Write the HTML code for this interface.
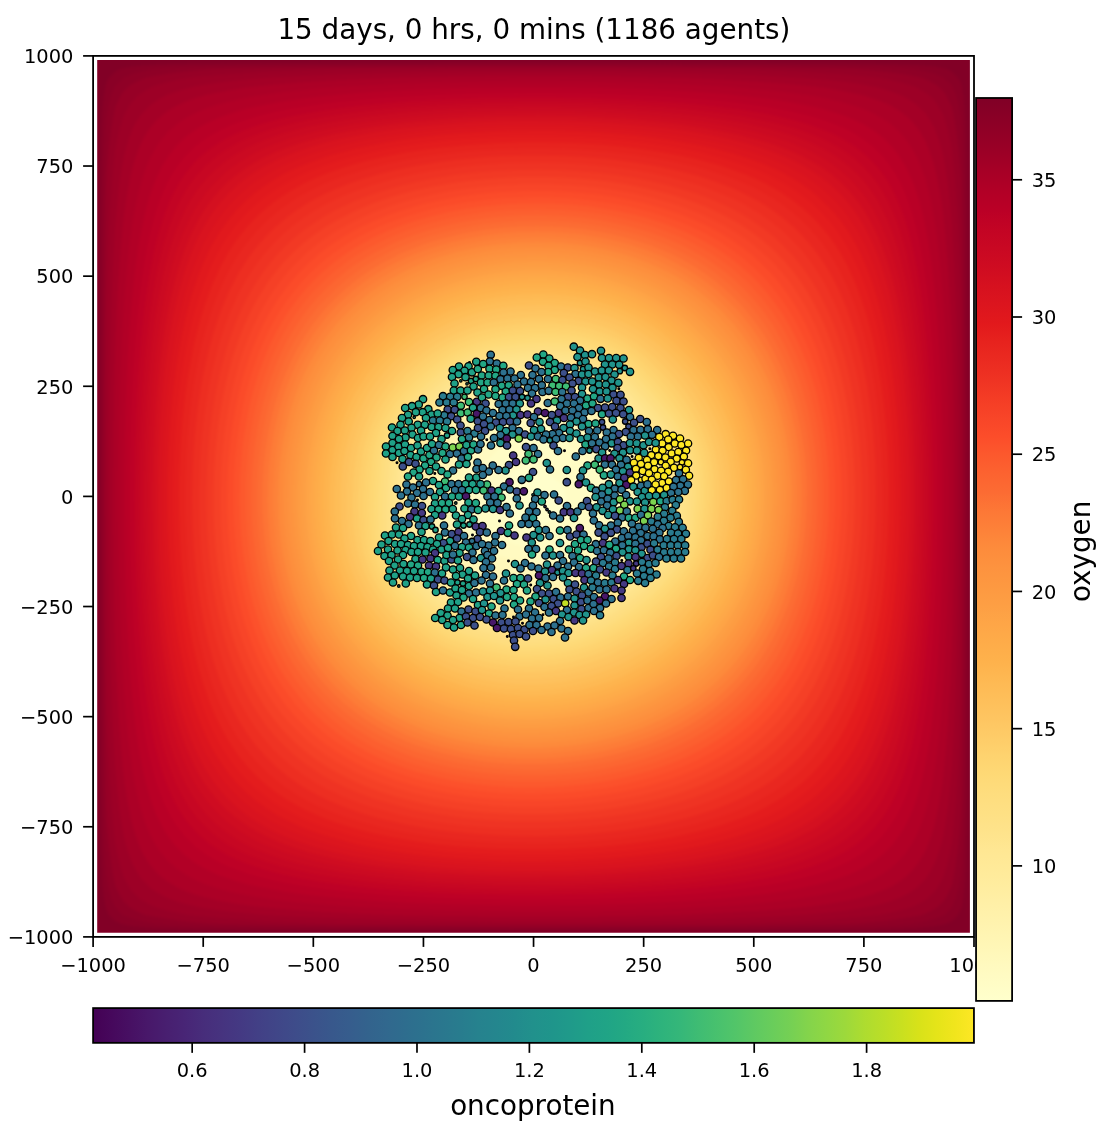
<!DOCTYPE html>
<html lang="en"><head><meta charset="utf-8"><title>15 days, 0 hrs, 0 mins (1186 agents)</title>
<style>html,body{margin:0;padding:0;background:#fff}svg{display:block}</style></head>
<body>
<svg width="1112" height="1130" viewBox="0 0 1112 1130" style="display:block">
<rect width="1112" height="1130" fill="#fff"/>
<defs><linearGradient id="go" x1="0" y1="1" x2="0" y2="0"><stop offset="0.0000" stop-color="#ffffcc"/><stop offset="0.0208" stop-color="#fffcc5"/><stop offset="0.0417" stop-color="#fff9be"/><stop offset="0.0625" stop-color="#fff6b6"/><stop offset="0.0833" stop-color="#fff3af"/><stop offset="0.1042" stop-color="#fff0a8"/><stop offset="0.1250" stop-color="#ffeda0"/><stop offset="0.1458" stop-color="#ffea99"/><stop offset="0.1667" stop-color="#ffe793"/><stop offset="0.1875" stop-color="#fee38b"/><stop offset="0.2083" stop-color="#fee084"/><stop offset="0.2292" stop-color="#fedd7e"/><stop offset="0.2500" stop-color="#fed976"/><stop offset="0.2708" stop-color="#fed36f"/><stop offset="0.2917" stop-color="#fecc68"/><stop offset="0.3125" stop-color="#fec561"/><stop offset="0.3333" stop-color="#febf5a"/><stop offset="0.3542" stop-color="#feb953"/><stop offset="0.3750" stop-color="#feb24c"/><stop offset="0.3958" stop-color="#feac49"/><stop offset="0.4167" stop-color="#fea647"/><stop offset="0.4375" stop-color="#fd9f44"/><stop offset="0.4583" stop-color="#fd9941"/><stop offset="0.4792" stop-color="#fd933f"/><stop offset="0.5000" stop-color="#fd8c3c"/><stop offset="0.5208" stop-color="#fd8239"/><stop offset="0.5417" stop-color="#fd7836"/><stop offset="0.5625" stop-color="#fc6c33"/><stop offset="0.5833" stop-color="#fc6330"/><stop offset="0.6042" stop-color="#fc592d"/><stop offset="0.6250" stop-color="#fc4d2a"/><stop offset="0.6458" stop-color="#f84528"/><stop offset="0.6667" stop-color="#f43d25"/><stop offset="0.6875" stop-color="#ef3323"/><stop offset="0.7083" stop-color="#eb2b21"/><stop offset="0.7292" stop-color="#e7231e"/><stop offset="0.7500" stop-color="#e2191c"/><stop offset="0.7708" stop-color="#dc151e"/><stop offset="0.7917" stop-color="#d6111f"/><stop offset="0.8125" stop-color="#cf0c21"/><stop offset="0.8333" stop-color="#c90823"/><stop offset="0.8542" stop-color="#c30424"/><stop offset="0.8750" stop-color="#bb0026"/><stop offset="0.8958" stop-color="#b20026"/><stop offset="0.9167" stop-color="#a80026"/><stop offset="0.9375" stop-color="#9d0026"/><stop offset="0.9583" stop-color="#930026"/><stop offset="0.9792" stop-color="#8a0026"/><stop offset="1.0000" stop-color="#800026"/></linearGradient><linearGradient id="gv" x1="0" y1="0" x2="1" y2="0"><stop offset="0.0000" stop-color="#440154"/><stop offset="0.0208" stop-color="#46085c"/><stop offset="0.0417" stop-color="#471063"/><stop offset="0.0625" stop-color="#48186a"/><stop offset="0.0833" stop-color="#481f70"/><stop offset="0.1042" stop-color="#482576"/><stop offset="0.1250" stop-color="#472d7b"/><stop offset="0.1458" stop-color="#46337f"/><stop offset="0.1667" stop-color="#443983"/><stop offset="0.1875" stop-color="#424086"/><stop offset="0.2083" stop-color="#404688"/><stop offset="0.2292" stop-color="#3e4c8a"/><stop offset="0.2500" stop-color="#3b528b"/><stop offset="0.2708" stop-color="#38588c"/><stop offset="0.2917" stop-color="#365d8d"/><stop offset="0.3125" stop-color="#33638d"/><stop offset="0.3333" stop-color="#31688e"/><stop offset="0.3542" stop-color="#2e6d8e"/><stop offset="0.3750" stop-color="#2c728e"/><stop offset="0.3958" stop-color="#2a778e"/><stop offset="0.4167" stop-color="#287c8e"/><stop offset="0.4375" stop-color="#26828e"/><stop offset="0.4583" stop-color="#24868e"/><stop offset="0.4792" stop-color="#228b8d"/><stop offset="0.5000" stop-color="#21918c"/><stop offset="0.5208" stop-color="#1f958b"/><stop offset="0.5417" stop-color="#1f9a8a"/><stop offset="0.5625" stop-color="#1fa088"/><stop offset="0.5833" stop-color="#20a486"/><stop offset="0.6042" stop-color="#23a983"/><stop offset="0.6250" stop-color="#28ae80"/><stop offset="0.6458" stop-color="#2eb37c"/><stop offset="0.6667" stop-color="#35b779"/><stop offset="0.6875" stop-color="#3fbc73"/><stop offset="0.7083" stop-color="#48c16e"/><stop offset="0.7292" stop-color="#52c569"/><stop offset="0.7500" stop-color="#5ec962"/><stop offset="0.7708" stop-color="#69cd5b"/><stop offset="0.7917" stop-color="#75d054"/><stop offset="0.8125" stop-color="#84d44b"/><stop offset="0.8333" stop-color="#90d743"/><stop offset="0.8542" stop-color="#9dd93b"/><stop offset="0.8750" stop-color="#addc30"/><stop offset="0.8958" stop-color="#bade28"/><stop offset="0.9167" stop-color="#c8e020"/><stop offset="0.9375" stop-color="#d8e219"/><stop offset="0.9583" stop-color="#e5e419"/><stop offset="0.9792" stop-color="#f1e51d"/><stop offset="1.0000" stop-color="#fde725"/></linearGradient></defs>
<clipPath id="fc"><rect x="97.20" y="60.00" width="872.69" height="872.79"/></clipPath>
<filter id="bl" x="-5%" y="-5%" width="110%" height="110%" color-interpolation-filters="sRGB"><feGaussianBlur stdDeviation="1.6"/></filter>
<g id="field" clip-path="url(#fc)"><g filter="url(#bl)"><rect x="85.50" y="48.30" width="896.09" height="896.19" fill="#820026"/>
<path fill="#8a0026" d="M120.7,923.7 123.9,924.6 132.7,926.2 141.5,927.1 159.2,928.2 194.4,929.2 238.4,929.7 361.8,930.3 555.6,930.5 731.8,930.2 846.3,929.6 872.7,929.2 899.1,928.6 916.7,927.8 925.6,927.1 934.4,926.2 943.2,924.6 946.4,923.7 952.0,921.0 958.1,914.9 960.8,909.3 961.7,906.1 963.3,897.3 964.2,888.4 964.9,879.6 965.7,862.0 966.6,818.0 967.3,712.2 967.6,536.0 967.4,342.2 966.9,210.1 966.5,166.0 966.0,139.6 965.3,122.0 964.2,104.4 963.3,95.5 961.7,86.7 960.8,83.4 958.2,77.9 952.0,71.7 946.5,69.1 943.2,68.2 934.4,66.6 925.6,65.7 916.7,65.0 899.1,64.2 855.1,63.3 749.4,62.6 582.0,62.3 388.2,62.5 247.3,63.0 203.2,63.4 176.8,64.0 159.2,64.6 141.5,65.7 132.7,66.6 123.9,68.2 120.7,69.1 115.1,71.7 108.9,77.9 106.3,83.5 105.4,86.7 103.8,95.5 102.9,104.4 102.2,113.2 101.4,130.8 100.5,174.8 100.1,227.7 99.8,298.2 99.5,509.6 99.8,712.2 100.2,782.7 100.6,826.8 101.2,853.2 102.2,879.6 102.9,888.4 103.8,897.3 105.4,906.1 106.3,909.3 108.9,914.9 115.1,921.1 120.7,923.7Z"/>
<path fill="#8f0026" d="M154.5,923.7 168.0,924.8 185.6,925.7 220.8,926.8 282.5,927.6 370.6,928.2 511.5,928.5 652.5,928.3 767.0,927.8 846.3,926.8 872.7,926.1 890.3,925.3 907.9,924.1 912.4,923.7 916.7,923.0 925.6,921.3 934.4,919.0 943.2,915.4 944.0,914.9 952.0,906.9 952.5,906.1 956.1,897.3 958.4,888.4 960.8,875.3 961.9,862.0 962.8,844.4 963.9,809.2 964.5,765.1 965.0,712.2 965.6,553.7 965.5,386.3 964.7,245.3 964.1,192.5 963.2,157.2 961.9,130.8 960.8,117.0 958.4,104.4 956.2,95.5 952.6,86.7 952.0,85.7 944.2,77.9 943.2,77.3 934.4,73.7 925.6,71.5 912.9,69.1 899.1,68.0 881.5,67.0 846.3,66.0 802.2,65.4 749.4,64.9 599.6,64.3 423.4,64.4 282.5,65.2 238.4,65.7 203.2,66.4 176.8,67.5 168.0,68.0 154.6,69.1 141.5,71.5 132.7,73.8 123.9,77.4 123.1,77.9 115.1,85.9 114.6,86.7 111.0,95.5 108.7,104.4 106.3,117.4 105.2,130.8 104.3,148.4 103.4,174.8 102.8,210.1 102.1,280.6 101.6,386.3 101.5,500.8 101.6,615.3 102.0,703.4 102.7,773.9 103.4,818.0 103.9,835.6 104.7,853.2 105.2,862.0 106.3,875.5 108.7,888.4 111.0,897.3 114.6,906.1 115.1,907.0 123.0,914.9 123.9,915.4 132.7,919.0 141.5,921.3 154.5,923.7Z"/>
<path fill="#970026" d="M212.2,923.7 264.9,924.9 326.5,925.7 414.6,926.3 520.3,926.6 626.0,926.4 722.9,925.9 793.4,925.1 846.3,923.9 854.3,923.7 863.9,922.9 890.3,920.1 907.9,917.6 916.7,916.0 921.8,914.9 925.6,913.4 934.4,909.0 938.7,906.1 943.2,901.6 946.1,897.3 950.5,888.4 952.0,884.7 953.1,879.6 954.7,870.8 957.3,853.2 959.2,835.6 960.8,817.5 961.7,782.7 962.3,747.5 963.3,641.8 963.7,500.8 963.4,359.8 962.9,289.4 962.1,227.7 961.1,183.6 960.8,174.1 960.1,166.0 958.4,148.4 956.2,130.8 954.8,122.0 953.2,113.2 952.0,107.7 950.7,104.4 946.2,95.5 943.2,91.0 938.9,86.7 934.4,83.7 925.6,79.2 922.2,77.9 916.7,76.7 907.9,75.1 890.3,72.6 872.7,70.6 855.7,69.1 819.8,68.2 784.6,67.5 678.9,66.6 538.0,66.2 397.0,66.5 326.5,67.1 264.9,67.8 212.3,69.1 203.2,69.8 185.6,71.6 168.0,73.8 159.2,75.2 150.4,76.8 145.2,77.9 141.5,79.3 132.7,83.8 128.3,86.7 123.9,91.1 121.0,95.5 116.5,104.4 115.1,108.0 114.0,113.2 112.4,122.0 111.0,130.8 108.8,148.4 106.3,174.8 105.4,210.1 104.2,289.4 103.6,395.1 103.4,518.4 103.7,633.0 104.4,721.1 105.6,791.5 106.3,818.0 108.8,844.4 111.0,862.0 112.4,870.8 114.0,879.6 115.1,884.9 116.5,888.4 121.0,897.3 123.9,901.7 128.3,906.1 132.7,909.0 141.5,913.5 145.1,914.9 150.4,916.0 159.2,917.6 176.8,920.2 194.4,922.2 212.2,923.7Z"/>
<path fill="#9d0026" d="M340.7,923.7 423.4,924.3 511.5,924.6 599.6,924.5 687.7,924.0 724.5,923.7 749.4,923.0 784.6,921.6 819.8,919.8 855.1,917.3 879.4,914.9 890.3,912.7 899.1,910.7 907.9,908.2 914.3,906.1 916.7,904.9 925.6,899.8 928.9,897.3 934.4,891.8 936.9,888.4 942.0,879.6 943.2,877.2 945.3,870.8 947.8,862.0 949.9,853.2 952.0,842.4 953.6,826.8 955.8,800.3 957.5,773.9 959.2,738.7 960.8,691.6 961.7,571.3 961.8,500.8 961.7,430.3 961.4,359.8 960.8,298.4 959.3,254.1 957.0,210.1 954.5,174.8 952.0,149.5 950.0,139.6 947.9,130.8 945.5,122.0 943.2,115.1 942.3,113.2 937.1,104.4 934.4,100.6 929.3,95.5 925.6,92.8 916.7,87.6 914.8,86.7 907.9,84.4 899.1,82.0 890.3,79.9 880.4,77.9 863.9,76.2 837.5,74.0 811.0,72.4 775.8,70.7 729.6,69.1 608.4,68.3 467.5,68.2 397.0,68.6 339.9,69.1 291.3,70.7 256.1,72.4 220.8,74.8 203.2,76.3 187.4,77.9 176.8,80.0 168.0,82.1 159.2,84.5 152.6,86.7 150.4,87.8 141.5,92.9 138.1,95.5 132.7,100.9 130.1,104.4 125.0,113.2 123.9,115.4 121.7,122.0 119.3,130.8 117.2,139.6 115.1,150.2 113.5,166.0 112.0,183.6 109.6,218.9 107.9,254.1 106.3,301.8 105.6,395.1 105.3,500.8 105.6,597.7 106.3,691.9 107.5,729.9 108.7,756.3 110.1,782.7 111.9,809.2 113.4,826.8 115.1,842.8 117.2,853.2 119.3,862.0 121.7,870.8 123.9,877.4 125.0,879.6 130.1,888.4 132.7,892.0 138.0,897.3 141.5,899.9 150.4,905.0 152.6,906.1 159.2,908.3 168.0,910.7 176.8,912.8 187.3,914.9 203.2,916.5 220.8,918.0 247.3,919.8 273.7,921.3 308.9,922.7 340.7,923.7Z"/>
<path fill="#a40026" d="M262.9,914.9 291.3,916.5 317.7,917.6 344.2,918.6 379.4,919.6 449.9,920.8 520.3,921.3 599.6,921.0 670.1,919.9 731.8,918.2 758.2,917.2 784.6,916.0 803.2,914.9 811.0,914.2 828.7,912.5 846.3,910.5 863.9,907.8 873.1,906.1 881.5,903.9 890.3,901.3 899.1,898.1 901.1,897.3 907.9,893.7 916.7,887.7 925.6,878.7 930.8,870.8 934.4,864.1 935.2,862.0 938.5,853.2 941.1,844.4 943.2,836.2 944.9,826.8 947.6,809.2 949.7,791.5 952.0,767.2 954.0,729.9 955.5,694.6 956.8,650.6 957.7,606.5 958.3,562.5 958.6,509.6 958.5,456.8 958.1,412.7 957.5,368.7 956.7,333.4 955.6,298.2 954.1,262.9 952.0,223.7 949.9,201.3 947.8,183.6 945.1,166.0 943.2,155.6 941.3,148.4 938.7,139.6 935.5,130.8 934.4,128.1 931.1,122.0 925.6,113.6 916.3,104.4 907.9,98.8 901.8,95.5 899.1,94.4 890.3,91.2 881.5,88.6 874.2,86.7 863.9,84.8 846.3,82.1 828.7,80.1 805.7,77.9 775.8,76.2 740.6,74.7 696.5,73.3 652.5,72.4 608.4,71.8 555.6,71.4 502.7,71.5 449.9,71.9 405.8,72.6 370.6,73.4 335.3,74.5 300.1,75.9 262.9,77.9 238.4,80.2 220.8,82.3 203.2,84.9 193.6,86.7 185.6,88.8 176.8,91.4 168.0,94.6 165.8,95.5 159.2,99.0 151.1,104.4 141.5,113.9 136.2,122.0 132.7,128.6 128.6,139.6 126.0,148.4 123.9,156.4 122.1,166.0 120.7,174.8 119.4,183.6 117.4,201.3 115.1,225.4 112.7,271.7 111.1,315.8 110.1,351.0 109.4,386.3 108.6,465.6 108.7,544.9 109.2,588.9 109.7,624.1 110.5,659.4 111.6,694.6 113.0,729.9 114.4,756.3 115.1,767.7 117.4,791.5 119.4,809.2 120.7,818.0 122.1,826.8 123.9,836.5 125.9,844.4 128.5,853.2 131.8,862.0 132.7,864.3 136.2,870.8 141.5,878.9 151.1,888.4 159.2,893.8 165.7,897.3 168.0,898.2 176.8,901.4 185.6,904.0 193.6,906.1 203.2,907.9 220.8,910.5 238.4,912.6 262.9,914.9Z"/>
<path fill="#ac0026" d="M389.9,914.9 449.9,916.1 511.5,916.6 573.2,916.5 634.9,915.7 674.5,914.9 722.9,912.8 767.0,910.2 802.2,907.2 813.3,906.1 828.7,903.8 846.3,900.8 855.1,898.9 863.9,896.8 872.7,894.0 881.5,890.8 887.2,888.4 890.3,886.9 899.1,881.7 902.1,879.6 907.9,874.7 911.8,870.8 916.7,865.0 918.8,862.0 924.0,853.2 925.6,850.2 928.0,844.4 931.2,835.6 934.4,825.4 937.9,809.2 941.0,791.5 943.2,777.1 946.0,747.5 948.1,721.1 950.2,685.8 952.0,645.7 952.9,606.5 953.7,562.5 954.1,509.6 953.9,456.8 953.3,403.9 952.4,359.8 951.6,333.4 949.9,298.2 948.2,271.7 946.2,245.3 944.6,227.7 942.6,210.1 939.8,192.5 936.4,174.8 934.4,166.2 931.6,157.2 928.3,148.4 925.6,141.8 924.4,139.6 919.2,130.8 916.7,127.2 912.4,122.0 907.9,117.5 902.7,113.2 899.1,110.7 890.3,105.5 888.1,104.4 881.5,101.6 872.7,98.4 863.6,95.5 846.3,91.7 828.7,88.6 815.6,86.7 811.0,86.2 784.6,83.7 749.4,81.2 714.1,79.3 682.2,77.9 634.9,76.9 590.8,76.3 538.0,76.0 485.1,76.2 432.2,76.9 388.2,77.9 353.0,79.4 326.5,80.8 300.1,82.5 273.7,84.7 256.1,86.4 247.3,87.5 229.6,90.3 212.0,93.8 204.3,95.5 194.4,98.6 185.6,101.8 179.6,104.4 176.8,105.8 168.0,111.0 164.9,113.2 159.2,117.9 155.1,122.0 150.4,127.7 148.2,130.8 143.0,139.6 141.5,142.4 139.0,148.4 135.8,157.2 133.0,166.0 130.9,174.8 127.5,192.5 123.9,215.5 121.1,245.3 119.7,262.9 117.9,289.4 116.5,315.8 115.4,342.2 114.4,377.5 113.4,447.9 113.2,483.2 113.2,527.2 114.0,597.7 115.0,641.8 115.7,659.4 117.4,694.6 119.0,721.1 121.0,747.5 123.5,773.9 124.6,782.7 127.4,800.3 130.9,818.0 133.0,826.8 135.8,835.6 139.0,844.4 141.5,850.5 142.9,853.2 148.1,862.0 150.4,865.2 155.1,870.8 159.2,874.9 164.8,879.6 168.0,881.8 176.8,887.0 179.6,888.4 185.6,891.0 194.4,894.2 204.3,897.3 220.8,900.9 238.4,904.0 256.1,906.4 282.5,908.9 317.7,911.5 353.0,913.4 389.9,914.9Z"/>
<path fill="#b20026" d="M343.3,906.1 370.6,907.6 397.0,908.7 449.9,910.3 502.7,911.1 529.1,911.2 564.4,911.1 599.6,910.6 626.0,910.0 678.9,908.2 722.9,906.0 749.4,904.0 767.0,902.3 784.6,900.3 802.2,898.0 819.8,895.0 837.5,891.2 846.3,889.0 855.1,886.2 863.9,883.0 872.7,879.2 881.5,874.4 887.0,870.8 890.3,868.4 897.7,862.0 899.1,860.6 905.5,853.2 907.9,849.9 911.5,844.4 916.3,835.6 920.2,826.8 923.4,818.0 925.6,811.3 928.4,800.3 932.3,782.7 933.9,773.9 935.3,765.1 938.7,738.7 941.3,712.2 943.2,689.1 945.3,650.6 946.8,615.3 948.0,571.3 948.7,527.2 948.8,483.2 948.4,439.1 947.7,403.9 946.6,368.7 945.5,342.2 943.6,307.0 942.3,289.4 939.9,262.9 936.8,236.5 934.2,218.9 930.8,201.3 928.8,192.5 925.6,180.1 923.8,174.8 920.6,166.0 916.7,157.0 912.1,148.4 907.9,142.0 906.1,139.6 898.4,130.8 890.3,123.8 887.9,122.0 881.5,117.9 872.9,113.2 863.9,109.3 855.1,106.1 849.6,104.4 837.5,101.1 819.8,97.3 809.9,95.5 802.2,94.4 775.8,91.1 749.4,88.5 722.9,86.5 678.9,84.2 643.7,82.9 599.6,81.9 555.6,81.4 511.5,81.4 467.5,81.9 432.2,82.8 397.0,84.0 370.6,85.2 342.5,86.7 317.7,88.6 291.3,91.3 273.7,93.4 256.1,96.0 238.4,99.4 229.6,101.4 218.5,104.4 212.0,106.4 203.2,109.7 194.4,113.4 185.6,118.3 179.8,122.0 176.8,124.2 168.0,132.0 161.4,139.6 159.2,142.6 155.4,148.4 150.6,157.2 146.8,166.0 143.6,174.8 141.5,181.2 138.6,192.5 134.8,210.1 132.7,221.3 130.6,236.5 128.4,254.1 126.6,271.7 124.4,298.2 123.2,315.8 121.9,342.2 120.1,386.3 119.4,412.7 118.8,447.9 118.4,483.2 118.5,518.4 118.9,553.7 119.4,580.1 120.4,615.3 121.4,641.8 123.9,689.4 125.7,712.2 127.4,729.9 129.4,747.5 132.7,771.9 134.7,782.7 138.5,800.3 141.5,811.8 143.5,818.0 146.8,826.8 150.6,835.6 155.4,844.4 159.2,850.3 161.3,853.2 168.0,860.9 176.8,868.6 179.8,870.8 185.6,874.6 194.4,879.4 203.2,883.2 212.0,886.4 218.4,888.4 229.6,891.4 238.4,893.4 256.1,896.8 273.7,899.4 300.1,902.4 317.7,904.1 343.3,906.1Z"/>
<path fill="#b90026" d="M330.2,897.3 353.0,899.3 370.6,900.6 397.0,902.2 423.4,903.5 449.9,904.3 485.1,905.1 511.5,905.4 546.8,905.4 582.0,905.0 608.4,904.5 634.9,903.7 661.3,902.5 687.7,901.1 705.3,899.8 722.9,898.4 749.4,895.8 767.0,893.7 784.6,891.1 802.2,887.9 811.0,886.1 819.8,884.0 828.7,881.5 837.5,878.8 846.3,875.7 855.1,871.9 863.9,867.5 872.8,862.0 881.5,855.5 884.1,853.2 890.3,847.0 892.6,844.4 899.1,835.8 904.7,826.8 909.1,818.0 912.9,809.2 916.7,798.2 918.8,791.5 921.2,782.7 923.4,773.9 925.2,765.1 928.4,747.5 929.8,738.7 932.2,721.1 935.1,694.6 937.4,668.2 939.7,633.0 941.3,597.7 942.4,562.5 943.0,518.4 943.0,474.4 942.4,430.3 941.5,395.1 939.9,359.8 938.3,333.4 936.1,307.0 933.6,280.6 931.4,262.9 928.8,245.3 925.6,227.7 923.8,218.9 921.7,210.1 919.3,201.3 916.7,193.1 913.4,183.6 909.7,174.8 905.3,166.0 899.1,155.9 893.4,148.4 890.3,144.9 885.0,139.6 881.5,136.5 873.9,130.8 863.9,124.6 855.1,120.2 846.3,116.5 836.7,113.2 828.7,110.7 819.8,108.3 811.0,106.2 802.2,104.4 793.4,102.7 775.8,99.8 758.2,97.5 731.8,94.8 705.3,92.5 670.1,90.3 634.9,88.7 599.6,87.8 555.6,87.2 511.5,87.2 467.5,87.8 432.2,88.9 397.0,90.4 370.6,92.1 344.2,94.2 317.7,96.7 300.1,98.9 282.5,101.5 264.9,104.7 256.1,106.5 247.3,108.6 238.4,111.0 231.6,113.2 220.8,116.9 212.0,120.7 203.2,125.1 193.9,130.8 185.6,137.1 182.7,139.6 176.8,145.6 174.3,148.4 168.0,156.7 162.2,166.0 159.2,172.0 154.1,183.6 150.9,192.5 148.2,201.3 145.8,210.1 143.7,218.9 140.2,236.5 137.2,254.1 134.9,271.7 131.3,307.0 128.6,342.2 127.5,359.8 126.3,386.3 125.4,412.7 124.7,439.1 124.4,465.6 124.2,500.8 124.4,536.0 124.9,562.5 125.6,588.9 126.6,615.3 127.9,641.8 129.7,668.2 131.2,685.8 133.8,712.2 135.9,729.9 138.5,747.5 140.1,756.3 143.6,773.9 145.7,782.7 148.1,791.5 150.9,800.3 154.0,809.2 157.8,818.0 162.2,826.8 168.0,836.2 174.2,844.4 176.8,847.3 182.7,853.2 185.6,855.8 194.4,862.4 203.2,867.8 212.0,872.2 220.8,875.9 231.5,879.6 238.4,881.8 247.3,884.2 256.1,886.3 264.9,888.1 282.5,891.3 291.3,892.7 308.9,895.0 330.2,897.3Z"/>
<path fill="#be0126" d="M421.9,897.3 441.1,898.2 467.5,899.1 511.5,899.9 538.0,900.0 564.4,899.8 608.4,898.7 634.9,897.6 661.3,896.3 696.5,893.9 714.1,892.3 731.8,890.4 749.4,888.1 767.0,885.5 784.6,882.3 802.2,878.3 811.0,876.0 819.8,873.4 828.7,870.3 837.5,866.9 847.9,862.0 855.1,858.1 862.8,853.2 874.0,844.4 882.7,835.6 889.6,826.8 895.4,818.0 900.1,809.2 904.2,800.3 907.6,791.5 910.7,782.7 913.4,773.9 917.8,756.3 921.4,738.7 924.3,721.1 928.0,694.6 930.7,668.2 932.9,641.8 935.5,597.7 936.9,562.5 937.7,527.2 937.9,483.2 937.4,447.9 936.4,412.7 934.7,377.5 933.1,351.0 931.0,324.6 928.3,298.2 926.0,280.6 923.4,262.9 920.2,245.3 916.2,227.7 913.9,218.9 911.3,210.1 908.2,201.3 904.8,192.5 900.8,183.6 896.1,174.8 890.3,165.8 883.6,157.2 881.5,154.8 875.1,148.4 872.7,146.3 864.1,139.6 855.1,133.8 846.3,129.1 837.5,125.2 828.7,121.8 819.8,118.7 811.0,116.1 793.4,111.8 784.6,109.9 767.0,106.7 740.6,102.9 722.9,100.8 696.5,98.4 661.3,96.0 617.2,93.9 582.0,92.9 546.8,92.5 502.7,92.7 467.5,93.4 432.2,94.8 397.0,96.7 370.6,98.6 353.0,100.2 335.3,102.1 308.9,105.7 291.3,108.5 273.7,112.1 256.1,116.5 247.3,119.2 238.4,122.2 229.6,125.6 220.8,129.7 212.0,134.4 203.2,140.1 194.4,147.0 185.6,155.6 177.3,166.0 171.6,174.8 166.8,183.6 162.8,192.5 159.4,201.3 156.3,210.1 153.7,218.9 149.3,236.5 147.3,245.3 144.1,262.9 139.2,298.2 137.3,315.8 135.7,333.4 133.8,359.8 132.3,386.3 131.1,412.7 130.2,439.1 129.7,465.6 129.5,492.0 129.6,518.4 130.0,544.9 130.7,571.3 131.8,597.7 133.7,633.0 134.9,650.6 137.2,677.0 139.1,694.6 140.2,703.4 144.0,729.9 147.2,747.5 149.2,756.3 153.6,773.9 156.2,782.7 159.3,791.5 162.7,800.3 168.0,811.6 171.5,818.0 176.8,826.2 184.1,835.6 185.6,837.3 194.4,845.9 203.8,853.2 212.0,858.5 220.8,863.2 229.6,867.2 238.4,870.6 247.3,873.7 256.1,876.3 273.7,880.7 282.5,882.6 300.1,885.7 326.5,889.5 353.0,892.5 370.6,894.1 388.2,895.4 421.9,897.3Z"/>
<path fill="#c30424" d="M375.8,888.4 397.0,890.3 423.4,892.0 441.1,892.9 467.5,893.9 511.5,894.8 538.0,894.9 564.4,894.6 590.8,894.1 617.2,893.1 643.7,891.8 661.3,890.7 678.9,889.3 705.3,886.9 722.9,884.9 740.6,882.5 749.4,881.1 767.0,878.0 784.6,874.2 793.4,872.0 802.2,869.5 811.0,866.7 819.8,863.6 828.7,860.0 837.5,855.8 846.3,851.0 855.1,845.2 863.9,838.3 866.9,835.6 872.7,829.8 875.5,826.8 882.4,818.0 888.2,809.2 893.1,800.3 897.3,791.5 900.9,782.7 904.1,773.9 906.9,765.1 909.4,756.3 911.7,747.5 915.5,729.9 918.7,712.2 920.1,703.4 923.6,677.0 926.3,650.6 928.6,624.1 930.7,588.9 932.0,553.7 932.8,518.4 932.9,483.2 932.4,447.9 931.2,412.7 929.4,377.5 927.4,351.0 925.8,333.4 922.9,307.0 920.5,289.4 917.6,271.7 914.2,254.1 910.0,236.5 907.5,227.7 904.7,218.9 901.6,210.1 899.1,203.9 893.9,192.5 889.1,183.6 883.4,174.8 881.5,172.3 876.5,166.0 872.7,161.8 868.1,157.2 863.9,153.4 855.1,146.6 846.3,140.9 837.5,136.1 828.7,132.0 819.8,128.4 811.0,125.3 802.2,122.6 793.4,120.1 784.6,117.9 767.0,114.1 749.4,111.0 740.6,109.6 714.1,106.2 687.7,103.6 661.3,101.5 626.0,99.5 590.8,98.2 555.6,97.6 520.3,97.5 485.1,98.1 449.9,99.2 414.6,101.1 388.2,103.1 361.8,105.6 344.2,107.6 326.5,110.0 308.9,112.9 291.3,116.3 273.7,120.5 264.9,123.0 256.1,125.8 242.6,130.8 238.4,132.5 229.6,136.7 220.8,141.5 210.5,148.4 203.2,154.2 199.8,157.2 194.4,162.6 191.3,166.0 185.6,173.2 178.7,183.6 173.8,192.5 169.7,201.3 166.1,210.1 162.9,218.9 159.2,231.1 155.4,245.3 153.4,254.1 150.0,271.7 147.1,289.4 144.6,307.0 142.6,324.6 140.9,342.2 139.4,359.8 138.1,377.5 137.1,395.1 135.9,421.5 134.8,465.6 134.5,492.0 134.6,518.4 135.1,544.9 135.8,571.3 137.0,597.7 138.0,615.3 139.3,633.0 140.8,650.6 143.5,677.0 145.7,694.6 148.3,712.2 151.5,729.9 155.3,747.5 157.5,756.3 160.0,765.1 162.8,773.9 166.0,782.7 169.6,791.5 173.7,800.3 176.8,806.0 178.6,809.2 184.3,818.0 191.2,826.8 194.4,830.3 199.7,835.6 203.2,838.7 210.3,844.4 220.8,851.3 229.6,856.2 238.4,860.3 247.3,863.9 256.1,867.0 264.9,869.8 273.7,872.3 282.5,874.5 300.1,878.2 317.7,881.4 326.5,882.7 353.0,886.2 375.8,888.4Z"/>
<path fill="#c70723" d="M455.2,888.4 476.3,889.2 502.7,889.9 520.3,890.1 546.8,890.0 573.2,889.6 590.8,889.1 617.2,888.1 634.9,887.1 670.1,884.6 687.7,882.9 705.3,881.0 722.9,878.6 740.6,875.9 758.2,872.6 767.0,870.7 784.6,866.4 793.4,863.8 802.2,860.9 811.0,857.7 819.8,854.0 828.7,849.8 837.5,845.0 846.3,839.3 855.1,832.5 861.4,826.8 863.9,824.3 869.7,818.0 876.5,809.2 882.2,800.3 887.1,791.5 891.4,782.7 895.1,773.9 899.1,762.9 903.9,747.5 906.2,738.7 910.2,721.1 913.6,703.4 917.6,677.0 920.8,650.6 923.3,624.1 925.1,597.7 926.9,562.5 928.0,527.2 928.3,492.0 927.9,456.8 926.7,421.5 924.8,386.3 922.8,359.8 920.2,333.4 918.0,315.8 914.1,289.4 910.8,271.7 906.8,254.1 904.5,245.3 901.9,236.5 899.1,227.7 895.9,218.9 892.2,210.1 888.0,201.3 883.2,192.5 877.5,183.6 870.8,174.8 863.9,167.2 855.1,159.1 846.3,152.4 837.5,146.8 828.7,142.0 819.8,137.8 811.0,134.2 802.2,131.0 793.4,128.1 784.6,125.6 775.8,123.3 758.2,119.4 740.6,116.1 714.1,112.2 687.7,109.1 661.3,106.8 626.0,104.5 590.8,103.1 555.6,102.3 520.3,102.3 485.1,102.9 449.9,104.3 414.6,106.4 388.2,108.6 361.8,111.4 344.2,113.8 326.5,116.5 308.9,119.8 291.3,123.8 282.5,126.1 273.7,128.7 264.9,131.5 256.1,134.8 247.3,138.4 238.4,142.6 229.6,147.5 220.8,153.2 212.0,159.9 205.3,166.0 197.1,174.8 190.3,183.6 184.6,192.5 179.8,201.3 175.6,210.1 171.9,218.9 168.0,229.7 163.2,245.3 160.9,254.1 156.9,271.7 153.6,289.4 150.8,307.0 148.5,324.6 146.5,342.2 144.8,359.8 142.8,386.3 141.3,412.7 140.5,430.3 139.9,447.9 139.4,474.4 139.2,500.8 139.5,527.2 140.1,553.7 140.8,571.3 142.1,597.7 143.3,615.3 145.5,641.8 147.3,659.4 149.4,677.0 152.0,694.6 155.0,712.2 156.7,721.1 160.7,738.7 163.0,747.5 165.6,756.3 168.0,763.5 171.7,773.9 175.4,782.7 179.6,791.5 185.6,802.1 190.2,809.2 194.4,814.8 197.0,818.0 203.2,824.8 212.0,832.9 215.3,835.6 220.8,839.7 228.0,844.4 238.4,850.2 247.3,854.4 256.1,858.1 264.9,861.3 273.7,864.1 282.5,866.7 291.3,869.0 308.9,872.9 317.7,874.7 335.3,877.6 361.8,881.2 388.2,884.0 405.8,885.5 423.4,886.8 455.2,888.4Z"/>
<path fill="#cb0a22" d="M398.5,879.6 423.4,881.7 441.1,882.9 458.7,883.8 485.1,884.8 502.7,885.2 529.1,885.4 555.6,885.3 573.2,884.9 599.6,884.0 617.2,883.2 643.7,881.5 661.3,880.1 678.9,878.3 696.5,876.3 714.1,873.9 733.1,870.8 749.4,867.7 758.2,865.7 773.0,862.0 784.6,858.6 793.4,855.7 800.3,853.2 811.0,848.7 819.8,844.6 828.7,839.7 837.5,834.1 846.3,827.5 856.8,818.0 864.8,809.2 871.4,800.3 877.1,791.5 881.9,782.7 886.2,773.9 890.3,764.1 893.2,756.3 896.2,747.5 898.8,738.7 901.2,729.9 905.4,712.2 907.9,699.6 910.4,685.8 914.2,659.4 916.7,637.9 919.6,606.5 921.4,580.1 922.6,553.7 923.5,518.4 923.6,483.2 923.0,447.9 921.5,412.7 919.9,386.3 917.6,359.8 915.7,342.2 912.2,315.8 909.4,298.2 906.0,280.6 901.9,262.9 899.5,254.1 896.9,245.3 894.0,236.5 890.7,227.7 887.1,218.9 882.9,210.1 878.1,201.3 872.5,192.5 866.0,183.6 858.2,174.8 855.1,171.7 848.8,166.0 846.3,164.0 837.5,157.5 828.7,151.9 819.8,147.2 811.0,143.0 802.2,139.3 793.4,136.1 784.6,133.2 775.8,130.6 767.0,128.3 749.4,124.2 737.9,122.0 722.9,119.4 705.3,116.8 678.9,113.7 652.5,111.2 634.9,109.9 617.2,108.9 590.8,107.8 555.6,107.0 520.3,106.9 485.1,107.6 449.9,109.1 423.4,110.8 397.0,113.1 370.6,116.0 353.0,118.4 331.5,122.0 317.7,124.7 308.9,126.6 292.6,130.8 282.5,133.8 273.7,136.7 265.8,139.6 256.1,143.7 247.3,147.8 238.4,152.7 229.6,158.3 220.8,164.9 212.0,172.7 203.2,182.2 195.4,192.5 189.8,201.3 185.0,210.1 180.8,218.9 177.1,227.7 173.8,236.5 170.8,245.3 168.2,254.1 165.8,262.9 163.7,271.7 160.0,289.4 156.8,307.0 154.2,324.6 152.0,342.2 150.1,359.8 148.5,377.5 147.1,395.1 146.1,412.7 144.9,439.1 144.3,456.8 143.9,483.2 143.9,509.6 144.1,527.2 144.8,553.7 145.5,571.3 147.0,597.7 148.3,615.3 149.9,633.0 151.8,650.6 154.0,668.2 156.7,685.8 159.8,703.4 163.5,721.1 168.0,738.4 170.7,747.5 173.6,756.3 176.8,764.8 180.6,773.9 185.6,784.2 189.7,791.5 195.3,800.3 203.2,810.8 209.7,818.0 212.0,820.2 220.8,828.0 229.6,834.6 238.4,840.2 247.3,845.0 256.1,849.2 265.8,853.2 273.7,856.1 282.5,859.0 291.3,861.6 300.1,864.0 317.7,868.0 332.1,870.8 344.2,872.9 370.6,876.6 398.5,879.6Z"/>
<path fill="#cf0c21" d="M473.0,879.6 493.9,880.3 511.5,880.7 529.1,880.8 555.6,880.6 582.0,880.0 599.6,879.2 626.0,877.7 643.7,876.4 661.3,874.8 678.9,872.9 696.5,870.7 714.1,868.0 731.8,864.8 740.6,863.0 758.2,858.9 767.0,856.5 775.8,853.8 784.6,850.9 793.4,847.6 802.2,843.9 811.0,839.7 819.8,835.0 828.7,829.5 837.5,823.1 846.3,815.6 852.8,809.2 860.4,800.3 863.9,795.7 866.8,791.5 872.7,782.2 877.2,773.9 881.4,765.1 885.1,756.3 888.5,747.5 891.5,738.7 894.2,729.9 898.8,712.2 902.7,694.6 904.4,685.8 907.4,668.2 911.0,641.8 913.9,615.3 916.0,588.9 917.6,562.5 918.8,527.2 919.2,500.8 918.9,465.6 917.8,430.3 916.3,403.9 914.9,386.3 913.3,368.7 910.3,342.2 907.9,325.0 906.5,315.8 903.3,298.2 899.5,280.6 894.9,262.9 890.3,248.2 886.0,236.5 881.5,225.8 878.2,218.9 873.5,210.1 868.0,201.3 861.7,192.5 854.2,183.6 845.3,174.8 837.5,168.3 828.7,162.0 819.8,156.6 811.0,151.9 803.8,148.4 793.4,144.1 784.6,140.8 775.8,137.9 758.2,132.9 749.4,130.7 731.8,127.0 722.9,125.3 705.3,122.5 678.9,119.0 652.5,116.3 626.0,114.2 599.6,112.8 564.4,111.7 538.0,111.4 502.7,111.8 467.5,113.0 441.1,114.5 423.4,115.8 405.8,117.4 379.4,120.4 367.8,122.0 353.0,124.3 335.3,127.5 317.7,131.3 300.1,135.9 287.9,139.6 273.7,144.7 264.9,148.4 256.1,152.6 247.5,157.2 238.4,162.9 229.6,169.2 220.8,176.7 212.0,185.7 206.4,192.5 200.0,201.3 194.4,210.2 189.7,218.9 185.6,227.5 181.8,236.5 176.8,250.4 172.9,262.9 170.5,271.7 168.0,281.9 164.5,298.2 161.3,315.8 158.6,333.4 156.3,351.0 154.4,368.7 152.8,386.3 150.9,412.7 149.9,430.3 148.9,456.8 148.5,474.4 148.4,500.8 148.7,527.2 149.1,544.9 149.8,562.5 150.7,580.1 152.6,606.5 154.2,624.1 156.1,641.8 158.4,659.4 161.1,677.0 164.3,694.6 168.0,711.6 170.3,721.1 172.7,729.9 176.8,742.9 181.7,756.3 185.4,765.1 189.6,773.9 194.3,782.7 199.8,791.5 206.2,800.3 212.0,807.3 220.8,816.2 229.6,823.7 233.8,826.8 238.4,830.0 247.3,835.5 256.1,840.2 264.9,844.4 273.7,848.1 282.5,851.3 291.3,854.3 308.9,859.3 326.5,863.4 335.3,865.2 353.0,868.4 379.4,872.2 405.8,875.1 423.4,876.7 441.1,878.0 473.0,879.6Z"/>
<path fill="#d41020" d="M414.5,870.8 432.2,872.4 449.9,873.6 467.5,874.6 493.9,875.6 511.5,876.0 538.0,876.1 564.4,875.7 582.0,875.2 608.4,873.9 626.0,872.8 643.7,871.4 661.3,869.6 678.9,867.5 696.5,865.0 714.1,862.1 731.8,858.5 749.4,854.3 758.2,851.9 767.0,849.2 781.1,844.4 793.4,839.3 801.5,835.6 811.0,830.5 817.4,826.8 830.1,818.0 837.5,811.8 846.3,803.3 849.0,800.3 856.3,791.5 862.6,782.7 868.0,773.9 872.8,765.1 876.9,756.3 881.5,745.4 887.0,729.9 889.7,721.1 892.2,712.2 894.4,703.4 898.4,685.8 901.6,668.2 904.4,650.6 907.9,623.7 910.5,597.7 912.4,571.3 913.7,544.9 914.3,527.2 914.6,509.6 914.5,474.4 913.8,447.9 913.1,430.3 912.0,412.7 910.0,386.3 907.9,365.8 904.9,342.2 900.6,315.8 897.1,298.2 892.9,280.6 890.5,271.7 887.8,262.9 884.8,254.1 881.6,245.3 877.9,236.5 872.7,225.5 869.1,218.9 863.9,210.1 857.7,201.3 850.5,192.5 846.3,187.8 842.1,183.6 837.5,179.4 831.9,174.8 828.7,172.3 819.8,166.2 811.0,160.9 802.2,156.3 793.4,152.2 784.2,148.4 775.8,145.3 767.0,142.4 758.2,139.7 749.4,137.4 740.6,135.2 722.9,131.4 705.3,128.2 678.9,124.3 652.5,121.3 626.0,119.1 599.6,117.5 573.2,116.5 538.0,116.0 502.7,116.4 476.3,117.3 458.7,118.2 441.1,119.4 414.6,121.7 388.2,124.7 370.6,127.2 353.0,130.2 335.3,133.7 317.7,137.9 308.9,140.4 300.1,143.0 284.7,148.4 273.7,153.0 264.6,157.2 256.1,161.8 248.9,166.0 238.4,173.3 229.6,180.5 226.2,183.6 220.8,189.0 217.7,192.5 212.0,199.2 204.2,210.1 198.9,218.9 194.4,227.2 190.0,236.5 185.6,247.2 180.1,262.9 177.4,271.7 175.0,280.6 170.7,298.2 168.0,311.4 165.6,324.6 162.9,342.2 160.6,359.8 158.6,377.5 157.0,395.1 155.7,412.7 154.7,430.3 153.9,447.9 153.0,483.2 153.0,509.6 153.3,527.2 154.1,553.7 155.0,571.3 156.2,588.9 157.6,606.5 159.3,624.1 161.5,641.8 164.0,659.4 167.0,677.0 168.7,685.8 172.6,703.4 176.8,719.7 179.9,729.9 182.9,738.7 186.1,747.5 189.9,756.3 194.0,765.1 198.7,773.9 203.2,781.4 210.3,791.5 217.5,800.3 220.8,804.0 226.0,809.2 229.6,812.4 236.3,818.0 248.8,826.8 256.1,831.1 264.5,835.6 273.7,839.8 282.5,843.5 291.3,846.8 300.1,849.7 308.9,852.4 317.7,854.8 335.3,858.9 350.5,862.0 361.8,864.0 388.2,867.8 414.5,870.8Z"/>
<path fill="#d9131f" d="M492.2,870.8 511.5,871.3 529.1,871.4 555.6,871.2 573.2,870.8 599.6,869.5 617.2,868.4 634.9,867.0 652.5,865.2 678.9,862.0 696.5,859.2 714.1,855.9 727.0,853.2 740.6,849.8 758.2,844.8 767.0,841.8 775.8,838.5 784.6,834.9 793.4,830.8 802.2,826.2 811.0,821.0 819.8,815.0 828.7,808.1 837.2,800.3 846.3,790.5 852.4,782.7 858.4,773.9 863.9,764.9 868.4,756.3 872.7,747.2 876.2,738.7 881.5,724.4 885.3,712.2 887.8,703.4 890.3,693.7 892.1,685.8 894.0,677.0 897.4,659.4 900.2,641.8 903.6,615.3 906.2,588.9 908.2,562.5 909.4,536.0 909.8,518.4 910.1,500.8 910.0,483.2 909.7,465.6 908.8,439.1 907.2,412.7 904.9,386.3 901.9,359.8 899.4,342.2 897.9,333.4 894.6,315.8 890.3,296.1 886.1,280.6 883.5,271.7 880.5,262.9 877.2,254.1 873.6,245.3 869.5,236.5 863.9,225.8 859.7,218.9 855.1,211.8 847.0,201.3 838.9,192.5 829.4,183.6 819.8,176.2 811.0,170.3 802.2,165.1 793.4,160.6 786.2,157.2 775.8,153.0 767.0,149.7 758.2,146.8 740.6,141.7 732.1,139.6 722.9,137.5 714.1,135.7 696.5,132.5 686.0,130.8 670.1,128.6 643.7,125.7 617.2,123.4 592.9,122.0 564.4,121.0 538.0,120.7 520.3,120.7 502.7,121.1 476.3,122.1 449.9,123.7 423.4,126.0 397.0,129.0 384.1,130.8 370.6,133.0 353.0,136.3 335.3,140.1 317.7,144.8 308.9,147.5 300.1,150.4 291.3,153.7 282.7,157.2 273.7,161.5 264.8,166.0 256.1,171.3 250.7,174.8 247.3,177.3 239.0,183.6 229.6,192.2 221.3,201.3 214.4,210.1 208.4,218.9 203.1,227.7 198.5,236.5 194.4,245.3 190.8,254.1 187.5,262.9 184.5,271.7 179.4,289.4 176.8,299.4 173.2,315.8 169.9,333.4 168.0,345.2 165.9,359.8 163.8,377.5 162.1,395.1 160.6,412.7 159.2,434.9 158.2,456.8 157.8,474.4 157.6,500.8 157.7,518.4 158.2,536.0 158.8,553.7 159.8,571.3 161.1,588.9 162.7,606.5 164.7,624.1 166.9,641.8 169.7,659.4 173.0,677.0 174.9,685.8 176.9,694.6 181.6,712.2 185.6,725.1 190.6,738.7 194.4,748.0 198.3,756.3 203.2,765.7 208.2,773.9 214.2,782.7 221.1,791.5 229.2,800.3 238.4,808.8 247.3,815.6 250.5,818.0 256.1,821.6 264.8,826.8 273.7,831.4 282.5,835.5 291.3,839.1 300.1,842.3 308.9,845.3 317.7,847.9 335.3,852.6 353.0,856.4 379.4,861.0 388.2,862.3 405.8,864.6 432.2,867.2 458.7,869.2 476.3,870.2 492.2,870.8Z"/>
<path fill="#dc151e" d="M431.9,862.0 449.9,863.5 467.5,864.7 485.1,865.5 511.5,866.3 529.1,866.5 555.6,866.2 573.2,865.7 590.8,864.9 608.4,863.9 631.7,862.0 652.5,859.7 670.1,857.4 696.5,853.2 714.1,849.5 731.8,845.3 740.6,842.9 758.2,837.3 767.0,834.0 775.8,830.4 783.8,826.8 793.4,821.8 802.2,816.8 813.5,809.2 819.8,804.3 828.7,796.6 833.7,791.5 837.5,787.5 841.6,782.7 848.4,773.9 854.3,765.1 859.4,756.3 863.9,747.9 868.1,738.7 871.9,729.9 875.1,721.1 878.1,712.2 881.5,701.5 883.4,694.6 887.7,677.0 891.5,659.4 895.9,633.0 899.1,608.7 901.1,588.9 903.1,562.5 904.5,536.0 905.2,509.6 905.3,492.0 905.1,474.4 904.3,447.9 902.8,421.5 900.6,395.1 899.1,380.6 897.6,368.7 893.6,342.2 890.4,324.6 886.4,307.0 881.8,289.4 876.1,271.7 872.7,262.4 869.2,254.1 865.2,245.3 860.7,236.5 855.1,226.7 849.8,218.9 846.3,214.0 843.2,210.1 837.5,203.3 828.7,194.4 819.8,186.8 811.0,180.2 802.2,174.4 793.4,169.4 786.9,166.0 775.8,161.0 767.0,157.3 749.4,151.3 740.1,148.4 731.8,146.2 714.1,142.0 696.5,138.4 670.1,134.2 643.7,130.9 626.0,129.2 599.6,127.4 573.2,126.2 546.8,125.6 529.1,125.6 511.5,125.8 485.1,126.7 458.7,128.2 441.1,129.5 427.9,130.8 405.8,133.4 388.2,136.0 367.0,139.6 344.2,144.6 329.4,148.4 317.7,152.0 308.9,154.9 300.1,158.2 291.3,161.8 282.5,165.8 273.7,170.4 264.9,175.4 252.8,183.6 247.3,188.0 242.0,192.5 238.4,195.7 232.9,201.3 225.1,210.1 218.4,218.9 212.0,228.5 207.5,236.5 203.2,244.6 198.9,254.1 194.4,264.9 189.0,280.6 186.2,289.4 181.6,307.0 177.6,324.6 175.9,333.4 171.6,359.8 169.2,377.5 167.2,395.1 165.7,412.7 164.5,430.3 163.5,447.9 162.7,474.4 162.5,492.0 162.5,509.6 162.8,527.2 163.4,544.9 164.3,562.5 165.5,580.1 167.1,597.7 169.0,615.3 171.3,633.0 174.1,650.6 176.8,665.5 179.3,677.0 181.3,685.8 185.6,702.2 188.7,712.2 194.4,728.5 198.6,738.7 202.6,747.5 207.2,756.3 212.0,764.7 218.2,773.9 224.9,782.7 232.7,791.5 238.4,797.3 247.3,805.0 256.1,811.6 264.9,817.4 273.7,822.5 282.5,827.0 291.3,831.0 302.6,835.6 317.7,840.7 326.5,843.4 335.3,845.8 344.2,848.0 361.8,851.9 379.4,855.1 405.8,859.0 431.9,862.0Z"/>
<path fill="#e1191d" d="M405.5,853.2 423.4,855.4 441.1,857.2 458.7,858.7 485.1,860.3 502.7,860.9 520.3,861.3 538.0,861.3 564.4,860.8 582.0,860.1 608.4,858.4 626.0,856.9 643.7,855.0 658.5,853.2 670.1,851.4 687.7,848.4 707.6,844.4 722.9,840.5 740.4,835.6 758.2,829.3 767.0,825.7 783.3,818.0 793.4,812.2 798.4,809.2 811.0,800.2 821.1,791.5 829.9,782.7 837.5,774.0 844.1,765.1 849.8,756.3 855.0,747.5 859.4,738.7 863.9,729.2 870.5,712.2 872.7,706.1 876.2,694.6 881.1,677.0 885.1,659.4 890.1,633.0 892.6,615.3 894.7,597.7 897.3,571.3 899.1,544.9 900.0,518.4 900.3,492.0 899.9,465.6 898.8,439.1 896.8,412.7 894.1,386.3 891.9,368.7 889.1,351.0 883.9,324.6 881.5,314.1 879.6,307.0 877.1,298.2 872.7,283.8 868.2,271.7 863.9,261.0 856.3,245.3 851.2,236.5 845.7,227.7 837.5,216.7 828.7,206.7 819.8,198.2 811.0,190.8 801.1,183.6 793.4,178.9 786.4,174.8 775.8,169.5 768.2,166.0 758.2,162.0 749.4,158.8 740.6,155.9 731.8,153.3 714.1,148.5 696.5,144.8 670.1,140.0 652.5,137.6 634.9,135.6 608.4,133.3 590.8,132.1 573.2,131.3 546.8,130.6 520.3,130.7 493.9,131.4 467.5,132.9 441.1,135.1 414.6,138.0 397.0,140.6 370.6,145.4 356.3,148.4 335.3,154.0 324.6,157.2 308.9,162.9 300.1,166.4 291.3,170.5 282.5,174.8 273.7,180.0 264.9,185.6 255.5,192.5 245.3,201.3 236.7,210.1 229.1,218.9 220.8,230.4 217.0,236.5 212.0,245.1 207.5,254.1 203.2,263.4 199.9,271.7 194.4,286.7 190.9,298.2 186.1,315.8 182.3,333.4 178.9,351.0 176.8,363.7 173.8,386.3 171.9,403.9 170.4,421.5 169.1,439.1 168.2,456.8 167.7,474.4 167.4,492.0 167.5,509.6 167.8,527.2 168.5,544.9 169.6,562.5 171.0,580.1 172.7,597.7 174.7,615.3 176.8,630.7 180.3,650.6 185.6,676.0 188.2,685.8 193.3,703.4 196.3,712.2 199.6,721.1 203.2,730.1 207.3,738.7 212.0,748.2 216.8,756.3 222.5,765.1 229.6,774.8 238.4,784.9 247.3,793.5 255.4,800.3 264.9,807.3 273.7,812.9 282.5,818.0 291.3,822.3 301.0,826.8 308.9,829.9 324.9,835.6 344.2,841.1 357.2,844.4 379.4,848.9 405.5,853.2Z"/>
<path fill="#e41c1d" d="M462.1,853.2 485.1,854.6 502.7,855.2 520.3,855.6 538.0,855.6 555.6,855.4 573.2,854.8 590.8,853.9 608.4,852.6 626.0,850.9 643.7,848.8 661.3,846.3 673.4,844.4 687.7,841.6 705.3,837.6 714.1,835.5 731.8,830.3 742.3,826.8 758.2,820.5 767.0,816.6 775.8,812.1 784.6,807.2 793.4,801.7 802.2,795.3 807.0,791.5 811.0,788.1 819.8,779.9 825.4,773.9 832.8,765.1 837.5,758.8 844.9,747.5 849.9,738.7 855.1,728.7 858.5,721.1 863.9,707.9 868.5,694.6 872.7,681.2 878.2,659.4 882.0,641.8 886.4,615.3 889.9,588.9 891.6,571.3 893.4,544.9 894.5,518.4 894.8,492.0 894.3,465.6 893.1,439.1 891.1,412.7 889.3,395.1 885.6,368.7 881.5,345.0 879.0,333.4 872.7,308.5 869.5,298.2 863.9,281.9 859.7,271.7 855.1,261.4 851.3,254.1 846.3,245.0 837.5,231.6 828.7,220.3 819.8,210.8 811.0,202.6 802.2,195.5 793.4,189.3 784.5,183.6 775.8,178.9 767.0,174.5 758.2,170.6 746.8,166.0 731.8,161.0 719.4,157.2 696.5,151.6 678.9,148.0 652.5,143.8 626.0,140.6 608.4,139.0 582.0,137.3 555.6,136.4 529.1,136.3 502.7,136.8 476.3,138.0 449.9,140.1 423.4,143.1 397.0,147.0 389.0,148.4 379.4,150.4 361.8,154.4 350.4,157.2 335.3,161.8 322.7,166.0 308.9,171.6 301.4,174.8 291.3,180.0 282.5,184.9 270.8,192.5 264.9,196.8 259.3,201.3 249.5,210.1 241.1,218.9 233.9,227.7 227.6,236.5 220.8,247.1 217.0,254.1 212.0,263.8 208.5,271.7 203.2,284.9 198.7,298.2 194.4,312.1 191.2,324.6 187.2,342.2 185.6,350.0 183.9,359.8 181.1,377.5 178.8,395.1 176.8,412.7 176.1,421.5 174.8,439.1 173.9,456.8 173.3,474.4 173.1,492.0 173.1,509.6 173.5,527.2 174.2,544.9 175.3,562.5 176.6,580.1 177.5,588.9 179.7,606.5 182.2,624.1 185.2,641.8 186.9,650.6 191.0,668.2 194.4,681.7 198.4,694.6 201.3,703.4 204.6,712.2 208.3,721.1 212.2,729.9 216.7,738.7 221.6,747.5 229.6,759.7 233.7,765.1 240.9,773.9 249.3,782.7 256.1,789.0 264.9,796.1 273.7,802.4 282.5,808.0 291.3,812.8 301.5,818.0 308.9,821.2 322.9,826.8 344.2,833.6 351.1,835.6 361.8,838.2 379.4,842.1 388.2,843.9 405.8,846.8 432.2,850.3 449.9,852.2 462.1,853.2Z"/>
<path fill="#e7231e" d="M437.3,844.4 458.7,846.5 476.3,847.8 493.9,848.8 511.5,849.3 529.1,849.6 546.8,849.4 564.4,849.0 582.0,848.1 599.6,846.9 617.2,845.3 634.9,843.3 652.5,840.8 670.1,837.8 681.4,835.6 696.5,832.1 714.1,827.4 722.9,824.7 740.6,818.5 749.4,814.9 758.2,810.9 767.0,806.5 778.0,800.3 784.6,796.1 793.4,789.9 802.5,782.7 811.0,774.9 820.3,765.1 827.5,756.3 833.8,747.5 839.4,738.7 846.3,726.4 848.9,721.1 855.1,707.5 860.0,694.6 863.9,683.4 868.4,668.2 870.7,659.4 872.7,651.5 874.8,641.8 879.8,615.3 882.4,597.7 884.5,580.1 886.1,562.5 887.9,536.0 888.8,509.6 888.9,483.2 888.1,456.8 886.4,430.3 883.9,403.9 881.5,385.0 877.2,359.8 873.7,342.2 869.3,324.6 864.1,307.0 857.8,289.4 854.3,280.6 850.3,271.7 846.3,263.6 841.0,254.1 835.5,245.3 828.7,235.6 819.8,224.9 811.0,215.7 802.2,207.7 793.4,200.7 781.2,192.5 775.8,189.2 765.6,183.6 758.2,180.1 746.4,174.8 731.8,169.4 721.9,166.0 714.1,163.8 696.5,159.1 688.8,157.2 678.9,155.2 661.3,151.9 638.0,148.4 617.2,146.1 599.6,144.6 573.2,143.0 546.8,142.3 520.3,142.3 493.9,143.2 467.5,144.9 441.1,147.4 423.4,149.7 405.8,152.5 381.5,157.2 361.8,162.1 348.0,166.0 335.3,170.3 326.5,173.5 317.7,177.1 303.6,183.6 291.3,190.4 282.5,195.9 274.8,201.3 264.9,209.2 256.1,217.2 247.3,226.6 239.2,236.5 233.0,245.3 227.4,254.1 220.8,266.1 218.1,271.7 212.0,285.3 207.2,298.2 204.1,307.0 201.4,315.8 196.6,333.4 194.4,342.6 192.6,351.0 187.8,377.5 185.6,392.4 184.2,403.9 182.4,421.5 181.0,439.1 180.0,456.8 179.3,474.4 179.0,492.0 179.1,509.6 179.8,536.0 180.8,553.7 182.2,571.3 184.0,588.9 185.6,602.2 189.0,624.1 192.3,641.8 194.4,651.5 198.6,668.2 203.2,684.1 206.8,694.6 210.1,703.4 213.7,712.2 217.7,721.1 222.2,729.9 229.6,742.8 232.7,747.5 238.9,756.3 247.3,766.5 256.1,775.8 263.6,782.7 274.6,791.5 282.5,797.0 287.8,800.3 303.7,809.2 317.7,815.6 326.5,819.2 335.3,822.4 348.6,826.8 361.8,830.5 370.6,832.7 388.2,836.6 414.6,841.3 437.3,844.4Z"/>
<path fill="#e92720" d="M424.4,835.6 441.1,837.8 458.7,839.7 476.3,841.1 493.9,842.2 511.5,842.8 529.1,843.1 546.8,843.0 564.4,842.4 582.0,841.5 599.6,840.1 617.2,838.4 634.9,836.2 652.5,833.4 670.1,830.1 685.3,826.8 696.5,823.9 716.4,818.0 731.8,812.4 740.6,808.9 749.4,804.9 758.2,800.5 767.0,795.6 775.8,790.2 784.6,784.1 793.4,777.2 802.2,769.3 806.5,765.1 814.6,756.3 821.7,747.5 828.0,738.7 833.5,729.9 838.6,721.1 846.3,705.5 850.8,694.6 854.2,685.8 860.1,668.2 863.9,655.0 869.1,633.0 872.7,614.9 876.6,588.9 878.7,571.3 881.0,544.9 882.0,527.2 882.6,500.8 882.4,474.4 881.5,452.3 879.9,430.3 877.1,403.9 874.6,386.3 871.6,368.7 867.9,351.0 863.6,333.4 858.3,315.8 855.1,306.1 852.1,298.2 846.3,284.3 840.1,271.7 835.2,262.9 828.7,252.4 823.6,245.3 819.8,240.3 811.0,230.0 802.2,221.1 793.4,213.3 784.6,206.5 775.8,200.4 767.0,195.1 758.2,190.2 744.5,183.6 731.8,178.4 722.9,175.2 705.3,169.6 692.5,166.0 670.1,161.0 652.5,157.7 634.9,155.0 608.4,152.0 590.8,150.5 564.4,149.1 538.0,148.6 511.5,148.9 485.1,150.2 467.5,151.6 441.1,154.4 423.4,156.8 405.8,159.9 388.2,163.6 379.4,165.6 370.6,167.9 353.0,173.2 344.2,176.1 335.3,179.5 325.1,183.6 317.7,187.0 308.9,191.4 300.1,196.3 291.3,201.7 279.6,210.1 269.0,218.9 259.9,227.7 252.0,236.5 245.0,245.3 238.4,254.6 233.3,262.9 228.4,271.7 224.0,280.6 219.9,289.4 216.3,298.2 212.0,309.7 207.3,324.6 204.7,333.4 202.4,342.2 200.3,351.0 198.4,359.8 195.0,377.5 193.6,386.3 191.1,403.9 188.3,430.3 186.9,447.9 186.0,465.6 185.3,492.0 185.4,509.6 185.9,527.2 186.8,544.9 188.1,562.5 190.9,588.9 193.3,606.5 194.7,615.3 198.1,633.0 200.0,641.8 204.4,659.4 206.9,668.2 212.0,684.2 216.0,694.6 219.6,703.4 223.6,712.2 229.6,724.1 233.0,729.9 238.4,738.7 247.3,750.9 251.7,756.3 259.6,765.1 268.8,773.9 273.7,778.1 282.5,785.0 291.9,791.5 300.1,796.5 308.9,801.4 317.7,805.7 325.3,809.2 335.3,813.2 344.2,816.5 353.0,819.4 361.8,822.1 379.4,826.9 388.2,828.9 405.8,832.4 424.4,835.6Z"/>
<path fill="#ed2e21" d="M501.0,835.6 520.3,836.1 538.0,836.2 555.6,835.8 573.2,835.0 590.8,833.8 608.4,832.1 626.0,829.9 643.7,827.2 661.3,823.9 678.9,819.9 687.7,817.7 705.3,812.4 715.0,809.2 731.8,802.5 740.6,798.6 749.4,794.2 758.2,789.3 768.9,782.7 775.8,777.9 784.6,771.1 793.4,763.4 800.7,756.3 808.6,747.5 815.6,738.7 821.8,729.9 827.4,721.1 832.4,712.2 837.5,702.4 841.0,694.6 846.3,682.0 851.2,668.2 855.1,656.0 859.0,641.8 863.9,620.7 868.1,597.7 870.6,580.1 872.7,562.3 874.7,536.0 875.5,518.4 875.9,492.0 875.4,465.6 874.4,447.9 872.7,427.0 869.9,403.9 867.2,386.3 865.6,377.5 862.0,359.8 857.6,342.2 855.1,333.3 852.3,324.6 846.3,307.5 842.4,298.2 837.5,287.3 834.0,280.6 828.7,270.8 823.7,262.9 819.8,257.1 811.0,245.5 803.2,236.5 794.4,227.7 784.2,218.9 772.3,210.1 767.0,206.5 758.4,201.3 749.4,196.4 740.6,192.0 731.8,188.1 722.9,184.5 714.1,181.3 696.5,175.6 678.9,171.0 670.1,168.9 656.2,166.0 634.9,162.4 617.2,160.1 608.4,159.1 590.8,157.5 573.2,156.3 555.6,155.7 529.1,155.4 502.7,156.1 485.1,157.1 458.7,159.5 441.1,161.7 423.4,164.4 414.6,166.0 397.0,169.7 379.4,174.1 361.8,179.3 349.3,183.6 335.3,189.3 326.5,193.2 317.7,197.6 308.9,202.5 296.9,210.1 291.3,214.0 284.9,218.9 274.6,227.7 265.7,236.5 256.1,247.6 251.1,254.1 247.3,259.5 239.4,271.7 234.6,280.6 229.6,290.3 226.1,298.2 222.4,307.0 219.1,315.8 213.3,333.4 208.5,351.0 204.5,368.7 202.7,377.5 201.1,386.3 198.4,403.9 197.2,412.7 195.3,430.3 194.4,439.8 193.3,456.8 192.3,483.2 192.1,500.8 192.4,518.4 193.6,544.9 194.4,555.3 195.9,571.3 198.1,588.9 199.4,597.7 203.2,619.8 206.0,633.0 208.1,641.8 212.9,659.4 215.7,668.2 220.8,682.7 225.7,694.6 229.6,703.3 234.2,712.2 238.4,720.0 247.3,733.9 250.7,738.7 256.1,745.7 264.9,755.8 274.3,765.1 284.7,773.9 291.3,778.9 300.1,784.9 311.0,791.5 317.7,795.1 328.3,800.3 344.2,807.0 353.0,810.3 361.8,813.2 379.4,818.4 388.2,820.6 405.8,824.6 423.4,827.8 432.2,829.2 449.9,831.5 476.3,834.1 501.0,835.6Z"/>
<path fill="#ef3323" d="M476.7,826.8 493.9,828.0 511.5,828.7 529.1,829.0 546.8,828.8 564.4,828.2 582.0,827.1 590.8,826.4 608.4,824.5 626.0,822.1 643.7,819.2 652.5,817.5 670.1,813.5 686.2,809.2 696.5,806.0 712.5,800.3 722.9,796.1 731.8,792.1 740.6,787.8 749.8,782.7 758.2,777.6 763.7,773.9 775.8,764.9 785.8,756.3 794.7,747.5 802.2,739.0 809.4,729.9 815.6,721.1 821.1,712.2 826.1,703.4 830.7,694.6 837.5,679.6 841.9,668.2 845.0,659.4 847.9,650.6 852.8,633.0 857.0,615.3 860.4,597.7 861.9,588.9 863.9,575.0 866.3,553.7 867.7,536.0 868.2,527.2 868.8,509.6 869.0,500.8 868.9,483.2 868.4,465.6 867.3,447.9 866.6,439.1 864.8,421.5 862.4,403.9 859.5,386.3 855.8,368.7 851.4,351.0 846.2,333.4 843.1,324.6 839.8,315.8 836.2,307.0 832.2,298.2 828.7,290.9 823.0,280.6 819.8,275.3 811.6,262.9 804.8,254.1 797.3,245.3 788.6,236.5 778.8,227.7 767.3,218.9 758.2,212.7 749.4,207.4 740.6,202.6 731.8,198.3 718.3,192.5 705.3,187.6 696.5,184.6 687.7,181.9 670.1,177.2 652.5,173.3 634.9,170.1 626.0,168.8 608.4,166.5 590.8,164.8 573.2,163.5 546.8,162.6 520.3,162.7 502.7,163.3 476.3,165.1 458.7,167.0 441.1,169.4 432.2,170.8 414.6,174.1 397.0,178.1 379.4,182.9 370.6,185.6 361.8,188.7 351.7,192.5 344.2,195.6 335.3,199.6 326.5,204.0 315.6,210.1 308.9,214.2 302.0,218.9 291.3,227.0 282.5,234.6 273.7,243.2 264.9,253.1 257.2,262.9 251.2,271.7 245.7,280.6 240.8,289.4 236.4,298.2 229.6,313.5 225.4,324.6 222.4,333.4 219.6,342.2 217.1,351.0 212.6,368.7 209.0,386.3 207.4,395.1 204.7,412.7 203.2,424.7 201.7,439.1 201.0,447.9 199.9,465.6 199.2,492.0 199.5,518.4 200.3,536.0 200.8,544.9 202.3,562.5 203.3,571.3 205.7,588.9 207.1,597.7 208.6,606.5 212.0,623.2 216.7,641.8 221.9,659.4 225.0,668.2 229.6,680.4 231.9,685.8 238.4,699.7 240.4,703.4 247.3,715.5 250.8,721.1 256.1,728.8 264.9,740.1 273.7,749.9 282.5,758.5 290.2,765.1 300.1,772.7 308.9,778.6 315.6,782.7 326.5,788.8 335.3,793.1 344.2,797.1 353.0,800.7 361.8,803.9 370.6,806.9 379.4,809.6 397.0,814.3 414.6,818.2 432.2,821.3 449.9,823.9 467.5,825.9 476.7,826.8Z"/>
<path fill="#f23924" d="M464.4,818.0 476.3,819.2 493.9,820.5 511.5,821.3 529.1,821.6 546.8,821.5 564.4,820.8 582.0,819.6 599.6,817.9 617.2,815.6 634.9,812.7 652.2,809.2 661.3,807.0 678.9,802.3 687.7,799.6 696.5,796.6 709.7,791.5 722.9,785.7 731.8,781.4 740.6,776.6 749.4,771.3 758.2,765.4 767.0,758.8 775.8,751.4 784.6,743.0 788.7,738.7 796.5,729.9 803.3,721.1 811.0,709.8 815.0,703.4 819.8,694.9 824.5,685.8 828.6,677.0 832.3,668.2 835.7,659.4 838.8,650.6 844.3,633.0 848.8,615.3 852.6,597.7 855.6,580.1 858.0,562.5 859.8,544.9 860.5,536.0 861.5,518.4 861.9,500.8 861.8,483.2 861.6,474.4 860.7,456.8 859.3,439.1 857.3,421.5 856.1,412.7 853.2,395.1 849.6,377.5 845.3,359.8 840.0,342.2 837.0,333.4 833.7,324.6 828.7,312.6 826.1,307.0 821.7,298.2 816.9,289.4 811.0,279.8 805.6,271.7 802.2,267.2 793.4,256.3 784.6,246.9 775.8,238.6 767.0,231.2 758.2,224.7 749.4,218.8 740.6,213.6 734.1,210.1 722.9,204.5 714.1,200.6 705.3,197.1 696.5,193.8 687.7,190.9 670.1,185.8 652.5,181.5 634.9,178.0 617.2,175.2 599.6,173.1 582.0,171.4 573.2,170.8 555.6,170.0 538.0,169.7 520.3,169.9 511.5,170.2 493.9,171.1 476.3,172.6 458.7,174.6 449.9,175.8 432.2,178.8 414.6,182.3 397.0,186.7 379.4,192.0 370.6,195.0 361.8,198.3 354.4,201.3 344.2,205.9 335.3,210.2 326.5,215.1 317.7,220.4 307.1,227.7 300.1,233.0 295.9,236.5 286.1,245.3 277.6,254.1 270.1,262.9 263.3,271.7 256.1,282.6 251.9,289.4 247.3,297.8 242.6,307.0 238.6,315.8 235.0,324.6 231.7,333.4 228.6,342.2 225.9,351.0 221.0,368.7 217.0,386.3 215.3,395.1 212.4,412.7 210.1,430.3 209.2,439.1 207.7,456.8 207.2,465.6 206.5,483.2 206.3,500.8 206.4,509.6 207.0,527.2 207.5,536.0 208.9,553.7 209.8,562.5 212.0,579.8 213.4,588.9 216.6,606.5 220.6,624.1 222.9,633.0 228.1,650.6 231.2,659.4 234.5,668.2 238.1,677.0 242.1,685.8 247.3,695.9 251.5,703.4 256.9,712.2 264.9,723.8 269.6,729.9 273.7,734.7 277.2,738.7 285.8,747.5 295.6,756.3 300.1,760.0 306.9,765.1 320.1,773.9 326.5,777.7 335.3,782.5 344.2,786.8 353.0,790.7 361.8,794.3 370.6,797.5 379.4,800.5 397.0,805.6 411.4,809.2 423.4,811.7 441.1,814.8 449.9,816.1 464.4,818.0Z"/>
<path fill="#f54026" d="M455.5,809.2 467.5,810.7 485.1,812.5 502.7,813.6 520.3,814.2 538.0,814.3 555.6,813.8 573.2,812.8 582.0,812.1 599.6,810.2 617.2,807.7 634.9,804.6 643.7,802.8 661.3,798.5 670.1,796.0 684.2,791.5 696.5,787.1 705.3,783.5 714.1,779.6 722.9,775.3 731.8,770.6 740.6,765.3 749.4,759.5 758.2,753.0 767.0,745.8 775.8,737.6 783.2,729.9 790.8,721.1 797.6,712.2 803.7,703.4 809.1,694.6 814.1,685.8 819.8,674.3 822.7,668.2 826.4,659.4 829.8,650.6 832.9,641.8 835.7,633.0 840.6,615.3 844.7,597.7 848.0,580.1 850.6,562.5 852.6,544.9 853.3,536.0 854.4,518.4 854.8,500.8 854.7,483.2 854.5,474.4 853.6,456.8 852.1,439.1 849.9,421.5 847.1,403.9 843.6,386.3 839.3,368.7 834.1,351.0 831.1,342.2 827.8,333.4 824.2,324.6 820.2,315.8 815.9,307.0 811.1,298.2 805.8,289.4 799.9,280.6 793.4,271.7 784.6,261.3 775.8,252.1 767.0,244.0 757.7,236.5 749.4,230.4 745.3,227.7 740.6,224.6 731.8,219.5 722.9,214.7 714.1,210.5 705.3,206.6 691.5,201.3 678.9,197.0 670.1,194.3 661.3,191.9 643.7,187.7 626.0,184.3 608.4,181.6 590.8,179.6 582.0,178.8 564.4,177.6 546.8,177.0 538.0,176.9 520.3,177.1 502.7,177.9 485.1,179.2 467.5,181.1 449.9,183.6 432.2,186.7 414.6,190.6 397.0,195.3 388.2,198.1 379.4,201.1 370.6,204.3 361.8,207.9 353.0,211.9 339.2,218.9 326.5,226.3 317.7,232.2 308.9,238.7 300.1,246.0 291.3,254.3 282.5,263.6 273.7,274.3 269.1,280.6 264.9,286.7 257.8,298.2 253.0,307.0 248.6,315.8 244.6,324.6 241.0,333.4 237.7,342.2 234.7,351.0 231.9,359.8 227.2,377.5 225.1,386.3 221.6,403.9 218.7,421.5 217.6,430.3 215.7,447.9 215.0,456.8 214.0,474.4 213.7,483.2 213.5,500.8 213.8,518.4 214.2,527.2 215.4,544.9 217.2,562.5 218.4,571.3 221.2,588.9 224.6,606.5 226.7,615.3 231.4,633.0 234.1,641.8 237.2,650.6 240.4,659.4 244.1,668.2 248.1,677.0 252.4,685.8 257.3,694.6 264.9,706.9 268.6,712.2 275.2,721.1 282.6,729.9 291.3,738.9 300.6,747.5 308.9,754.3 317.7,760.8 326.5,766.6 335.3,771.8 344.2,776.5 353.0,780.8 361.8,784.7 370.6,788.2 379.4,791.4 388.2,794.3 397.0,797.0 414.6,801.6 432.2,805.4 441.1,806.9 455.5,809.2Z"/>
<path fill="#f84528" d="M447.6,800.3 458.7,802.1 476.3,804.3 493.9,805.9 511.5,806.8 529.1,807.2 546.8,806.9 564.4,806.2 573.2,805.5 590.8,803.8 599.6,802.7 617.2,800.0 634.9,796.7 643.7,794.7 661.3,790.1 670.1,787.4 678.9,784.5 687.7,781.3 696.5,777.8 705.3,773.9 714.1,769.7 722.9,765.0 731.8,759.9 740.6,754.2 749.8,747.5 758.2,740.8 767.0,732.8 770.0,729.9 778.4,721.1 785.8,712.2 793.4,702.0 798.4,694.6 803.8,685.8 808.7,677.0 811.0,672.5 817.2,659.4 820.9,650.6 824.3,641.8 827.3,633.0 832.7,615.3 834.9,606.5 837.0,597.7 840.6,580.1 843.4,562.5 845.5,544.9 846.9,527.2 847.8,509.6 848.0,492.0 847.6,474.4 847.1,465.6 845.8,447.9 843.9,430.3 841.2,412.7 837.8,395.1 833.6,377.5 831.2,368.7 825.6,351.0 819.8,336.1 814.9,324.6 810.6,315.8 805.9,307.0 800.6,298.2 793.4,287.3 788.5,280.6 784.6,275.7 775.8,265.6 767.0,256.7 758.2,248.9 749.4,241.8 740.6,235.6 731.8,229.9 722.9,224.8 711.4,218.9 705.3,216.0 696.5,212.2 687.7,208.7 678.9,205.5 670.1,202.7 652.5,197.7 634.9,193.6 617.2,190.4 599.6,187.8 582.0,186.0 564.4,184.7 546.8,184.1 529.1,184.1 520.3,184.2 502.7,185.0 485.1,186.4 467.5,188.4 449.9,191.1 432.2,194.5 414.6,198.7 397.0,203.8 388.2,206.8 379.4,210.0 370.6,213.5 361.8,217.4 353.0,221.7 341.9,227.7 335.3,231.6 327.8,236.5 317.7,243.8 308.9,250.9 300.1,258.9 291.3,268.0 282.5,278.3 274.3,289.4 268.4,298.2 263.2,307.0 258.4,315.8 256.1,320.5 250.1,333.4 246.6,342.2 243.3,351.0 240.3,359.8 237.7,368.7 235.2,377.5 233.0,386.3 231.0,395.1 227.6,412.7 224.8,430.3 223.8,439.1 222.1,456.8 221.5,465.6 220.7,483.2 220.5,500.8 220.6,509.6 221.3,527.2 222.6,544.9 224.5,562.5 225.7,571.3 228.7,588.9 232.5,606.5 234.7,615.3 237.1,624.1 239.8,633.0 242.7,641.8 246.0,650.6 249.6,659.4 253.5,668.2 257.8,677.0 264.9,689.7 267.8,694.6 273.7,703.4 282.5,715.1 291.3,725.3 300.1,734.3 304.9,738.7 308.9,742.2 315.5,747.5 326.5,755.5 335.3,761.2 344.2,766.3 353.0,771.0 361.8,775.2 370.6,779.0 379.4,782.5 388.2,785.6 397.0,788.5 414.6,793.5 432.2,797.5 447.6,800.3Z"/>
<path fill="#fb4b29" d="M439.8,791.5 449.9,793.5 467.5,796.2 485.1,798.2 502.7,799.5 520.3,800.1 538.0,800.2 555.6,799.7 564.4,799.2 582.0,797.7 599.6,795.6 608.4,794.2 626.0,791.0 643.7,787.0 652.5,784.6 670.1,779.2 678.9,776.0 687.7,772.6 696.5,768.8 704.4,765.1 714.1,760.1 722.9,755.1 731.8,749.5 740.6,743.4 749.4,736.5 757.0,729.9 766.2,721.1 774.3,712.2 781.5,703.4 784.6,699.3 788.0,694.6 793.4,686.5 799.2,677.0 804.0,668.2 808.3,659.4 812.3,650.6 815.9,641.8 819.2,633.0 822.2,624.1 825.0,615.3 829.6,597.7 833.5,580.1 836.4,562.5 838.7,544.9 840.3,527.2 841.2,509.6 841.4,492.0 841.0,474.4 839.9,456.8 838.1,439.1 835.7,421.5 832.5,403.9 828.3,386.3 826.0,377.5 823.4,368.7 817.4,351.0 813.9,342.2 810.0,333.4 805.8,324.6 801.2,315.8 796.1,307.0 790.5,298.2 784.2,289.4 777.3,280.6 769.5,271.7 760.7,262.9 750.8,254.1 740.6,246.2 731.8,240.0 722.9,234.5 710.6,227.7 705.3,225.0 696.5,220.9 687.7,217.2 678.9,213.8 670.1,210.7 661.3,207.9 652.5,205.4 643.7,203.1 634.9,201.1 617.2,197.5 599.6,194.8 582.0,192.9 564.4,191.6 546.8,190.9 529.1,190.8 511.5,191.4 493.9,192.6 476.3,194.3 458.7,196.8 441.1,200.1 423.4,204.1 414.6,206.5 397.0,212.0 388.2,215.1 370.6,222.4 361.8,226.6 353.0,231.2 344.2,236.3 335.3,241.9 330.4,245.3 326.5,248.1 318.9,254.1 308.9,262.9 300.1,271.6 292.1,280.6 285.0,289.4 278.7,298.2 273.1,307.0 267.9,315.8 263.2,324.6 259.0,333.4 255.2,342.2 251.6,351.0 248.5,359.8 245.6,368.7 242.9,377.5 240.5,386.3 236.5,403.9 233.2,421.5 230.7,439.1 228.9,456.8 228.2,465.6 227.4,483.2 227.2,500.8 227.3,509.6 228.0,527.2 228.7,536.0 230.4,553.7 232.8,571.3 236.0,588.9 240.0,606.5 242.3,615.3 244.9,624.1 251.0,641.8 254.5,650.6 258.3,659.4 262.6,668.2 267.2,677.0 272.4,685.8 278.1,694.6 284.4,703.4 291.3,712.0 299.4,721.1 308.9,730.4 318.5,738.7 326.5,744.9 330.2,747.5 335.3,751.0 344.2,756.5 353.0,761.5 361.8,766.0 370.6,770.2 388.2,777.3 397.0,780.4 405.8,783.1 414.6,785.7 423.4,788.0 439.8,791.5Z"/>
<path fill="#fc512b" d="M485.5,791.5 502.7,792.9 511.5,793.4 529.1,793.8 546.8,793.5 564.4,792.6 582.0,791.0 599.6,788.8 608.4,787.4 626.0,783.9 643.7,779.6 652.5,777.1 670.1,771.3 678.9,768.0 687.7,764.3 696.5,760.3 705.3,755.8 714.1,751.0 722.9,745.6 731.8,739.6 740.6,733.0 749.4,725.7 758.2,717.4 763.2,712.2 771.0,703.4 778.0,694.6 784.3,685.8 790.0,677.0 795.2,668.2 799.8,659.4 804.1,650.6 808.0,641.8 811.5,633.0 814.7,624.1 817.6,615.3 820.2,606.5 822.7,597.7 824.8,588.9 828.4,571.3 831.2,553.7 833.2,536.0 834.5,518.4 835.1,500.8 835.0,483.2 834.2,465.6 832.7,447.9 831.7,439.1 829.0,421.5 825.6,403.9 823.6,395.1 821.3,386.3 816.0,368.7 812.9,359.8 809.5,351.0 805.8,342.2 801.7,333.4 797.2,324.6 793.4,317.8 786.8,307.0 780.7,298.2 774.0,289.4 766.5,280.6 758.1,271.7 748.6,262.9 740.6,256.3 731.8,249.7 722.9,243.8 714.1,238.5 705.3,233.6 693.1,227.7 687.7,225.3 678.9,221.7 661.3,215.4 652.5,212.7 634.9,208.1 626.0,206.1 608.4,202.9 590.8,200.4 573.2,198.6 555.6,197.5 538.0,197.1 520.3,197.4 502.7,198.3 485.1,199.9 467.5,202.2 449.9,205.2 441.1,207.0 432.2,209.1 414.6,213.9 405.8,216.7 388.2,223.1 379.4,226.8 370.6,230.9 361.8,235.3 353.0,240.3 344.2,245.7 332.1,254.1 326.5,258.4 321.1,262.9 311.5,271.7 303.0,280.6 295.4,289.4 288.6,298.2 282.5,307.0 277.0,315.8 272.0,324.6 267.4,333.4 264.9,338.9 259.6,351.0 253.1,368.7 250.3,377.5 245.4,395.1 243.4,403.9 241.6,412.7 239.9,421.5 237.3,439.1 235.3,456.8 234.1,474.4 233.7,483.2 233.5,500.8 233.9,518.4 235.1,536.0 236.9,553.7 239.5,571.3 241.1,580.1 244.9,597.7 249.6,615.3 252.4,624.1 255.5,633.0 258.9,641.8 262.6,650.6 266.7,659.4 271.2,668.2 273.7,672.5 276.3,677.0 281.8,685.8 287.9,694.6 294.8,703.4 300.1,709.7 308.9,719.0 317.7,727.3 326.5,734.7 335.3,741.3 344.2,747.1 353.0,752.5 361.8,757.3 370.6,761.7 379.4,765.7 388.2,769.3 397.0,772.6 405.8,775.6 414.6,778.3 423.4,780.7 432.2,782.8 441.1,784.8 449.9,786.6 467.5,789.4 485.5,791.5Z"/>
<path fill="#fc592d" d="M466.2,782.7 476.3,784.2 493.9,786.0 511.5,787.2 529.1,787.6 546.8,787.3 564.4,786.3 582.0,784.6 590.8,783.5 608.4,780.7 617.2,779.0 626.0,777.1 643.7,772.5 652.5,769.9 661.3,767.0 670.1,763.8 678.9,760.2 687.7,756.3 696.5,752.1 705.3,747.3 714.1,742.1 722.9,736.4 732.0,729.9 740.6,723.0 749.4,715.1 758.2,706.2 767.0,696.2 775.0,685.8 781.2,677.0 786.7,668.2 791.7,659.4 796.2,650.6 802.2,637.3 807.5,624.1 810.6,615.3 813.4,606.5 815.9,597.7 818.2,588.9 822.0,571.3 825.0,553.7 827.1,536.0 828.5,518.4 829.1,500.8 829.0,483.2 828.2,465.6 826.6,447.9 824.2,430.3 822.7,421.5 819.1,403.9 816.9,395.1 814.5,386.3 808.9,368.7 805.6,359.8 802.0,351.0 798.0,342.2 793.7,333.4 788.9,324.6 783.6,315.8 775.8,304.2 771.3,298.2 767.0,292.8 758.2,282.8 749.4,274.0 740.6,266.1 731.8,259.1 722.9,252.8 711.1,245.3 705.3,241.9 696.5,237.3 687.7,233.0 675.1,227.7 661.3,222.6 643.7,217.1 634.9,214.8 617.2,210.9 599.6,207.9 590.8,206.6 573.2,204.8 555.6,203.7 538.0,203.3 520.3,203.5 502.7,204.5 485.1,206.2 467.5,208.6 449.9,211.8 432.2,215.9 414.6,221.0 405.8,223.9 397.0,227.2 388.2,230.8 379.4,234.7 370.6,239.0 361.8,243.8 353.0,249.0 344.2,254.9 333.2,262.9 322.8,271.7 313.6,280.6 305.5,289.4 298.2,298.2 291.3,307.5 285.7,315.8 282.5,321.1 275.6,333.4 271.2,342.2 267.2,351.0 263.6,359.8 260.3,368.7 257.4,377.5 254.7,386.3 252.2,395.1 250.0,403.9 246.4,421.5 243.6,439.1 241.5,456.8 240.2,474.4 239.9,483.2 239.6,500.8 240.1,518.4 241.2,536.0 242.1,544.9 244.4,562.5 247.6,580.1 249.5,588.9 251.6,597.7 254.0,606.5 256.7,615.3 259.6,624.1 262.9,633.0 266.5,641.8 270.4,650.6 273.7,657.2 279.6,668.2 285.0,677.0 290.9,685.8 297.5,694.6 304.8,703.4 313.0,712.2 322.3,721.1 326.5,724.7 332.9,729.9 345.0,738.7 353.0,743.8 359.2,747.5 370.6,753.6 379.4,757.8 388.2,761.7 397.0,765.1 405.8,768.3 414.6,771.2 432.2,776.0 449.9,779.9 466.2,782.7Z"/>
<path fill="#fc5f2f" d="M452.2,773.9 467.5,776.7 485.1,779.0 493.9,779.9 511.5,781.1 529.1,781.5 546.8,781.2 564.4,780.2 573.2,779.4 590.8,777.3 599.6,775.9 617.2,772.5 626.0,770.5 634.9,768.2 652.5,762.9 661.3,759.8 670.1,756.4 678.9,752.7 687.7,748.5 696.5,744.0 705.8,738.7 714.1,733.5 719.5,729.9 722.9,727.4 731.8,720.6 741.5,712.2 750.6,703.4 758.7,694.6 765.9,685.8 772.4,677.0 778.3,668.2 783.6,659.4 788.5,650.6 793.4,640.5 796.8,633.0 800.4,624.1 803.7,615.3 806.7,606.5 809.4,597.7 813.9,580.1 815.8,571.3 817.5,562.5 820.2,544.9 822.0,527.2 822.7,518.4 823.3,500.8 823.2,483.2 822.3,465.6 821.6,456.8 819.5,439.1 816.6,421.5 814.8,412.7 812.7,403.9 807.9,386.3 805.0,377.5 801.9,368.7 798.4,359.8 794.6,351.0 790.4,342.2 784.6,331.3 780.7,324.6 775.8,316.9 768.9,307.0 762.0,298.2 754.3,289.4 745.6,280.6 735.9,271.7 731.8,268.3 724.7,262.9 714.1,255.6 705.3,250.1 696.5,245.2 687.7,240.7 678.9,236.6 670.1,232.9 661.3,229.6 652.5,226.6 643.7,223.8 634.9,221.4 626.0,219.2 608.4,215.5 599.6,214.0 582.0,211.7 564.4,210.2 546.8,209.4 538.0,209.2 520.3,209.5 502.7,210.6 485.1,212.3 467.5,214.9 449.9,218.3 432.2,222.6 423.4,225.1 405.8,231.0 397.0,234.5 388.2,238.3 379.4,242.4 370.6,247.0 358.4,254.1 353.0,257.6 345.4,262.9 335.3,270.7 326.5,278.3 317.7,286.9 308.9,296.6 300.6,307.0 294.3,315.8 288.7,324.6 282.5,335.4 278.9,342.2 274.7,351.0 270.8,359.8 267.4,368.7 264.2,377.5 261.4,386.3 258.8,395.1 254.5,412.7 251.1,430.3 248.5,447.9 246.8,465.6 245.8,483.2 245.5,500.8 246.0,518.4 247.3,536.0 249.2,553.7 252.1,571.3 253.9,580.1 255.9,588.9 258.1,597.7 260.6,606.5 263.5,615.3 266.6,624.1 270.0,633.0 273.7,641.4 278.1,650.6 282.7,659.4 287.8,668.2 293.5,677.0 299.9,685.8 306.9,694.6 314.7,703.4 323.6,712.2 333.6,721.1 344.2,729.2 353.0,735.3 358.4,738.7 370.6,745.7 379.4,750.2 388.2,754.2 397.0,757.9 405.8,761.2 414.6,764.2 423.4,766.9 432.2,769.4 441.1,771.6 452.2,773.9Z"/>
<path fill="#fc6631" d="M494.2,773.9 511.5,775.1 529.1,775.6 546.8,775.3 555.6,774.8 573.2,773.4 582.0,772.4 599.6,769.7 608.4,768.0 626.0,764.0 634.9,761.6 643.7,758.9 652.5,756.0 661.3,752.8 673.9,747.5 678.9,745.2 687.7,740.9 696.5,736.1 705.3,730.8 714.1,725.0 722.9,718.5 731.8,711.4 740.6,703.4 749.1,694.6 756.9,685.8 763.8,677.0 770.1,668.2 775.7,659.4 780.9,650.6 785.5,641.8 789.7,633.0 793.5,624.1 797.0,615.3 800.1,606.5 802.9,597.7 805.5,588.9 807.8,580.1 809.8,571.3 813.1,553.7 814.4,544.9 816.3,527.2 817.4,509.6 817.7,492.0 817.2,474.4 815.8,456.8 814.9,447.9 813.6,439.1 810.5,421.5 808.7,412.7 806.5,403.9 804.1,395.1 801.4,386.3 798.4,377.5 795.1,368.7 791.4,359.8 787.4,351.0 783.0,342.2 775.8,329.6 772.7,324.6 767.0,316.2 760.1,307.0 752.8,298.2 744.6,289.4 735.3,280.6 724.8,271.7 714.1,263.9 705.3,258.1 696.5,252.9 687.7,248.1 682.0,245.3 670.1,239.9 661.3,236.4 652.5,233.2 643.7,230.4 626.0,225.5 617.2,223.4 599.6,220.1 582.0,217.6 573.2,216.7 555.6,215.5 538.0,215.0 520.3,215.3 502.7,216.4 493.9,217.3 476.3,219.5 458.7,222.6 449.9,224.5 432.2,229.1 423.4,231.7 414.6,234.7 405.8,238.0 397.0,241.6 388.2,245.6 379.4,250.0 370.6,254.8 361.8,260.2 357.6,262.9 353.0,266.1 345.3,271.7 335.3,280.0 326.5,288.1 317.7,297.3 309.5,307.0 302.8,315.8 296.8,324.6 291.3,333.5 286.4,342.2 282.0,351.0 277.9,359.8 274.3,368.7 270.9,377.5 268.0,386.3 262.8,403.9 260.7,412.7 258.8,421.5 257.1,430.3 254.4,447.9 252.6,465.6 251.5,483.2 251.3,500.8 251.8,518.4 253.1,536.0 255.2,553.7 258.2,571.3 260.0,580.1 262.1,588.9 267.2,606.5 270.1,615.3 273.4,624.1 277.1,633.0 281.1,641.8 285.5,650.6 290.5,659.4 295.9,668.2 302.0,677.0 308.7,685.8 316.2,694.6 324.6,703.4 334.1,712.2 344.2,720.5 353.0,726.9 361.8,732.7 370.6,737.9 379.4,742.7 388.2,746.9 397.0,750.8 405.8,754.3 414.6,757.5 423.4,760.3 432.2,762.9 449.9,767.2 458.7,769.0 476.3,771.9 494.2,773.9Z"/>
<path fill="#fc6c33" d="M471.1,765.1 485.1,767.1 502.7,768.8 511.5,769.4 529.1,769.9 546.8,769.5 555.6,769.1 573.2,767.5 582.0,766.4 599.6,763.6 608.4,761.9 617.2,759.9 626.0,757.6 634.9,755.1 643.7,752.4 652.5,749.3 661.3,745.9 670.1,742.1 678.9,737.9 687.7,733.4 696.5,728.3 705.3,722.8 714.1,716.6 722.9,709.8 731.8,702.2 740.6,693.7 749.4,684.1 758.2,673.3 761.9,668.2 767.0,660.8 773.4,650.6 778.3,641.8 782.7,633.0 786.8,624.1 790.4,615.3 793.7,606.5 796.7,597.7 799.4,588.9 803.9,571.3 805.7,562.5 807.3,553.7 808.7,544.9 810.7,527.2 811.9,509.6 812.1,500.8 812.0,483.2 811.0,465.6 809.2,447.9 806.4,430.3 804.7,421.5 800.4,403.9 797.9,395.1 793.4,381.7 788.4,368.7 784.6,359.8 780.3,351.0 775.8,342.5 770.5,333.4 764.8,324.6 758.2,315.4 749.4,304.5 740.6,295.0 731.8,286.5 722.9,278.9 713.7,271.7 705.3,265.9 700.6,262.9 696.5,260.4 687.7,255.4 678.9,250.9 666.6,245.3 652.5,239.8 643.7,236.8 634.9,234.0 626.0,231.6 617.2,229.5 599.6,226.0 582.0,223.4 573.2,222.4 555.6,221.2 538.0,220.7 520.3,221.0 502.7,222.2 485.1,224.1 476.3,225.4 458.7,228.7 449.9,230.7 441.1,232.9 432.2,235.4 423.4,238.2 414.6,241.3 405.8,244.8 397.0,248.6 388.2,252.8 379.4,257.4 370.6,262.5 361.8,268.2 353.0,274.4 344.2,281.4 335.1,289.4 326.2,298.2 317.7,307.6 308.9,318.8 304.8,324.6 300.1,331.8 293.9,342.2 289.1,351.0 284.9,359.8 281.0,368.7 277.5,377.5 274.4,386.3 271.6,395.1 269.0,403.9 266.8,412.7 263.0,430.3 260.2,447.9 258.3,465.6 257.2,483.2 256.9,500.8 257.4,518.4 258.7,536.0 261.0,553.7 262.4,562.5 264.1,571.3 266.1,580.1 268.2,588.9 270.7,597.7 273.6,606.5 276.6,615.3 280.1,624.1 282.5,629.6 288.2,641.8 292.9,650.6 298.1,659.4 303.9,668.2 310.3,677.0 317.7,686.2 326.5,695.8 335.3,704.3 344.6,712.2 353.0,718.7 361.8,724.8 370.6,730.3 379.4,735.3 388.2,739.8 397.0,743.9 405.8,747.5 414.6,750.9 423.4,753.8 441.1,758.9 449.9,761.1 458.7,762.9 471.1,765.1Z"/>
<path fill="#fd7435" d="M455.6,756.3 467.5,758.7 485.1,761.4 493.9,762.4 511.5,763.7 520.3,764.1 538.0,764.1 555.6,763.4 564.4,762.7 582.0,760.6 590.8,759.3 599.6,757.7 617.2,753.8 626.0,751.5 634.9,748.8 643.7,745.9 652.5,742.7 661.3,739.1 670.1,735.2 678.9,730.8 687.7,726.0 696.5,720.7 705.3,714.8 714.1,708.4 722.9,701.2 731.8,693.1 739.0,685.8 746.8,677.0 753.9,668.2 760.2,659.4 766.0,650.6 771.2,641.8 775.8,633.0 780.1,624.1 783.9,615.3 787.4,606.5 790.6,597.7 793.3,588.9 795.9,580.1 798.1,571.3 800.0,562.5 803.1,544.9 804.3,536.0 805.3,527.2 806.5,509.6 806.8,492.0 806.2,474.4 804.8,456.8 803.7,447.9 800.8,430.3 798.9,421.5 796.9,412.7 794.5,403.9 791.8,395.1 788.8,386.3 785.5,377.5 781.9,368.7 777.8,359.8 773.4,351.0 767.0,339.8 763.0,333.4 758.2,326.3 750.3,315.8 742.9,307.0 734.6,298.2 725.2,289.4 714.6,280.6 705.3,273.7 696.5,267.9 687.7,262.6 678.9,257.8 670.1,253.6 661.3,249.7 650.1,245.3 643.7,243.0 634.9,240.2 626.0,237.7 617.2,235.4 608.4,233.4 599.6,231.7 582.0,229.1 564.4,227.3 546.8,226.4 538.0,226.2 520.3,226.6 502.7,227.8 485.1,229.8 467.5,232.7 458.7,234.6 449.9,236.7 441.1,239.0 432.2,241.6 423.4,244.6 414.6,247.9 405.8,251.5 399.9,254.1 388.2,259.9 379.4,264.7 368.1,271.7 361.8,276.0 355.7,280.6 344.9,289.4 335.4,298.2 327.0,307.0 319.5,315.8 312.7,324.6 306.6,333.4 301.2,342.2 296.2,351.0 291.7,359.8 287.7,368.7 284.0,377.5 280.7,386.3 277.7,395.1 275.1,403.9 272.7,412.7 270.6,421.5 268.8,430.3 267.2,439.1 265.8,447.9 263.8,465.6 262.7,483.2 262.4,500.8 262.9,518.4 264.3,536.0 266.6,553.7 268.1,562.5 269.9,571.3 271.9,580.1 274.3,588.9 276.8,597.7 279.8,606.5 283.1,615.3 286.7,624.1 290.7,633.0 295.2,641.8 300.2,650.6 305.6,659.4 308.9,664.2 311.7,668.2 317.7,676.0 326.1,685.8 334.6,694.6 344.2,703.4 353.0,710.6 361.8,717.0 370.6,722.8 382.8,729.9 388.2,732.8 397.0,737.0 405.8,740.9 414.6,744.4 423.4,747.5 432.2,750.3 441.1,752.8 455.6,756.3Z"/>
<path fill="#fd7c37" d="M489.8,756.3 502.7,757.6 520.3,758.6 529.1,758.7 546.8,758.3 555.6,757.8 573.2,756.1 590.8,753.5 599.6,751.9 608.4,750.0 626.0,745.4 634.9,742.6 643.7,739.6 652.5,736.2 661.3,732.4 666.8,729.9 678.9,723.8 687.7,718.7 696.5,713.2 705.3,707.0 714.1,700.2 722.9,692.6 731.8,684.1 738.4,677.0 745.9,668.2 752.6,659.4 758.7,650.6 764.1,641.8 767.0,636.7 773.6,624.1 777.6,615.3 781.3,606.5 784.5,597.7 787.5,588.9 790.1,580.1 792.4,571.3 794.4,562.5 796.2,553.7 797.7,544.9 799.0,536.0 800.0,527.2 800.7,518.4 801.2,509.6 801.5,492.0 800.9,474.4 800.3,465.6 799.4,456.8 798.3,447.9 796.9,439.1 795.2,430.3 791.1,412.7 788.7,403.9 785.8,395.1 782.7,386.3 779.3,377.5 775.4,368.7 771.2,359.8 766.5,351.0 761.3,342.2 758.2,337.3 755.6,333.4 749.4,324.8 742.2,315.8 734.3,307.0 725.5,298.2 715.6,289.4 705.3,281.4 696.5,275.2 687.7,269.7 675.5,262.9 670.1,260.2 661.3,256.1 652.5,252.4 643.7,249.1 634.9,246.2 626.0,243.6 617.2,241.2 608.4,239.2 599.6,237.4 590.8,235.9 582.0,234.6 573.2,233.5 555.6,232.2 538.0,231.7 520.3,232.0 502.7,233.3 493.9,234.2 485.1,235.4 467.5,238.5 458.7,240.4 449.9,242.5 441.1,245.0 432.2,247.8 423.4,250.8 414.6,254.3 405.8,258.0 397.0,262.2 388.2,266.8 379.4,271.9 370.6,277.6 361.8,283.8 353.0,290.8 344.2,298.6 335.3,307.3 326.5,317.1 317.7,328.4 314.1,333.4 308.9,341.3 303.1,351.0 298.4,359.8 294.2,368.7 290.4,377.5 286.9,386.3 283.8,395.1 281.0,403.9 278.5,412.7 276.3,421.5 274.4,430.3 271.4,447.9 269.2,465.6 268.1,483.2 267.7,500.8 268.3,518.4 269.7,536.0 270.8,544.9 272.2,553.7 275.6,571.3 277.7,580.1 280.1,588.9 282.8,597.7 285.9,606.5 289.3,615.3 293.1,624.1 297.4,633.0 300.1,638.2 307.3,650.6 313.1,659.4 319.5,668.2 326.7,677.0 335.3,686.4 344.2,694.9 354.1,703.4 361.8,709.3 365.9,712.2 370.6,715.4 379.4,720.9 388.2,725.9 397.0,730.3 405.8,734.4 414.6,738.0 423.4,741.3 432.2,744.2 441.1,746.8 449.9,749.1 458.7,751.2 467.5,753.0 476.3,754.5 489.8,756.3Z"/>
<path fill="#fd8239" d="M468.4,747.5 476.3,748.9 485.1,750.3 493.9,751.3 502.7,752.2 520.3,753.2 529.1,753.3 546.8,752.9 564.4,751.6 573.2,750.6 582.0,749.4 599.6,746.2 608.4,744.2 617.2,741.9 626.0,739.4 634.9,736.5 643.7,733.3 652.3,729.9 661.3,725.9 670.1,721.6 678.9,716.8 687.7,711.5 696.5,705.7 705.3,699.3 714.1,692.1 722.9,684.1 730.0,677.0 738.0,668.2 745.1,659.4 751.4,650.6 757.2,641.8 762.4,633.0 767.1,624.1 771.4,615.3 775.8,604.9 778.6,597.7 781.7,588.9 784.4,580.1 786.9,571.3 789.0,562.5 790.8,553.7 792.4,544.9 793.7,536.0 794.7,527.2 795.5,518.4 796.1,509.6 796.4,500.8 796.4,492.0 796.2,483.2 795.8,474.4 795.1,465.6 794.1,456.8 791.5,439.1 789.8,430.3 787.8,421.5 785.5,412.7 782.9,403.9 780.0,395.1 776.7,386.3 773.1,377.5 767.0,364.4 764.6,359.8 759.7,351.0 754.3,342.2 748.3,333.4 741.6,324.6 734.2,315.8 725.8,307.0 716.5,298.2 705.9,289.4 696.5,282.5 687.7,276.7 678.9,271.4 670.1,266.7 661.3,262.5 652.5,258.6 643.7,255.2 634.9,252.1 626.0,249.3 617.2,246.9 608.4,244.8 599.6,242.9 590.8,241.3 582.0,240.0 573.2,238.9 555.6,237.5 538.0,237.0 520.3,237.4 502.7,238.7 493.9,239.6 485.1,240.9 476.3,242.3 467.5,244.1 458.7,246.1 449.9,248.3 441.1,250.9 432.2,253.8 423.4,257.0 414.6,260.5 405.8,264.5 397.0,268.8 391.7,271.7 379.4,279.0 370.6,285.0 361.8,291.5 353.0,298.9 344.2,307.1 335.8,315.8 328.3,324.6 321.5,333.4 315.5,342.2 310.0,351.0 305.0,359.8 300.1,369.7 296.6,377.5 293.0,386.3 289.7,395.1 286.8,403.9 284.2,412.7 282.0,421.5 280.0,430.3 278.2,439.1 276.8,447.9 275.6,456.8 273.9,474.4 273.1,492.0 273.2,509.6 273.6,518.4 275.1,536.0 276.2,544.9 277.6,553.7 279.2,562.5 281.1,571.3 283.3,580.1 285.8,588.9 288.7,597.7 291.9,606.5 295.5,615.3 299.5,624.1 303.9,633.0 308.9,641.9 314.3,650.6 317.7,655.6 320.4,659.4 326.5,667.3 334.8,677.0 344.2,686.6 353.0,694.6 361.8,701.7 370.6,708.1 379.4,713.9 391.9,721.1 397.0,723.7 405.8,728.0 414.6,731.8 423.4,735.2 432.2,738.2 441.1,741.0 449.9,743.4 458.7,745.5 468.4,747.5Z"/>
<path fill="#fd8a3b" d="M512.6,747.5 529.1,748.0 538.0,747.9 555.6,747.0 564.4,746.2 573.2,745.2 582.0,743.9 590.8,742.4 599.6,740.6 608.4,738.5 617.2,736.2 626.0,733.5 634.9,730.5 643.7,727.2 652.5,723.5 661.3,719.5 670.1,715.0 678.9,710.0 689.3,703.4 696.5,698.4 701.5,694.6 712.2,685.8 721.7,677.0 730.0,668.2 737.5,659.4 744.3,650.6 750.3,641.8 755.8,633.0 760.7,624.1 765.2,615.3 769.2,606.5 772.8,597.7 776.0,588.9 778.9,580.1 781.4,571.3 783.6,562.5 785.5,553.7 787.2,544.9 788.5,536.0 789.6,527.2 790.4,518.4 791.0,509.6 791.3,500.8 791.4,492.0 791.2,483.2 790.7,474.4 790.0,465.6 789.0,456.8 787.8,447.9 786.3,439.1 784.5,430.3 782.4,421.5 780.0,412.7 777.3,403.9 774.2,395.1 770.8,386.3 767.0,377.5 762.8,368.7 758.2,359.9 753.0,351.0 747.3,342.2 741.0,333.4 734.0,324.6 726.1,315.8 717.4,307.0 707.4,298.2 696.5,289.7 687.7,283.6 678.9,278.1 670.1,273.1 661.3,268.7 648.2,262.9 634.9,257.9 626.0,255.0 617.2,252.5 608.4,250.2 599.6,248.3 590.8,246.7 582.0,245.3 573.2,244.2 564.4,243.3 555.6,242.7 538.0,242.2 520.3,242.6 502.7,243.9 493.9,245.0 485.1,246.3 476.3,247.8 467.5,249.6 458.7,251.6 449.9,254.0 441.1,256.7 432.2,259.6 423.4,263.0 414.6,266.7 405.8,270.8 397.0,275.4 388.1,280.6 379.4,286.1 374.6,289.4 370.6,292.3 363.0,298.2 353.0,306.9 344.2,315.6 336.0,324.6 328.9,333.4 322.5,342.2 316.8,351.0 311.6,359.8 306.9,368.7 302.7,377.5 298.9,386.3 295.5,395.1 292.5,403.9 289.8,412.7 287.5,421.5 285.4,430.3 283.6,439.1 280.8,456.8 279.8,465.6 279.0,474.4 278.5,483.2 278.2,500.8 278.7,518.4 279.4,527.2 280.3,536.0 281.5,544.9 282.9,553.7 284.6,562.5 286.6,571.3 288.9,580.1 291.5,588.9 294.5,597.7 297.8,606.5 301.5,615.3 305.7,624.1 308.9,630.3 315.5,641.8 321.3,650.6 327.7,659.4 335.3,668.7 344.2,678.3 353.0,686.7 361.8,694.2 370.6,700.9 379.4,707.0 388.2,712.4 397.0,717.3 405.8,721.6 414.6,725.6 423.4,729.2 432.2,732.4 441.1,735.2 449.9,737.7 458.7,739.9 467.5,741.8 476.3,743.5 485.1,744.8 493.9,746.0 502.7,746.8 512.6,747.5Z"/>
<path fill="#fd8f3d" d="M479.9,738.7 493.9,740.7 502.7,741.6 511.5,742.3 520.3,742.7 529.1,742.9 538.0,742.8 546.8,742.4 555.6,741.8 564.4,741.0 573.2,739.9 582.0,738.5 590.8,737.0 599.6,735.2 608.4,733.0 626.0,727.8 634.9,724.7 643.7,721.2 652.5,717.4 661.3,713.1 670.1,708.5 678.9,703.2 687.7,697.5 696.5,691.2 705.3,684.1 714.1,676.2 722.1,668.2 730.1,659.4 737.2,650.6 743.5,641.8 749.2,633.0 754.5,624.1 759.1,615.3 763.3,606.5 767.0,597.7 770.5,588.9 773.5,580.1 776.0,571.3 778.4,562.5 780.4,553.7 782.1,544.9 783.5,536.0 785.4,518.4 786.0,509.6 786.4,500.8 786.4,492.0 786.2,483.2 785.7,474.4 785.0,465.6 784.0,456.8 782.7,447.9 781.2,439.1 779.3,430.3 774.6,412.7 771.8,403.9 768.6,395.1 765.1,386.3 761.1,377.5 756.7,368.7 751.8,359.8 746.4,351.0 740.4,342.2 731.8,330.9 722.9,320.8 714.1,311.8 705.3,303.9 698.3,298.2 687.7,290.4 678.9,284.6 670.1,279.5 661.3,274.8 652.5,270.7 643.7,266.9 634.9,263.6 626.0,260.6 617.2,257.9 608.4,255.6 590.8,251.9 582.0,250.5 573.2,249.3 564.4,248.4 555.6,247.8 546.8,247.4 538.0,247.3 520.3,247.7 511.5,248.2 502.7,249.1 493.9,250.1 485.1,251.5 467.5,255.0 458.7,257.1 449.9,259.5 432.2,265.4 423.4,268.9 414.6,272.8 405.8,277.1 397.0,281.8 388.2,287.1 379.4,293.0 370.6,299.5 361.5,307.0 352.1,315.8 343.7,324.6 336.2,333.4 329.4,342.2 323.4,351.0 318.0,359.8 313.1,368.7 308.8,377.5 304.8,386.3 301.3,395.1 298.1,403.9 295.3,412.7 292.8,421.5 288.9,439.1 287.3,447.9 285.9,456.8 284.9,465.6 284.1,474.4 283.3,492.0 283.4,509.6 283.8,518.4 284.5,527.2 285.4,536.0 286.6,544.9 288.1,553.7 289.9,562.5 291.9,571.3 294.2,580.1 297.0,588.9 300.1,597.7 303.5,606.5 307.5,615.3 311.8,624.1 316.7,633.0 322.1,641.8 328.2,650.6 335.3,659.8 344.2,670.0 353.0,678.9 361.8,686.8 370.6,693.8 379.4,700.2 388.2,705.8 397.0,710.9 405.8,715.5 414.6,719.6 423.4,723.3 432.2,726.6 441.1,729.5 449.9,732.2 458.7,734.5 467.5,736.5 479.9,738.7Z"/>
<path fill="#fd933f" d="M461.7,729.9 467.5,731.3 476.3,733.1 485.1,734.5 493.9,735.7 502.7,736.6 511.5,737.3 520.3,737.7 529.1,737.8 538.0,737.7 546.8,737.4 555.6,736.8 564.4,736.0 573.2,734.9 582.0,733.5 590.8,731.8 608.4,727.6 617.2,725.1 626.0,722.2 634.9,719.0 643.7,715.4 652.5,711.4 661.3,707.1 670.1,702.1 678.9,696.8 687.7,690.8 696.5,684.1 705.3,676.7 714.1,668.4 722.7,659.4 730.2,650.6 737.0,641.8 743.0,633.0 748.4,624.1 753.3,615.3 757.6,606.5 761.6,597.7 765.1,588.9 768.2,580.1 771.0,571.3 773.4,562.5 777.2,544.9 778.7,536.0 779.9,527.2 780.8,518.4 781.4,509.6 781.7,500.8 781.7,492.0 781.5,483.2 781.0,474.4 780.3,465.6 779.2,456.8 777.9,447.9 774.3,430.3 772.0,421.5 769.4,412.7 763.2,395.1 759.4,386.3 755.3,377.5 750.7,368.7 745.7,359.8 740.6,351.9 733.8,342.2 726.8,333.4 719.1,324.6 714.1,319.5 705.3,311.1 696.5,303.6 687.7,297.0 678.9,291.0 670.1,285.5 661.3,280.8 652.5,276.3 643.7,272.5 634.9,269.0 626.0,265.9 608.4,260.8 599.6,258.7 590.8,256.9 582.0,255.5 564.4,253.4 555.6,252.7 546.8,252.3 538.0,252.2 529.1,252.3 520.3,252.6 511.5,253.2 493.9,255.2 485.1,256.5 476.3,258.1 467.5,260.1 458.7,262.4 449.9,264.9 441.1,267.7 432.2,271.0 423.4,274.6 414.6,278.6 405.8,283.1 397.0,288.1 388.2,293.5 379.4,299.7 370.6,306.5 361.8,314.1 353.0,322.7 343.2,333.4 336.2,342.2 329.9,351.0 326.5,356.2 324.2,359.8 319.1,368.7 314.5,377.5 310.5,386.3 306.8,395.1 303.5,403.9 298.0,421.5 295.8,430.3 293.9,439.1 292.3,447.9 289.8,465.6 289.0,474.4 288.4,483.2 288.1,492.0 288.0,500.8 288.2,509.6 288.6,518.4 289.3,527.2 290.3,536.0 293.1,553.7 294.8,562.5 297.0,571.3 302.3,588.9 305.5,597.7 309.2,606.5 313.2,615.3 317.8,624.1 322.8,633.0 328.5,641.8 335.3,651.2 344.2,661.9 353.0,671.3 361.8,679.6 370.6,686.9 379.4,693.5 388.2,699.5 397.0,704.8 405.8,709.5 414.6,713.8 423.4,717.7 441.1,724.2 449.9,726.9 461.7,729.9Z"/>
<path fill="#fd9740" d="M486.8,729.9 493.9,730.9 502.7,731.9 511.5,732.6 520.3,733.0 529.1,733.2 538.0,733.1 546.8,732.7 555.6,732.1 564.4,731.2 582.0,728.6 590.8,726.9 599.6,724.9 608.4,722.5 617.2,719.9 626.0,717.0 634.9,713.6 643.7,709.9 652.5,705.8 661.3,701.2 670.1,696.1 678.9,690.6 687.7,684.3 696.5,677.4 705.3,669.7 715.7,659.4 723.6,650.6 731.8,640.2 736.9,633.0 742.6,624.1 747.7,615.3 752.3,606.5 756.3,597.7 760.0,588.9 763.2,580.1 766.1,571.3 768.6,562.5 770.8,553.7 772.6,544.9 774.1,536.0 775.3,527.2 776.2,518.4 776.8,509.6 777.2,500.8 777.2,492.0 777.0,483.2 776.5,474.4 774.6,456.8 773.2,447.9 771.6,439.1 769.5,430.3 764.5,412.7 761.4,403.9 757.9,395.1 754.1,386.3 749.8,377.5 745.1,368.7 739.7,359.8 733.9,351.0 727.4,342.2 720.1,333.4 712.0,324.6 705.3,318.1 696.5,310.2 687.7,303.2 678.9,297.0 670.1,291.4 661.3,286.3 652.5,281.8 643.7,277.8 634.9,274.2 626.0,271.0 617.2,268.1 608.4,265.7 599.6,263.6 590.8,261.7 582.0,260.2 573.2,259.0 564.4,258.0 555.6,257.4 546.8,257.0 538.0,256.8 529.1,256.9 520.3,257.3 511.5,257.9 502.7,258.8 493.9,259.9 485.1,261.3 467.5,265.0 458.7,267.3 449.9,270.0 441.1,273.0 432.2,276.3 423.4,280.1 414.6,284.2 405.8,288.9 397.0,294.0 388.2,299.7 378.3,307.0 370.6,313.2 361.8,321.2 353.0,330.1 344.2,340.3 336.1,351.0 330.1,359.8 324.8,368.7 320.1,377.5 315.8,386.3 312.0,395.1 308.7,403.9 305.6,412.7 303.0,421.5 298.7,439.1 297.0,447.9 295.6,456.8 294.5,465.6 293.6,474.4 293.1,483.2 292.7,492.0 292.7,500.8 292.8,509.6 293.3,518.4 294.0,527.2 294.9,536.0 296.2,544.9 297.8,553.7 299.7,562.5 301.9,571.3 304.4,580.1 307.3,588.9 310.7,597.7 314.4,606.5 318.7,615.3 323.4,624.1 328.7,633.0 335.3,642.7 341.3,650.6 344.2,654.1 353.0,664.0 361.8,672.7 370.6,680.4 379.4,687.2 388.2,693.4 397.0,698.9 405.8,703.8 414.6,708.3 423.4,712.2 432.2,715.8 441.1,719.0 449.9,721.7 458.7,724.2 467.5,726.4 476.3,728.1 486.8,729.9Z"/>
<path fill="#fd9c42" d="M465.4,721.1 476.3,723.5 485.1,725.1 493.9,726.3 502.7,727.3 511.5,728.0 520.3,728.4 529.1,728.6 538.0,728.5 546.8,728.1 555.6,727.5 564.4,726.6 573.2,725.4 582.0,723.9 590.8,722.1 599.6,720.0 608.4,717.6 617.2,714.9 626.0,711.8 634.9,708.4 646.0,703.4 652.5,700.3 661.3,695.6 670.1,690.3 678.9,684.5 687.7,678.1 696.5,670.9 705.3,662.9 714.1,653.9 722.9,643.6 731.0,633.0 736.9,624.1 740.6,618.2 747.0,606.5 751.3,597.7 755.1,588.9 758.4,580.1 761.4,571.3 764.0,562.5 766.2,553.7 768.1,544.9 769.7,536.0 770.9,527.2 771.9,518.4 772.5,509.6 772.9,500.8 772.9,492.0 772.7,483.2 772.2,474.4 771.4,465.6 770.2,456.8 768.8,447.9 767.0,439.1 764.9,430.3 762.5,421.5 759.7,412.7 756.5,403.9 753.0,395.1 749.0,386.3 744.5,377.5 739.5,368.7 731.8,356.4 727.9,351.0 721.1,342.2 713.6,333.4 705.1,324.6 696.5,316.7 687.7,309.4 678.9,302.9 670.1,297.0 661.3,291.8 652.5,287.1 643.7,282.9 634.9,279.2 626.0,275.8 617.2,273.0 608.4,270.4 599.6,268.2 590.8,266.3 582.0,264.8 573.2,263.5 564.4,262.6 555.6,261.9 546.8,261.4 538.0,261.3 529.1,261.4 520.3,261.8 511.5,262.4 502.7,263.4 493.9,264.5 485.1,266.0 476.3,267.7 467.5,269.8 458.7,272.2 449.9,274.9 441.1,277.9 432.2,281.4 423.4,285.3 414.6,289.6 405.8,294.4 397.0,299.7 388.2,305.7 379.4,312.3 370.6,319.7 361.8,328.1 356.6,333.4 348.9,342.2 342.0,351.0 335.3,360.7 330.4,368.7 325.4,377.5 321.0,386.3 317.1,395.1 313.5,403.9 310.5,412.7 307.7,421.5 305.3,430.3 303.3,439.1 301.6,447.9 300.2,456.8 299.0,465.6 298.1,474.4 297.5,483.2 297.1,492.0 297.1,500.8 297.2,509.6 297.7,518.4 298.4,527.2 299.5,536.0 300.8,544.9 302.3,553.7 304.3,562.5 306.5,571.3 309.2,580.1 312.2,588.9 315.6,597.7 319.5,606.5 323.9,615.3 328.9,624.1 335.3,634.4 340.6,641.8 344.2,646.4 347.5,650.6 353.0,656.8 361.8,665.9 370.6,674.0 379.4,681.2 388.2,687.5 399.3,694.6 405.8,698.4 414.6,703.0 423.4,707.1 432.2,710.7 441.1,714.0 449.9,716.9 458.7,719.4 465.4,721.1Z"/>
<path fill="#fd9f44" d="M488.9,721.1 502.7,722.8 511.5,723.6 520.3,724.0 529.1,724.2 538.0,724.1 546.8,723.7 555.6,723.0 564.4,722.0 573.2,720.8 582.0,719.3 590.8,717.4 599.6,715.3 608.4,712.8 617.2,710.0 626.0,706.9 634.9,703.3 643.7,699.4 652.5,694.9 661.3,690.1 670.1,684.6 678.9,678.6 687.7,671.9 696.5,664.5 705.3,656.1 710.6,650.6 718.3,641.8 722.9,636.0 731.4,624.1 736.9,615.3 741.9,606.5 746.3,597.7 750.2,588.9 753.7,580.1 756.8,571.3 759.5,562.5 761.8,553.7 763.7,544.9 765.3,536.0 766.6,527.2 767.6,518.4 768.3,509.6 768.6,500.8 768.7,492.0 768.5,483.2 767.9,474.4 767.1,465.6 765.9,456.8 764.4,447.9 762.6,439.1 760.5,430.3 757.9,421.5 755.0,412.7 751.8,403.9 748.1,395.1 743.9,386.3 740.6,379.8 734.1,368.7 728.4,359.8 722.1,351.0 715.0,342.2 705.3,331.6 696.5,323.0 687.7,315.4 678.9,308.6 670.1,302.6 661.3,297.1 652.5,292.3 643.7,287.9 634.9,284.1 626.0,280.7 617.2,277.6 608.4,275.0 599.6,272.8 590.8,270.8 582.0,269.2 573.2,267.9 564.4,266.9 555.6,266.2 546.8,265.8 538.0,265.7 529.1,265.8 520.3,266.2 511.5,266.8 502.7,267.8 493.9,269.0 485.1,270.5 476.3,272.3 467.5,274.4 458.7,276.9 447.4,280.6 441.1,282.8 432.2,286.4 423.4,290.4 414.6,294.9 405.8,299.8 397.0,305.4 388.2,311.6 379.4,318.5 370.6,326.2 363.2,333.4 355.1,342.2 347.9,351.0 341.5,359.8 335.8,368.7 330.7,377.5 326.1,386.3 322.0,395.1 317.7,405.7 315.2,412.7 312.4,421.5 309.9,430.3 307.8,439.1 306.0,447.9 304.5,456.8 303.4,465.6 302.5,474.4 301.9,483.2 301.5,492.0 301.4,500.8 301.6,509.6 302.1,518.4 302.8,527.2 303.8,536.0 305.1,544.9 306.8,553.7 308.8,562.5 311.1,571.3 313.8,580.1 316.9,588.9 320.5,597.7 324.5,606.5 329.1,615.3 334.2,624.1 340.0,633.0 346.4,641.8 353.7,650.6 361.8,659.3 370.6,667.7 379.4,675.1 388.2,681.8 397.0,687.7 405.8,693.0 414.6,697.8 426.7,703.4 432.2,705.8 441.1,709.2 449.9,712.1 458.7,714.7 467.5,717.0 476.3,718.9 488.9,721.1Z"/>
<path fill="#fea446" d="M466.9,712.2 476.3,714.4 485.1,716.0 493.9,717.4 502.7,718.4 511.5,719.1 520.3,719.6 529.1,719.8 538.0,719.6 546.8,719.2 555.6,718.5 564.4,717.6 573.2,716.3 582.0,714.7 590.8,712.8 599.6,710.6 608.4,708.1 622.0,703.4 634.9,698.2 642.7,694.6 652.5,689.6 661.3,684.6 670.1,679.0 678.9,672.7 687.7,665.8 695.1,659.4 705.3,649.4 712.2,641.8 719.4,633.0 725.8,624.1 731.6,615.3 736.7,606.5 741.4,597.7 745.4,588.9 749.4,579.3 752.2,571.3 755.0,562.5 757.4,553.7 759.4,544.9 761.1,536.0 762.4,527.2 763.4,518.4 764.1,509.6 764.5,500.8 764.5,492.0 764.3,483.2 763.7,474.4 762.9,465.6 761.7,456.8 760.1,447.9 758.2,438.8 756.0,430.3 753.4,421.5 750.4,412.7 747.0,403.9 743.2,395.1 740.6,389.6 734.1,377.5 728.7,368.7 722.9,360.0 716.2,351.0 708.8,342.2 700.6,333.4 696.5,329.4 687.7,321.5 678.9,314.4 670.1,308.1 661.3,302.5 652.5,297.4 643.7,292.9 634.9,288.9 626.0,285.4 617.2,282.3 608.4,279.6 599.6,277.2 590.8,275.3 582.0,273.6 568.3,271.7 555.6,270.6 546.8,270.1 538.0,270.0 529.1,270.1 520.3,270.5 506.6,271.7 493.9,273.4 485.1,275.0 476.3,276.8 467.5,279.0 458.7,281.5 449.9,284.4 437.0,289.4 423.4,295.5 414.6,300.1 405.8,305.3 397.0,311.0 388.2,317.4 379.4,324.6 370.6,332.6 361.8,341.7 353.9,351.0 347.2,359.8 341.2,368.7 335.9,377.5 331.2,386.3 326.9,395.1 323.2,403.9 319.9,412.7 317.0,421.5 314.4,430.3 312.3,439.1 310.5,447.9 308.9,456.8 307.7,465.6 306.8,474.4 306.2,483.2 305.8,492.0 305.7,500.8 305.9,509.6 306.3,518.4 307.1,527.2 308.1,536.0 309.5,544.9 311.2,553.7 313.2,562.5 315.6,571.3 317.7,578.0 321.6,588.9 325.3,597.7 329.5,606.5 334.2,615.3 339.6,624.1 345.6,633.0 353.0,642.6 361.8,652.6 370.6,661.4 379.4,669.2 388.2,676.0 397.0,682.2 405.8,687.7 414.6,692.6 423.4,697.0 432.2,700.9 441.1,704.4 449.9,707.4 458.7,710.1 466.9,712.2Z"/>
<path fill="#fea848" d="M489.6,712.2 502.7,714.0 511.5,714.7 520.3,715.2 529.1,715.3 538.0,715.2 546.8,714.8 555.6,714.1 564.4,713.1 573.2,711.8 582.0,710.1 590.8,708.2 599.6,705.9 608.0,703.4 617.2,700.3 626.0,696.9 634.9,693.1 643.7,688.9 652.5,684.2 661.3,679.0 670.1,673.2 678.9,666.8 687.7,659.6 696.5,651.5 706.0,641.8 713.5,633.0 720.2,624.1 726.2,615.3 731.6,606.5 736.3,597.7 740.6,589.0 744.3,580.1 747.7,571.3 750.5,562.5 753.0,553.7 755.1,544.9 756.8,536.0 758.2,527.3 759.2,518.4 759.9,509.6 760.3,500.8 760.4,492.0 760.1,483.2 759.5,474.4 758.6,465.6 757.4,456.8 755.8,447.9 753.9,439.1 751.6,430.3 748.9,421.5 745.7,412.7 742.2,403.9 738.2,395.1 731.8,382.6 728.8,377.5 723.3,368.7 717.1,359.8 710.2,351.0 705.3,345.3 696.5,336.0 687.7,327.7 678.9,320.3 673.0,315.8 661.3,307.8 652.5,302.6 643.7,297.9 634.9,293.8 626.0,290.1 617.2,286.9 608.4,284.2 599.6,281.8 590.8,279.7 582.0,278.1 573.2,276.7 564.4,275.7 555.6,275.0 546.8,274.5 538.0,274.4 529.1,274.5 520.3,274.9 511.5,275.6 502.7,276.6 493.9,277.9 480.0,280.6 467.5,283.6 458.7,286.2 449.4,289.4 441.1,292.6 432.2,296.4 423.4,300.7 414.6,305.4 405.8,310.8 397.0,316.7 388.2,323.3 379.4,330.8 370.6,339.2 367.7,342.2 359.9,351.0 352.9,359.8 346.7,368.7 341.2,377.5 336.2,386.3 331.9,395.1 328.0,403.9 324.6,412.7 321.6,421.5 317.7,435.2 314.9,447.9 313.3,456.8 312.1,465.6 311.2,474.4 310.5,483.2 310.1,492.0 310.0,500.8 310.2,509.6 310.7,518.4 311.4,527.2 312.5,536.0 313.9,544.9 315.6,553.7 317.7,562.5 320.2,571.3 323.0,580.1 326.5,589.4 330.2,597.7 334.5,606.5 339.4,615.3 345.0,624.1 351.2,633.0 358.3,641.8 366.2,650.6 370.6,655.0 379.4,663.1 388.2,670.2 397.5,677.0 405.8,682.3 414.6,687.4 423.4,691.9 429.3,694.6 441.1,699.5 452.3,703.4 458.7,705.4 467.5,707.8 476.3,709.8 489.6,712.2Z"/>
<path fill="#feac49" d="M468.8,703.4 476.3,705.2 485.1,706.9 493.9,708.3 502.7,709.4 511.5,710.2 520.3,710.7 529.1,710.8 538.0,710.7 546.8,710.3 555.6,709.5 564.4,708.5 573.2,707.1 582.0,705.5 590.8,703.5 599.6,701.1 608.4,698.4 619.1,694.6 626.0,691.8 639.2,685.8 652.5,678.7 661.3,673.3 670.1,667.3 678.9,660.6 690.5,650.6 696.5,644.8 705.3,635.3 714.4,624.1 720.6,615.3 726.2,606.5 731.3,597.7 735.6,588.9 739.6,580.1 743.0,571.3 745.9,562.5 749.4,550.4 750.7,544.9 752.4,536.0 753.8,527.2 754.9,518.4 755.6,509.6 756.0,500.8 756.1,492.0 755.8,483.2 755.2,474.4 754.3,465.6 753.0,456.8 751.4,447.9 749.4,439.1 747.0,430.3 744.2,421.5 741.0,412.7 737.3,403.9 733.2,395.1 728.5,386.3 722.9,376.7 714.1,363.8 704.1,351.0 696.1,342.2 687.7,334.0 678.9,326.3 670.1,319.5 661.3,313.4 652.5,307.9 643.7,303.1 634.9,298.8 626.0,295.0 617.2,291.7 608.4,288.8 599.6,286.4 590.8,284.3 582.0,282.6 573.2,281.2 564.4,280.1 555.6,279.4 546.8,278.9 538.0,278.8 529.1,278.9 520.3,279.4 507.1,280.6 493.9,282.4 485.1,284.1 476.3,286.1 464.0,289.4 449.9,294.1 441.1,297.5 432.2,301.5 423.4,305.9 414.6,310.9 405.8,316.3 397.0,322.6 388.2,329.5 379.4,337.3 374.3,342.2 366.1,351.0 358.8,359.8 352.3,368.7 346.6,377.5 341.5,386.3 336.9,395.1 332.9,403.9 329.4,412.7 326.3,421.5 323.6,430.3 321.4,439.1 319.4,447.9 317.8,456.8 316.5,465.6 315.6,474.4 314.9,483.2 314.5,492.0 314.4,500.8 314.6,509.6 315.1,518.4 315.8,527.2 316.9,536.0 318.3,544.9 320.1,553.7 322.3,562.5 324.8,571.3 326.5,576.7 331.2,588.9 335.1,597.7 339.7,606.5 344.7,615.3 350.5,624.1 357.1,633.0 364.5,641.8 370.6,648.4 379.4,656.8 388.2,664.3 397.0,670.9 405.8,676.8 414.6,682.0 423.4,686.8 432.2,690.9 441.1,694.6 449.9,697.8 458.7,700.6 468.8,703.4Z"/>
<path fill="#feb04b" d="M492.5,703.4 502.7,704.7 511.5,705.5 520.3,706.0 529.1,706.1 538.0,706.0 546.8,705.6 555.6,704.8 564.4,703.8 573.2,702.3 582.0,700.5 590.8,698.5 604.4,694.6 617.2,690.1 626.0,686.5 634.9,682.4 643.7,678.0 652.5,672.9 660.1,668.2 672.4,659.4 678.9,654.2 687.7,646.4 696.5,637.7 700.8,633.0 708.2,624.1 714.9,615.3 720.6,606.5 725.8,597.7 730.5,588.9 734.5,580.1 738.1,571.3 741.2,562.5 743.8,553.7 746.0,544.9 747.9,536.0 749.4,527.2 750.5,518.4 751.2,509.6 751.6,500.8 751.7,492.0 751.4,483.2 750.8,474.4 749.4,461.9 748.6,456.8 746.8,447.9 744.7,439.1 742.3,430.3 740.6,424.9 736.0,412.7 732.3,403.9 727.9,395.1 722.9,385.9 717.7,377.5 711.7,368.7 705.3,360.1 697.6,351.0 689.2,342.2 679.8,333.4 668.9,324.6 661.3,319.2 652.5,313.5 643.7,308.4 634.9,304.0 626.0,300.1 617.2,296.6 608.4,293.7 599.6,291.2 592.5,289.4 582.0,287.3 573.2,285.9 564.4,284.8 555.6,284.1 546.8,283.6 538.0,283.5 529.1,283.6 520.3,284.1 511.5,284.8 502.7,285.9 493.9,287.2 482.5,289.4 467.5,293.3 458.7,296.0 449.9,299.2 441.1,302.8 432.2,306.8 423.4,311.4 415.8,315.8 405.8,322.3 397.0,328.7 391.2,333.4 381.3,342.2 372.6,351.0 365.0,359.8 361.8,363.9 358.3,368.7 352.2,377.5 347.0,386.3 342.2,395.1 338.1,403.9 334.4,412.7 331.3,421.5 328.5,430.3 326.0,439.1 324.1,447.9 322.5,456.8 321.2,465.6 320.2,474.4 319.5,483.2 319.1,492.0 319.0,500.8 319.2,509.6 319.7,518.4 320.5,527.2 321.6,536.0 323.0,544.9 324.8,553.7 326.5,561.1 329.6,571.3 332.7,580.1 336.2,588.9 340.3,597.7 345.0,606.5 350.3,615.3 356.4,624.1 363.2,633.0 370.6,641.4 379.4,650.3 388.2,658.0 397.0,664.9 405.8,671.0 414.6,676.5 423.4,681.3 432.5,685.8 441.1,689.4 455.3,694.6 467.5,698.2 476.3,700.3 485.1,702.1 492.5,703.4Z"/>
<path fill="#feb44e" d="M473.6,694.6 485.1,697.0 493.9,698.5 502.7,699.7 511.5,700.5 520.3,701.0 529.1,701.2 538.0,701.0 546.8,700.5 555.6,699.7 564.4,698.6 573.2,697.2 582.0,695.4 590.8,693.3 599.6,690.7 614.1,685.8 626.0,680.8 634.9,676.7 643.7,671.9 652.5,666.8 661.3,661.0 670.1,654.5 678.9,647.2 685.0,641.8 687.7,639.2 696.5,630.0 705.3,619.5 708.5,615.3 714.1,607.4 720.1,597.7 724.9,588.9 729.2,580.1 732.9,571.3 736.1,562.5 738.9,553.7 741.2,544.9 743.0,536.0 744.5,527.2 745.7,518.4 746.5,509.6 746.9,500.8 747.0,492.0 746.7,483.2 746.0,474.4 745.0,465.6 743.7,456.8 742.0,447.9 740.6,441.8 737.2,430.3 734.2,421.5 730.8,412.7 726.7,403.9 722.3,395.1 717.2,386.3 711.6,377.5 705.4,368.7 696.5,357.7 690.5,351.0 681.7,342.2 678.9,339.6 671.8,333.4 661.3,325.3 652.5,319.4 646.6,315.8 634.9,309.5 629.5,307.0 617.2,302.0 608.4,298.8 599.6,296.3 590.8,294.1 582.0,292.3 573.2,290.8 564.4,289.6 555.6,288.9 546.8,288.4 538.0,288.3 529.1,288.5 520.3,288.9 511.5,289.7 502.7,290.8 493.9,292.2 485.1,294.0 476.3,296.1 467.5,298.4 458.7,301.4 449.9,304.6 441.1,308.3 426.0,315.8 411.6,324.6 405.8,328.6 397.0,335.3 388.2,342.8 379.4,351.3 370.6,361.1 364.6,368.7 358.4,377.5 353.0,385.8 347.9,395.1 344.2,402.4 339.8,412.7 336.4,421.5 333.6,430.3 331.2,439.1 329.1,447.9 327.4,456.8 326.1,465.6 325.1,474.4 324.4,483.2 324.0,492.0 323.9,500.8 324.1,509.6 324.5,518.4 325.3,527.2 326.3,536.0 327.8,544.9 329.7,553.7 332.0,562.5 335.3,573.5 337.8,580.1 341.6,588.9 344.2,594.5 350.7,606.5 356.3,615.3 362.6,624.1 369.8,633.0 379.4,643.1 388.2,651.3 397.0,658.5 405.8,664.9 414.6,670.5 423.4,675.6 432.2,680.0 441.1,684.0 449.9,687.4 458.7,690.3 467.5,693.0 473.6,694.6Z"/>
<path fill="#feb953" d="M504.8,694.6 511.5,695.2 520.3,695.7 529.1,695.9 538.0,695.7 546.8,695.3 555.6,694.4 564.4,693.2 573.2,691.7 582.0,689.8 590.8,687.6 599.6,685.0 608.4,682.0 621.0,677.0 626.0,674.7 638.9,668.2 643.7,665.5 653.6,659.4 661.3,654.0 670.1,647.3 678.9,639.8 686.1,633.0 696.5,621.6 701.6,615.3 708.1,606.5 714.0,597.7 719.0,588.9 723.5,580.1 727.3,571.3 730.8,562.5 733.6,553.7 736.0,544.9 737.9,536.0 739.5,527.2 740.7,518.4 741.5,509.6 741.9,500.8 742.0,492.0 741.7,483.2 741.1,474.4 740.1,465.6 738.6,456.8 736.8,447.9 734.5,439.1 731.9,430.3 728.6,421.5 725.0,412.7 720.8,403.9 716.1,395.1 710.8,386.3 705.0,377.5 698.4,368.7 691.0,359.8 682.8,351.0 678.9,347.2 670.1,339.2 661.3,332.1 652.5,325.8 643.7,320.4 635.6,315.8 626.0,311.3 617.2,307.5 608.4,304.4 599.6,301.7 590.8,299.4 582.0,297.5 573.2,296.1 564.4,295.0 555.6,294.2 546.8,293.8 538.0,293.6 529.1,293.8 520.3,294.3 511.5,295.1 502.7,296.2 493.9,297.6 485.1,299.4 476.3,301.6 467.5,304.1 458.6,307.0 449.9,310.4 437.9,315.8 432.2,318.7 421.8,324.6 414.6,329.2 405.8,335.4 397.0,342.4 388.2,350.4 379.0,359.8 371.5,368.7 364.9,377.5 359.1,386.3 353.9,395.1 349.4,403.9 345.4,412.7 342.0,421.5 339.1,430.3 336.5,439.1 334.5,447.9 332.8,456.8 331.4,465.6 330.4,474.4 329.7,483.2 329.2,492.0 329.1,500.8 329.3,509.6 329.7,518.4 330.5,527.2 331.7,536.0 333.1,544.9 335.3,555.3 337.3,562.5 340.1,571.3 343.4,580.1 347.3,588.9 351.7,597.7 356.9,606.5 361.8,614.0 369.5,624.1 377.1,633.0 388.2,644.0 397.0,651.6 405.8,658.3 414.6,664.1 423.4,669.4 432.2,674.0 441.1,678.1 449.9,681.6 462.0,685.8 467.5,687.4 476.3,689.7 485.1,691.6 493.9,693.2 504.8,694.6Z"/>
<path fill="#febd57" d="M484.6,685.8 493.9,687.5 502.7,688.7 511.5,689.6 520.3,690.1 529.1,690.2 538.0,690.1 546.8,689.5 555.6,688.7 564.4,687.5 573.2,686.0 582.0,684.0 590.8,681.6 599.6,678.9 608.4,675.8 617.2,672.2 626.0,668.2 634.9,663.7 643.7,658.6 652.5,653.0 661.3,646.6 667.5,641.8 678.9,631.7 687.7,622.8 694.2,615.3 701.1,606.5 705.3,600.6 714.1,586.3 717.3,580.1 721.5,571.3 725.0,562.5 728.0,553.7 730.5,544.9 732.5,536.0 734.1,527.2 735.3,518.4 736.1,509.6 736.6,500.8 736.7,492.0 736.4,483.2 735.7,474.4 734.7,465.6 733.2,456.8 731.3,447.9 728.9,439.1 726.1,430.3 722.8,421.5 718.9,412.7 714.6,403.9 709.5,395.1 704.0,386.3 697.8,377.5 690.9,368.7 683.2,359.8 678.9,355.3 670.1,346.9 664.8,342.2 652.5,332.7 643.7,326.9 634.9,321.8 626.0,317.3 617.2,313.5 608.4,310.2 599.6,307.4 590.8,305.1 582.0,303.2 573.2,301.7 564.4,300.5 555.6,299.7 546.8,299.3 538.0,299.1 529.1,299.3 520.3,299.8 511.5,300.7 502.7,301.8 493.9,303.3 485.1,305.2 476.3,307.3 467.5,310.0 458.7,313.1 449.9,316.6 441.1,320.6 432.2,325.2 423.4,330.4 414.6,336.2 406.5,342.2 396.0,351.0 388.2,358.5 379.4,368.1 370.6,379.3 365.8,386.3 360.3,395.1 355.6,403.9 351.5,412.7 347.9,421.5 344.8,430.3 342.3,439.1 340.2,447.9 338.4,456.8 337.0,465.6 335.9,474.4 335.2,483.2 334.7,492.0 334.6,500.8 334.7,509.6 335.2,518.4 336.0,527.2 337.1,536.0 338.7,544.9 340.6,553.7 342.9,562.5 345.8,571.3 349.3,580.1 353.3,588.9 358.0,597.7 363.5,606.5 370.6,616.5 376.9,624.1 385.0,633.0 388.2,636.1 397.0,644.1 405.8,651.2 414.6,657.3 423.4,662.8 432.2,667.7 441.1,671.8 449.9,675.6 458.7,678.8 467.5,681.5 476.3,683.9 484.6,685.8Z"/>
<path fill="#fec15d" d="M473.2,677.0 485.1,679.9 493.9,681.5 502.7,682.8 511.5,683.7 520.3,684.3 529.1,684.4 538.0,684.2 546.8,683.7 555.6,682.8 564.4,681.5 573.2,679.8 582.0,677.8 590.8,675.4 599.6,672.6 608.4,669.3 617.2,665.6 626.0,661.4 634.9,656.6 643.7,651.4 652.5,645.5 661.3,638.9 668.4,633.0 678.9,623.2 687.7,613.8 693.7,606.5 700.2,597.7 705.3,589.9 710.9,580.1 714.1,573.8 719.0,562.5 722.2,553.7 724.7,544.9 726.9,536.0 728.5,527.2 729.8,518.4 730.7,509.6 731.1,500.8 731.2,492.0 730.9,483.2 730.2,474.4 729.1,465.6 727.6,456.8 725.6,447.9 723.1,439.1 720.1,430.3 716.6,421.5 712.6,412.7 707.9,403.9 702.6,395.1 696.8,386.3 690.2,377.5 683.0,368.7 674.9,359.8 670.1,355.1 661.3,347.1 655.3,342.2 643.1,333.4 634.9,328.4 626.0,323.7 617.2,319.7 608.4,316.2 599.6,313.4 590.8,311.0 582.0,309.0 573.2,307.4 564.4,306.3 555.6,305.5 546.8,305.1 538.0,305.0 529.1,305.2 520.3,305.7 511.5,306.5 502.7,307.7 493.9,309.3 485.1,311.2 476.3,313.5 467.5,316.2 458.7,319.4 449.9,323.1 441.1,327.3 432.2,332.1 423.4,337.5 414.6,343.6 405.8,350.5 395.4,359.8 386.9,368.7 379.4,377.4 372.9,386.3 370.6,389.6 367.1,395.1 362.1,403.9 357.8,412.7 354.0,421.5 350.9,430.3 348.2,439.1 346.0,447.9 344.2,456.8 342.8,465.6 341.8,474.4 341.0,483.2 340.6,492.0 340.4,500.8 340.6,509.6 341.0,518.4 341.8,527.2 342.9,536.0 344.4,544.9 346.3,553.7 348.8,562.5 351.8,571.3 355.3,580.1 359.6,588.9 364.6,597.7 370.6,606.8 377.1,615.3 384.8,624.1 388.2,627.7 397.0,636.2 403.5,641.8 415.2,650.6 423.4,655.9 432.2,661.0 441.1,665.4 449.9,669.2 458.7,672.5 467.5,675.4 473.2,677.0Z"/>
<path fill="#fec561" d="M504.7,677.0 511.5,677.7 520.3,678.3 529.1,678.4 538.0,678.2 546.8,677.6 555.6,676.7 564.4,675.4 573.2,673.6 582.0,671.5 590.8,669.0 599.6,666.0 608.4,662.6 617.2,658.7 626.0,654.3 634.9,649.4 643.7,643.9 652.5,637.7 658.6,633.0 670.1,623.1 678.9,614.3 685.8,606.5 692.8,597.7 698.9,588.9 704.3,580.1 708.9,571.3 712.9,562.5 716.2,553.7 718.9,544.9 721.1,536.0 722.8,527.2 724.1,518.4 725.0,509.6 725.5,500.8 725.6,492.0 725.3,483.2 724.6,474.4 723.4,465.6 721.8,456.8 719.8,447.9 717.2,439.1 714.1,430.7 710.3,421.5 705.9,412.7 701.0,403.9 695.4,395.1 689.2,386.3 682.3,377.5 678.9,373.4 674.7,368.7 666.1,359.8 656.5,351.0 652.5,347.7 643.7,341.0 634.9,335.3 626.0,330.3 617.2,326.1 608.4,322.5 599.6,319.5 590.8,317.0 582.0,315.0 573.2,313.4 564.4,312.3 555.6,311.5 546.8,311.0 538.0,310.9 529.1,311.2 520.3,311.7 511.5,312.6 502.7,313.8 493.9,315.4 485.1,317.3 476.3,319.7 467.5,322.5 458.7,325.8 449.9,329.7 441.1,334.1 432.2,339.1 423.4,344.9 414.6,351.3 405.8,358.6 395.2,368.7 387.2,377.5 380.2,386.3 374.1,395.1 370.6,400.9 364.2,412.7 360.3,421.5 357.0,430.3 354.3,439.1 352.0,447.9 350.2,456.8 348.8,465.6 347.8,474.4 347.0,483.2 346.5,492.0 346.3,500.8 346.5,509.6 346.9,518.4 347.6,527.2 348.7,536.0 350.2,544.9 352.2,553.7 354.7,562.5 357.8,571.3 361.6,580.1 366.1,588.9 371.5,597.7 377.7,606.5 384.9,615.3 388.2,619.0 397.0,628.0 405.8,635.8 413.3,641.8 423.4,648.8 426.3,650.6 432.2,654.1 441.1,658.7 449.9,662.7 458.7,666.1 467.5,669.1 476.3,671.6 485.1,673.7 493.9,675.5 504.7,677.0Z"/>
<path fill="#feca66" d="M488.3,668.2 493.9,669.3 502.7,670.8 511.5,671.8 520.3,672.3 529.1,672.4 538.0,672.2 546.8,671.6 555.6,670.6 564.4,669.2 573.2,667.4 582.0,665.2 590.8,662.6 599.6,659.4 608.4,655.9 619.6,650.6 626.0,647.2 634.9,642.0 643.7,636.3 652.5,629.8 661.3,622.6 669.2,615.3 677.7,606.5 685.2,597.7 687.7,594.6 691.8,588.9 697.6,580.1 702.6,571.3 706.7,562.5 710.3,553.7 713.1,544.9 715.3,536.0 717.1,527.2 718.4,518.4 719.3,509.6 719.9,500.8 720.0,492.0 719.7,483.2 719.0,474.4 717.8,465.6 716.1,456.8 713.9,447.9 711.2,439.1 707.8,430.3 703.8,421.5 699.2,412.7 693.9,403.9 688.0,395.1 681.4,386.3 674.2,377.5 670.1,372.9 666.2,368.7 657.2,359.8 652.5,355.6 643.7,348.4 634.9,342.2 626.0,336.9 617.2,332.4 608.4,328.6 599.6,325.5 590.8,323.0 582.0,320.9 573.2,319.3 564.4,318.2 555.6,317.4 546.8,317.0 538.0,316.9 529.1,317.2 520.3,317.8 511.5,318.7 502.7,319.9 493.9,321.5 485.1,323.5 476.3,326.0 467.5,328.9 458.7,332.4 449.9,336.4 441.1,341.0 432.2,346.3 425.3,351.0 413.8,359.8 405.8,366.8 397.0,375.6 387.7,386.3 381.2,395.1 375.6,403.9 370.8,412.7 366.6,421.5 363.2,430.3 360.3,439.1 358.0,447.9 356.2,456.8 354.8,465.6 353.8,474.4 353.0,483.2 352.6,492.0 352.4,500.8 352.5,509.6 352.9,518.4 353.5,527.2 354.6,536.0 356.0,544.9 358.0,553.7 360.6,562.5 363.8,571.3 367.8,580.1 372.7,588.9 378.4,597.7 385.2,606.5 388.2,610.1 397.0,619.5 401.8,624.1 405.8,627.8 414.6,635.2 423.4,641.6 432.2,647.2 441.1,652.0 449.9,656.2 458.7,659.7 467.5,662.8 476.3,665.4 488.3,668.2Z"/>
<path fill="#fecf6b" d="M476.9,659.4 485.1,661.5 493.9,663.4 502.7,664.9 511.5,666.0 520.3,666.5 529.1,666.6 538.0,666.3 546.8,665.7 555.6,664.7 564.4,663.3 573.2,661.4 582.0,659.0 590.8,656.3 599.6,653.0 608.4,649.2 617.2,645.0 626.0,640.2 634.9,634.8 643.7,628.8 652.5,622.0 660.3,615.3 669.5,606.5 678.9,596.2 684.7,588.9 690.9,580.1 696.3,571.3 700.8,562.5 704.5,553.7 707.4,544.9 709.8,536.0 711.6,527.2 712.9,518.4 713.8,509.6 714.3,500.8 714.5,492.0 714.2,483.2 713.5,474.4 712.3,465.6 710.6,456.8 708.3,447.9 705.3,439.1 701.9,430.3 697.5,421.5 692.5,412.7 686.9,403.9 680.6,395.1 673.7,386.3 670.1,382.0 666.1,377.5 657.7,368.7 648.4,359.8 643.7,355.8 634.9,349.0 626.0,343.3 617.2,338.6 608.4,334.7 599.6,331.4 590.8,328.7 582.0,326.7 573.2,325.1 564.4,324.0 555.6,323.2 546.8,322.8 538.0,322.8 529.1,323.1 520.3,323.7 511.5,324.7 502.7,325.9 493.9,327.4 485.1,329.5 476.3,332.1 467.5,335.1 458.7,338.7 449.9,342.9 441.1,347.8 432.2,353.4 423.4,359.8 414.6,366.9 405.8,375.0 395.3,386.3 388.3,395.1 382.2,403.9 377.1,412.7 372.7,421.5 369.1,430.3 366.1,439.1 363.8,447.9 362.1,456.8 360.7,465.6 359.7,474.4 358.9,483.2 358.4,492.0 358.2,500.8 358.3,509.6 358.6,518.4 359.3,527.2 360.3,536.0 361.8,544.9 363.6,553.7 366.3,562.5 369.7,571.3 373.8,580.1 379.1,588.9 385.4,597.7 392.7,606.5 397.0,611.2 405.8,619.9 414.6,627.7 421.3,633.0 432.2,640.5 441.1,645.6 449.9,649.8 458.7,653.5 467.5,656.6 476.9,659.4Z"/>
<path fill="#fed36f" d="M503.6,659.4 511.5,660.5 520.3,661.0 529.1,661.0 538.0,660.7 546.8,660.0 555.6,659.0 564.4,657.6 573.2,655.7 582.0,653.2 590.8,650.2 599.6,646.9 608.4,642.9 617.2,638.5 626.0,633.4 634.9,627.8 643.7,621.6 652.5,614.5 661.3,606.6 670.1,597.7 678.9,587.5 684.5,580.1 690.3,571.3 695.1,562.5 699.1,553.7 702.2,544.9 704.5,536.0 706.2,527.2 707.6,518.4 708.6,509.6 709.2,500.8 709.4,492.0 709.1,483.2 708.4,474.4 707.1,465.6 705.2,456.8 703.0,447.9 700.0,439.1 696.0,430.3 691.4,421.5 686.0,412.7 680.0,403.9 673.4,395.1 670.1,391.0 666.1,386.3 658.3,377.5 649.6,368.7 640.1,359.8 634.9,355.6 628.4,351.0 626.0,349.4 617.2,344.4 608.4,340.3 599.6,336.9 590.8,334.3 582.0,332.2 573.2,330.5 564.4,329.4 555.6,328.7 546.8,328.3 538.0,328.3 529.1,328.6 520.3,329.3 511.5,330.2 502.7,331.5 493.9,333.2 485.1,335.2 476.3,337.8 467.5,341.0 458.7,344.7 449.9,349.1 441.1,354.2 432.2,360.2 423.4,366.9 414.6,374.4 405.8,382.8 402.6,386.3 395.0,395.1 388.6,403.9 383.1,412.7 378.6,421.5 374.6,430.3 371.7,439.1 369.4,447.9 367.6,456.8 366.2,465.6 365.2,474.4 364.5,483.2 364.0,492.0 363.8,500.8 363.8,509.6 364.1,518.4 364.7,527.2 365.6,536.0 366.9,544.9 368.9,553.7 371.7,562.5 375.1,571.3 379.7,580.1 385.3,588.9 388.2,592.8 392.2,597.7 400.2,606.5 405.8,612.2 414.6,620.4 423.4,627.7 432.2,634.0 441.1,639.5 449.9,643.9 458.7,647.6 476.3,653.5 485.1,655.8 493.9,657.8 503.6,659.4Z"/>
<path fill="#fed774" d="M486.1,650.6 493.9,652.5 502.7,654.2 511.5,655.6 520.3,656.0 529.1,656.0 538.0,655.6 546.8,654.9 555.6,653.8 564.4,652.3 573.2,650.2 582.0,647.7 590.8,644.7 599.6,641.0 608.4,637.0 617.2,632.3 626.0,627.1 634.9,621.3 643.7,614.7 652.5,607.5 661.3,599.4 670.1,590.1 678.9,579.3 684.6,571.3 687.7,566.1 689.9,562.5 694.1,553.7 697.1,544.9 699.7,536.0 701.5,527.2 702.8,518.4 703.7,509.6 704.3,500.8 704.5,492.0 704.3,483.2 703.6,474.4 702.4,465.6 700.5,456.8 698.0,447.9 694.9,439.1 690.7,430.3 687.7,425.1 685.6,421.5 678.9,411.4 673.4,403.9 666.5,395.1 658.9,386.3 652.5,379.2 642.1,368.7 632.4,359.8 626.0,355.0 617.2,349.9 608.4,345.5 599.6,342.2 590.8,339.2 582.0,337.1 573.2,335.6 564.4,334.6 555.6,333.9 546.8,333.6 538.0,333.6 529.1,334.0 520.3,334.6 511.5,335.5 502.7,336.7 493.9,338.3 485.1,340.5 476.3,343.2 467.5,346.4 458.7,350.4 449.9,354.9 441.1,360.4 429.7,368.7 423.4,373.7 414.6,381.5 405.8,390.2 401.5,395.1 394.6,403.9 388.9,412.7 383.8,421.5 379.9,430.3 376.7,439.1 374.3,447.9 372.7,456.8 371.5,465.6 369.9,483.2 369.4,492.0 369.1,500.8 369.1,509.6 369.4,518.4 369.9,527.2 370.7,536.0 371.8,544.9 373.6,553.7 376.5,562.5 380.3,571.3 384.8,580.1 388.2,585.0 397.0,595.7 405.8,604.9 414.6,613.4 423.4,621.1 432.2,628.0 441.1,633.7 449.9,638.5 467.5,645.3 476.3,648.1 486.1,650.6Z"/>
<path fill="#feda78" d="M509.8,650.6 511.5,650.9 520.3,651.1 529.1,651.1 538.0,650.7 546.8,649.9 555.6,648.9 564.4,647.6 573.2,645.4 582.0,642.6 590.8,639.4 599.6,635.8 608.4,631.5 617.2,626.7 626.0,621.2 634.9,615.1 643.7,608.4 652.5,601.0 656.0,597.7 661.3,592.6 670.1,582.9 678.9,571.6 684.9,562.5 689.6,553.7 692.8,544.9 695.2,536.0 696.8,527.2 698.2,518.4 699.2,509.6 699.9,500.8 700.2,492.0 700.0,483.2 699.2,474.4 697.9,465.6 695.9,456.8 693.6,447.9 690.3,439.1 687.7,434.1 685.6,430.3 678.9,419.8 673.9,412.7 667.2,403.9 659.9,395.1 652.1,386.3 643.9,377.5 635.1,368.7 626.0,360.4 617.2,354.8 608.4,350.5 599.6,346.6 590.8,343.9 582.0,341.8 573.2,340.3 564.4,339.2 555.6,338.5 546.8,338.2 538.0,338.3 529.1,338.7 520.3,339.5 511.5,340.4 502.7,341.7 493.9,343.1 485.1,345.3 476.3,348.0 467.5,351.5 458.7,355.4 449.9,360.3 441.1,366.1 432.2,372.8 423.4,380.1 414.6,388.1 405.8,397.0 400.1,403.9 394.1,412.7 388.9,421.5 384.5,430.3 381.3,439.1 379.1,447.9 377.3,456.8 376.3,465.6 374.7,483.2 374.2,492.0 373.9,509.6 374.5,527.2 375.1,536.0 376.1,544.9 377.9,553.7 381.1,562.5 384.9,571.3 388.2,577.3 389.9,580.1 397.0,588.8 405.8,598.2 414.6,606.7 424.0,615.3 434.6,624.1 441.1,628.7 449.9,633.3 458.7,637.1 467.5,640.2 476.3,643.0 485.1,645.5 493.9,647.6 509.8,650.6Z"/>
<path fill="#fedd7e" d="M489.4,641.8 502.7,644.8 511.5,646.5 520.3,646.8 529.1,646.8 538.0,646.3 546.8,645.5 555.6,644.5 564.4,643.2 573.2,640.7 582.0,637.9 590.8,634.6 599.6,630.7 608.4,626.3 617.2,621.3 626.0,615.6 634.9,609.4 638.6,606.5 643.7,602.5 652.5,594.9 661.3,586.2 666.8,580.1 673.9,571.3 678.9,564.6 680.3,562.5 685.1,553.7 688.6,544.9 691.2,536.0 692.8,527.2 694.0,518.4 695.6,500.8 696.0,492.0 695.8,483.2 695.1,474.4 693.9,465.6 691.9,456.8 689.4,447.9 685.9,439.1 680.7,430.3 674.7,421.5 670.1,415.2 661.3,404.1 653.7,395.1 645.8,386.3 629.1,368.7 626.0,365.9 617.2,359.6 608.4,354.9 599.6,351.1 590.8,348.1 582.0,345.8 573.2,344.6 555.6,343.1 546.8,342.7 538.0,342.9 520.3,344.1 511.5,345.0 493.9,347.4 485.1,349.8 476.3,352.6 467.5,356.1 458.7,360.4 449.9,365.2 444.9,368.7 432.2,378.7 423.4,386.2 413.7,395.1 405.3,403.9 397.0,416.0 393.6,421.5 389.0,430.3 385.4,439.1 383.1,447.9 381.6,456.8 380.1,474.4 378.9,492.0 378.6,500.8 378.7,518.4 379.5,536.0 380.3,544.9 382.1,553.7 385.3,562.5 389.4,571.3 394.9,580.1 397.0,582.7 405.8,592.1 414.6,600.5 430.6,615.3 441.7,624.1 449.9,629.0 458.7,632.4 467.5,635.6 476.3,638.4 489.4,641.8Z"/>
<path fill="#fede82" d="M509.3,641.8 511.5,642.2 520.3,642.6 529.1,642.5 538.0,642.0 546.8,641.1 555.6,640.2 564.4,638.9 573.2,636.3 582.0,633.3 590.8,630.0 599.6,626.0 608.4,621.4 617.2,616.2 626.0,610.3 634.9,603.9 643.7,596.8 652.5,589.1 661.3,580.1 670.1,569.7 675.7,562.5 680.7,553.7 684.5,544.9 687.2,536.0 688.8,527.2 690.0,518.4 691.0,509.6 691.7,500.8 692.2,492.0 692.1,483.2 691.3,474.4 690.1,465.6 687.9,456.8 685.2,447.9 681.6,439.1 675.9,430.3 670.1,422.3 661.3,411.1 655.3,403.9 647.7,395.1 639.7,386.3 626.0,371.8 622.8,368.7 617.2,364.4 608.4,359.3 599.6,355.5 590.8,352.4 582.0,349.8 573.2,348.6 555.6,347.2 546.8,346.7 538.0,347.1 529.1,347.7 511.5,349.4 502.7,350.5 493.9,351.6 485.1,354.0 476.3,356.8 467.5,360.6 458.7,364.9 449.9,370.1 440.6,377.5 423.4,391.7 414.6,399.9 410.7,403.9 405.8,410.1 398.2,421.5 393.6,430.3 389.7,439.1 387.1,447.9 385.6,456.8 383.2,492.0 382.8,509.6 383.4,536.0 384.4,544.9 386.0,553.7 389.6,562.5 393.9,571.3 399.9,580.1 405.8,586.4 437.3,615.3 448.9,624.1 449.9,624.7 458.7,628.1 467.5,631.2 476.3,633.9 493.9,638.5 509.3,641.8Z"/>
<path fill="#fee187" d="M488.9,633.0 493.9,634.3 511.5,638.2 520.3,638.6 529.1,638.6 538.0,638.0 555.6,636.1 564.4,634.7 582.0,629.1 590.8,625.5 599.6,621.5 610.6,615.3 617.2,611.2 626.0,605.1 634.9,598.5 643.7,591.5 652.5,583.8 656.1,580.1 671.0,562.5 676.2,553.7 680.3,544.9 683.4,536.0 685.0,527.2 686.2,518.4 687.8,500.8 688.5,492.0 688.4,483.2 687.5,474.4 686.2,465.6 683.8,456.8 681.0,447.9 678.9,442.9 677.1,439.1 671.2,430.3 661.3,417.8 652.5,407.3 643.7,397.2 625.5,377.5 616.3,368.7 608.4,363.7 599.6,359.9 582.0,354.0 573.2,352.7 546.8,350.7 529.1,352.0 511.5,353.7 493.9,355.6 485.1,358.1 476.3,361.0 467.5,364.8 459.9,368.7 449.9,375.2 426.1,395.1 416.4,403.9 414.6,405.7 409.1,412.7 405.8,417.0 402.8,421.5 398.2,430.3 394.3,439.1 391.4,447.9 389.8,456.8 389.4,465.6 387.5,492.0 387.1,509.6 387.4,536.0 388.2,542.6 390.3,553.7 394.0,562.5 397.0,568.5 398.7,571.3 404.9,580.1 405.8,581.1 441.1,612.7 444.2,615.3 449.9,619.5 458.7,623.8 467.5,627.0 476.3,629.7 488.9,633.0Z"/>
<path fill="#fee38b" d="M506.5,633.0 511.5,634.1 520.3,634.7 529.1,634.7 538.0,634.0 546.8,632.9 555.6,632.0 564.4,630.5 573.2,627.9 582.0,625.0 590.8,621.2 599.6,617.1 602.8,615.3 608.4,612.1 617.0,606.5 626.0,600.1 643.7,586.4 650.8,580.1 652.5,578.4 665.9,562.5 670.1,556.4 671.7,553.7 676.0,544.9 679.5,536.0 681.4,527.2 682.6,518.4 683.2,509.6 684.2,500.8 684.7,492.0 684.7,483.2 683.6,474.4 682.0,465.6 679.6,456.8 676.6,447.9 672.5,439.1 666.2,430.3 651.6,412.7 636.1,395.1 626.0,384.1 617.2,375.0 609.4,368.7 608.4,368.0 599.6,364.3 590.8,361.2 582.0,358.3 573.2,356.8 555.6,355.2 546.8,354.6 538.0,355.1 493.9,359.6 476.3,365.3 467.5,369.0 458.7,374.2 449.9,380.3 432.6,395.1 423.4,403.4 414.6,412.3 407.7,421.5 405.8,424.8 402.9,430.3 399.0,439.1 396.0,447.9 394.2,456.8 393.0,474.4 391.5,492.0 391.1,509.6 391.2,518.4 391.6,536.0 392.8,544.9 395.0,553.7 398.6,562.5 403.9,571.3 405.8,574.0 410.8,580.1 432.2,599.2 449.9,614.2 458.7,619.2 467.5,622.7 471.6,624.1 476.3,625.6 493.9,630.2 506.5,633.0Z"/>
<path fill="#ffe590" d="M486.7,624.1 493.9,626.2 511.5,629.8 520.3,630.5 529.1,630.6 538.0,629.8 555.6,627.8 564.4,626.4 573.2,623.8 582.0,620.7 590.8,617.0 599.6,612.6 608.4,607.6 617.2,601.7 622.7,597.7 645.2,580.1 652.5,572.9 661.3,561.8 667.2,553.7 671.6,544.9 675.4,536.0 677.5,527.2 678.9,518.6 679.5,509.6 680.6,500.8 681.0,492.0 681.1,483.2 679.7,474.4 677.9,465.6 675.3,456.8 672.0,447.9 667.7,439.1 661.3,430.5 643.7,409.8 622.5,386.3 617.2,380.7 608.4,373.2 599.3,368.7 590.8,365.4 582.0,362.7 573.2,361.0 555.6,359.1 546.8,358.5 538.0,359.0 520.3,361.1 502.7,362.7 493.9,363.9 476.3,369.6 467.5,373.9 461.4,377.5 458.7,379.1 449.9,385.6 438.7,395.1 423.4,409.3 420.1,412.7 413.0,421.5 407.7,430.3 403.7,439.1 400.5,447.9 398.7,456.8 396.5,483.2 395.5,492.0 395.5,500.8 395.0,509.6 395.4,527.2 396.0,536.0 397.2,544.9 399.8,553.7 403.7,562.5 409.4,571.3 416.9,580.1 432.2,593.9 437.2,597.7 449.9,608.8 458.7,614.5 460.4,615.3 467.5,618.2 476.3,621.5 486.7,624.1Z"/>
<path fill="#ffe895" d="M503.9,624.1 511.5,625.4 520.3,626.0 529.1,626.1 538.0,625.6 546.8,624.6 555.6,623.6 564.4,622.2 582.0,616.5 590.8,612.6 599.6,608.0 608.4,602.9 617.2,597.0 639.0,580.1 643.7,575.9 648.2,571.3 652.5,566.8 662.7,553.7 670.1,538.7 671.3,536.0 673.2,527.2 674.7,518.4 675.6,509.6 676.8,500.8 677.1,492.0 677.1,483.2 673.8,465.6 670.8,456.8 667.1,447.9 662.7,439.1 655.8,430.3 648.6,421.5 643.7,415.8 640.7,412.7 626.0,396.1 617.2,386.5 608.4,378.6 599.6,373.8 590.8,369.7 582.0,367.2 573.2,365.2 564.4,363.9 546.8,362.6 538.0,363.1 520.3,365.1 502.7,366.6 493.9,368.1 485.1,371.1 476.3,374.6 467.5,378.9 458.7,384.2 455.9,386.3 449.9,391.0 441.1,398.5 425.9,412.7 418.5,421.5 412.7,430.3 408.6,439.1 404.9,447.9 403.1,456.8 402.0,465.6 400.6,483.2 399.7,492.0 399.7,500.8 399.2,509.6 399.3,518.4 399.7,527.2 400.6,536.0 402.1,544.9 404.6,553.7 408.8,562.5 414.6,570.9 422.8,580.1 432.4,588.9 444.0,597.7 449.9,603.0 454.7,606.5 458.7,609.1 471.3,615.3 476.3,617.3 493.9,621.8 503.9,624.1Z"/>
<path fill="#ffea99" d="M485.5,615.3 502.7,618.9 511.5,620.3 520.3,621.1 529.1,621.5 538.0,621.1 555.6,619.1 564.4,617.7 572.0,615.3 582.0,611.8 590.8,608.1 608.4,598.3 617.2,592.1 632.7,580.1 642.2,571.3 650.6,562.5 652.5,560.3 657.5,553.7 661.3,546.9 666.6,536.0 668.9,527.2 670.6,518.4 672.7,500.8 673.0,492.0 672.8,483.2 669.5,465.6 666.1,456.8 662.2,447.9 657.6,439.1 643.7,421.6 635.2,412.7 627.7,403.9 617.2,392.4 608.4,384.3 597.0,377.5 590.8,374.5 582.0,371.6 573.2,369.5 564.4,367.8 546.8,366.8 538.0,367.2 520.3,369.2 511.5,369.8 502.7,370.9 493.9,372.8 485.1,375.5 480.5,377.5 476.3,379.6 467.5,384.2 464.0,386.3 458.7,389.8 449.9,396.6 441.3,403.9 431.8,412.7 424.2,421.5 418.3,430.3 413.7,439.1 409.8,447.9 407.7,456.8 406.2,465.6 404.1,492.0 403.6,518.4 404.1,527.2 405.2,536.0 405.8,539.1 407.1,544.9 409.7,553.7 413.9,562.5 421.0,571.3 429.2,580.1 439.5,588.9 458.7,603.6 467.5,608.2 476.3,612.4 485.5,615.3Z"/>
<path fill="#ffec9f" d="M514.1,615.3 520.3,616.1 529.1,616.8 538.0,616.6 555.6,614.5 564.4,612.9 583.1,606.5 590.8,603.2 600.7,597.7 608.4,592.9 614.4,588.9 626.5,580.1 635.9,571.3 644.5,562.5 652.5,553.1 661.6,536.0 664.3,527.2 666.1,518.4 667.4,509.6 668.4,500.8 668.8,492.0 668.3,483.2 666.7,474.4 664.4,465.6 661.3,456.8 652.5,439.4 643.7,428.3 634.9,418.7 626.0,408.2 617.2,398.6 608.4,390.3 599.6,384.6 590.8,379.7 586.0,377.5 582.0,376.1 573.2,374.1 564.4,372.6 546.8,371.5 538.0,371.7 511.5,374.1 502.7,375.5 493.9,377.5 485.1,380.2 473.3,386.3 458.7,395.7 449.9,402.2 438.3,412.7 430.6,421.5 424.2,430.3 419.3,439.1 414.6,448.7 412.5,456.8 411.1,465.6 410.1,474.4 408.8,492.0 408.5,500.8 408.6,509.6 408.4,518.4 409.0,527.2 410.3,536.0 412.4,544.9 415.2,553.7 420.2,562.5 427.2,571.3 432.2,576.5 436.1,580.1 441.1,584.3 458.7,598.0 467.5,602.8 476.3,606.9 485.1,610.0 502.7,613.9 514.1,615.3Z"/>
<path fill="#ffeea3" d="M492.7,606.5 502.7,608.5 520.3,610.7 529.1,611.4 538.0,611.3 555.6,609.5 564.4,607.9 582.0,601.8 590.8,598.1 608.4,587.5 618.8,580.1 626.0,574.1 629.0,571.3 643.7,556.5 646.1,553.7 651.6,544.9 656.0,536.0 659.3,527.2 661.6,518.4 663.0,509.6 664.0,492.0 663.3,483.2 662.1,474.4 659.2,465.6 655.8,456.8 651.4,447.9 646.2,439.1 639.2,430.3 631.2,421.5 624.0,412.7 615.8,403.9 608.4,396.7 606.4,395.1 599.6,390.5 590.8,385.5 582.0,381.5 573.2,379.0 564.4,377.6 555.6,376.9 546.8,376.5 538.0,376.5 520.3,377.6 511.5,378.6 493.9,382.5 485.1,385.2 482.9,386.3 476.3,390.3 468.8,395.1 458.7,401.8 449.9,408.6 445.3,412.7 437.5,421.5 432.2,427.8 430.4,430.3 423.4,442.3 420.6,447.9 417.9,456.8 416.1,465.6 414.8,474.4 414.1,483.2 413.2,500.8 413.6,518.4 414.3,527.2 415.5,536.0 418.0,544.9 421.5,553.7 426.6,562.5 432.2,569.6 441.1,577.9 443.6,580.1 458.7,591.7 467.5,597.0 468.9,597.7 485.1,604.5 492.7,606.5Z"/>
<path fill="#fff0a8" d="M483.8,597.7 493.9,600.9 502.7,602.9 520.3,605.0 529.1,605.6 538.0,605.7 546.8,605.1 555.6,604.0 564.4,602.2 578.3,597.7 582.0,596.3 590.8,592.3 608.4,581.7 610.7,580.1 621.6,571.3 626.0,567.2 634.9,558.5 639.5,553.7 643.7,548.2 645.8,544.9 650.3,536.0 653.6,527.2 656.0,518.4 657.8,509.6 659.0,492.0 658.1,483.2 656.5,474.4 653.8,465.6 650.0,456.8 645.4,447.9 640.0,439.1 634.9,432.7 624.4,421.5 617.2,413.2 608.4,403.8 599.6,396.9 597.1,395.1 590.8,391.6 582.0,387.6 573.2,384.5 564.4,383.1 555.6,382.1 538.0,381.7 529.1,382.1 520.3,382.8 511.5,383.7 499.5,386.3 493.9,387.8 485.1,391.1 478.4,395.1 465.0,403.9 458.7,408.4 453.1,412.7 449.9,415.9 444.8,421.5 437.6,430.3 432.2,438.3 426.8,447.9 423.7,456.8 421.7,465.6 419.6,483.2 418.8,492.0 418.6,500.8 418.7,509.6 419.2,518.4 420.2,527.2 421.5,536.0 424.0,544.9 428.1,553.7 432.2,561.2 433.1,562.5 441.9,571.3 449.9,578.1 458.7,584.9 467.5,590.2 476.3,594.5 483.8,597.7Z"/>
<path fill="#fff2ac" d="M509.6,597.7 529.1,599.4 538.0,599.7 546.8,599.2 555.6,597.9 564.4,596.0 573.2,593.3 582.0,590.0 590.8,585.9 600.8,580.1 608.4,575.3 617.2,568.1 623.4,562.5 632.3,553.7 639.0,544.9 643.7,537.8 644.6,536.0 647.6,527.2 650.3,518.4 651.9,509.6 652.9,500.8 653.7,492.0 652.8,483.2 650.5,474.4 647.8,465.6 643.7,456.0 634.9,441.1 633.5,439.1 625.6,430.3 616.9,421.5 608.4,412.4 599.6,404.6 590.8,398.4 584.5,395.1 582.0,394.0 573.2,390.8 564.4,388.7 555.6,387.7 546.8,387.7 538.0,387.2 529.1,387.4 511.5,389.3 502.7,391.3 493.9,394.1 485.1,397.7 474.7,403.9 467.5,409.4 462.6,412.7 458.7,415.8 452.9,421.5 449.9,424.8 445.3,430.3 439.3,439.1 433.7,447.9 432.2,451.2 430.2,456.8 427.9,465.6 426.9,474.4 425.5,483.2 424.5,492.0 424.5,500.8 424.3,509.6 425.2,518.4 426.7,527.2 428.6,536.0 431.3,544.9 435.4,553.7 441.7,562.5 449.9,570.4 458.7,577.4 463.0,580.1 476.3,587.5 485.1,591.4 493.9,594.5 502.7,596.9 509.6,597.7Z"/>
<path fill="#fff4b2" d="M498.6,588.9 502.7,589.9 529.1,592.3 538.0,592.7 546.8,592.1 555.6,590.7 573.2,586.5 582.0,583.0 590.8,578.9 599.6,574.0 604.0,571.3 608.4,568.0 615.0,562.5 626.0,551.8 631.6,544.9 637.1,536.0 641.2,527.2 644.3,518.4 646.6,500.8 647.0,492.0 646.6,483.2 643.7,472.9 641.2,465.6 636.9,456.8 631.7,447.9 626.0,440.0 617.7,430.3 608.4,421.3 599.6,413.1 587.4,403.9 582.0,400.9 564.4,394.7 546.8,393.7 529.1,393.8 520.3,394.5 511.5,395.4 502.7,397.7 493.9,401.4 485.1,404.9 473.7,412.7 462.6,421.5 458.7,425.2 454.1,430.3 449.9,435.9 441.9,447.9 437.9,456.8 435.3,465.6 432.2,481.3 431.0,492.0 430.6,500.8 431.0,509.6 431.8,518.4 436.1,536.0 438.9,544.9 441.1,548.9 444.1,553.7 449.9,560.4 458.7,568.5 462.5,571.3 477.3,580.1 485.1,583.8 493.9,587.6 498.6,588.9Z"/>
<path fill="#fff6b6" d="M498.1,580.1 502.7,581.1 520.3,583.9 538.0,584.6 546.8,584.1 555.6,583.0 564.4,581.6 569.4,580.1 582.0,575.6 591.2,571.3 599.6,566.0 604.6,562.5 608.4,559.1 623.0,544.9 626.0,540.7 633.8,527.2 634.9,524.1 636.4,518.4 638.0,509.6 639.2,500.8 639.5,492.0 639.2,483.2 636.6,474.4 633.6,465.6 629.2,456.8 626.0,451.4 623.5,447.9 616.4,439.1 608.4,430.6 599.6,422.5 587.1,412.7 582.0,409.1 573.2,405.6 564.4,402.6 555.6,401.6 546.8,401.1 529.1,401.3 520.3,401.9 511.5,403.0 502.7,405.0 486.4,412.7 485.1,413.5 474.6,421.5 464.8,430.3 458.7,437.1 450.5,447.9 449.9,449.0 446.4,456.8 444.0,465.6 441.1,474.7 439.3,483.2 437.8,500.8 438.7,509.6 440.0,518.4 441.1,523.0 444.4,536.0 447.9,544.9 449.9,548.0 454.7,553.7 458.7,557.4 465.3,562.5 477.8,571.3 485.1,575.2 493.9,579.0 498.1,580.1Z"/>
<path fill="#fff8bb" d="M507.7,571.3 511.5,571.9 520.3,574.2 538.0,575.5 546.8,575.0 555.6,574.2 564.4,573.0 569.6,571.3 573.2,569.9 582.0,566.0 599.6,556.2 602.5,553.7 611.2,544.9 617.8,536.0 623.5,527.2 626.0,522.4 627.6,518.4 629.4,509.6 630.8,500.8 630.8,492.0 630.1,483.2 628.2,474.4 626.0,468.8 624.5,465.6 619.9,456.8 617.2,453.0 613.0,447.9 608.4,441.7 606.0,439.1 595.8,430.3 584.5,421.5 582.0,419.6 573.2,414.8 564.4,411.9 555.6,410.1 546.8,409.7 538.0,409.5 520.3,410.1 511.5,411.3 505.4,412.7 502.7,413.6 493.9,418.6 489.1,421.5 477.4,430.3 467.5,440.3 461.1,447.9 456.1,456.8 453.5,465.6 449.9,475.0 448.2,483.2 447.0,492.0 446.4,500.8 447.4,509.6 454.7,536.0 459.1,544.9 467.5,552.7 476.3,559.2 485.1,564.7 493.9,568.0 502.7,570.3 507.7,571.3Z"/>
<path fill="#fffac1" d="M525.3,562.5 529.1,563.4 546.8,563.8 555.6,563.2 560.8,562.5 564.4,561.9 573.2,558.4 582.0,554.4 583.3,553.7 590.8,548.1 596.0,544.9 599.6,541.6 608.4,531.6 611.2,527.2 616.3,518.4 617.2,516.3 619.2,509.6 620.8,500.8 620.9,492.0 619.0,483.2 616.5,474.4 612.9,465.6 608.4,458.0 607.5,456.8 598.9,447.9 590.8,438.8 582.0,433.0 573.2,426.5 564.4,423.4 555.6,420.9 546.8,420.1 538.0,419.7 529.1,420.2 520.3,421.0 511.5,422.9 502.7,425.9 495.4,430.3 474.6,447.9 467.5,459.8 465.0,465.6 459.1,483.2 458.7,484.9 457.2,492.0 457.4,500.8 460.7,518.4 464.3,527.2 468.2,536.0 475.3,544.9 485.1,552.6 488.4,553.7 493.9,555.1 502.7,556.6 511.5,558.9 520.3,560.9 525.3,562.5Z"/>
<path fill="#fffcc5" d="M518.7,544.9 520.3,545.3 529.1,548.5 538.0,548.5 546.8,548.1 555.6,546.3 564.4,545.0 573.2,542.1 582.0,537.2 583.4,536.0 599.6,515.7 603.4,509.6 605.6,500.8 605.6,492.0 601.7,483.2 599.6,477.6 598.0,474.4 593.0,465.6 590.8,463.4 582.4,456.8 573.2,448.9 560.2,439.1 555.6,436.6 546.8,435.1 538.0,434.3 529.1,435.1 520.3,437.1 514.8,439.1 511.5,440.7 502.7,444.4 491.6,456.8 485.1,462.5 482.0,465.6 476.4,474.4 473.2,483.2 471.6,492.0 472.1,500.8 473.8,509.6 476.3,515.5 483.6,527.2 485.1,529.1 493.9,536.4 502.7,539.9 511.5,542.9 518.7,544.9Z"/>
<path fill="#fffecb" d="M535.0,527.2 538.0,527.4 538.7,527.2 546.8,522.4 559.2,518.4 564.4,515.9 570.7,509.6 567.5,500.8 564.4,489.9 560.6,483.2 555.6,479.7 549.3,474.4 546.8,471.1 538.0,467.3 532.2,465.6 529.1,464.4 526.6,465.6 520.3,467.5 509.8,474.4 502.7,479.8 500.9,483.2 496.7,492.0 494.0,500.8 500.8,509.6 502.7,511.2 511.5,516.0 520.3,521.6 529.1,526.6 535.0,527.2Z"/></g></g>
<g id="cells" stroke="#000" stroke-width="1.3"><circle cx="476.3" cy="361.8" r="3.71" fill="#1fa187"/><circle cx="469.5" cy="362.5" r="0.84" fill="#440256"/><circle cx="468.5" cy="366.3" r="3.71" fill="#1fa187"/><circle cx="459.0" cy="366.5" r="3.71" fill="#1fa187"/><circle cx="452.8" cy="370.0" r="3.71" fill="#1fa187"/><circle cx="464.5" cy="370.8" r="3.71" fill="#1fa187"/><circle cx="472.0" cy="372.3" r="3.71" fill="#1fa187"/><circle cx="477.8" cy="369.0" r="3.71" fill="#22a785"/><circle cx="458.5" cy="374.2" r="3.71" fill="#1fa187"/><circle cx="452.0" cy="377.0" r="3.71" fill="#1fa187"/><circle cx="465.5" cy="377.2" r="3.71" fill="#1fa187"/><circle cx="471.0" cy="381.0" r="2.73" fill="#22a785"/><circle cx="475.8" cy="379.0" r="2.73" fill="#22a785"/><circle cx="460.8" cy="380.8" r="1.23" fill="#1fa187"/><circle cx="467.0" cy="383.8" r="1.23" fill="#1fa187"/><circle cx="454.5" cy="383.5" r="3.71" fill="#1fa187"/><circle cx="473.5" cy="386.5" r="3.71" fill="#1fa187"/><circle cx="453.8" cy="390.5" r="3.71" fill="#1fa187"/><circle cx="460.5" cy="390.5" r="3.71" fill="#1fa187"/><circle cx="467.5" cy="390.5" r="3.71" fill="#1fa187"/><circle cx="477.5" cy="392.5" r="3.71" fill="#1fa187"/><circle cx="443.0" cy="396.2" r="3.71" fill="#297b8e"/><circle cx="450.2" cy="396.8" r="3.71" fill="#297b8e"/><circle cx="457.2" cy="396.8" r="3.71" fill="#297b8e"/><circle cx="464.5" cy="396.8" r="2.73" fill="#3dbc74"/><circle cx="439.5" cy="402.5" r="3.71" fill="#297b8e"/><circle cx="446.7" cy="402.5" r="3.71" fill="#297b8e"/><circle cx="453.7" cy="402.5" r="3.71" fill="#297b8e"/><circle cx="460.8" cy="405.8" r="3.71" fill="#3dbc74"/><circle cx="469.0" cy="402.0" r="3.71" fill="#3dbc74"/><circle cx="476.8" cy="401.8" r="3.71" fill="#453882"/><circle cx="447.7" cy="409.5" r="3.71" fill="#3c4f8a"/><circle cx="454.7" cy="409.7" r="3.71" fill="#3c4f8a"/><circle cx="460.8" cy="413.2" r="3.71" fill="#3dbc74"/><circle cx="467.7" cy="412.5" r="3.71" fill="#3dbc74"/><circle cx="473.0" cy="407.7" r="3.71" fill="#1fa187"/><circle cx="476.8" cy="413.7" r="3.71" fill="#481769"/><circle cx="444.2" cy="415.2" r="3.71" fill="#297b8e"/><circle cx="451.2" cy="416.2" r="3.71" fill="#3c4f8a"/><circle cx="457.2" cy="419.5" r="3.71" fill="#3c4f8a"/><circle cx="470.7" cy="418.7" r="3.71" fill="#1fa187"/><circle cx="477.8" cy="421.2" r="3.71" fill="#3c4f8a"/><circle cx="460.5" cy="425.5" r="3.71" fill="#3c4f8a"/><circle cx="460.8" cy="432.5" r="3.71" fill="#3c4f8a"/><circle cx="467.5" cy="431.0" r="3.71" fill="#297b8e"/><circle cx="474.5" cy="433.5" r="3.71" fill="#297b8e"/><circle cx="478.0" cy="428.0" r="3.71" fill="#3c4f8a"/><circle cx="462.0" cy="439.0" r="3.71" fill="#22a785"/><circle cx="469.0" cy="437.5" r="3.71" fill="#297b8e"/><circle cx="423.0" cy="399.2" r="3.71" fill="#1fa187"/><circle cx="418.7" cy="404.5" r="3.71" fill="#1fa187"/><circle cx="412.0" cy="406.2" r="3.71" fill="#1fa187"/><circle cx="405.2" cy="408.0" r="3.71" fill="#1fa187"/><circle cx="428.3" cy="409.2" r="3.71" fill="#1fa187"/><circle cx="422.7" cy="412.2" r="3.71" fill="#1fa187"/><circle cx="415.8" cy="412.2" r="3.71" fill="#1fa187"/><circle cx="408.0" cy="414.8" r="3.71" fill="#1fa187"/><circle cx="414.2" cy="417.3" r="1.23" fill="#1fa187"/><circle cx="402.0" cy="418.0" r="3.71" fill="#1fa187"/><circle cx="431.5" cy="414.5" r="3.71" fill="#1fa187"/><circle cx="437.7" cy="413.5" r="3.71" fill="#1fa187"/><circle cx="426.0" cy="418.0" r="3.71" fill="#1fa187"/><circle cx="433.0" cy="420.5" r="3.71" fill="#297b8e"/><circle cx="439.8" cy="420.5" r="3.71" fill="#297b8e"/><circle cx="447.0" cy="421.5" r="3.71" fill="#297b8e"/><circle cx="408.7" cy="421.5" r="3.71" fill="#1fa187"/><circle cx="400.5" cy="424.8" r="3.71" fill="#1fa187"/><circle cx="417.7" cy="424.8" r="3.71" fill="#1fa187"/><circle cx="424.8" cy="424.8" r="3.71" fill="#1fa187"/><circle cx="392.0" cy="427.5" r="3.71" fill="#1fa187"/><circle cx="411.5" cy="427.8" r="3.71" fill="#1fa187"/><circle cx="431.7" cy="427.0" r="3.71" fill="#1fa187"/><circle cx="438.5" cy="427.0" r="3.71" fill="#1fa187"/><circle cx="445.5" cy="428.0" r="3.71" fill="#1fa187"/><circle cx="452.0" cy="431.0" r="3.71" fill="#1fa187"/><circle cx="397.5" cy="431.0" r="3.71" fill="#1fa187"/><circle cx="404.8" cy="430.5" r="3.71" fill="#1fa187"/><circle cx="421.0" cy="430.5" r="3.71" fill="#1fa187"/><circle cx="436.0" cy="433.0" r="3.71" fill="#1fa187"/><circle cx="447.0" cy="435.5" r="2.73" fill="#1fa187"/><circle cx="392.5" cy="436.0" r="3.71" fill="#1fa187"/><circle cx="412.5" cy="434.5" r="3.71" fill="#1fa187"/><circle cx="405.5" cy="437.5" r="3.71" fill="#1fa187"/><circle cx="399.0" cy="439.0" r="3.71" fill="#1fa187"/><circle cx="418.0" cy="438.0" r="3.71" fill="#1fa187"/><circle cx="423.5" cy="436.5" r="3.71" fill="#1fa187"/><circle cx="430.0" cy="436.5" r="3.71" fill="#1fa187"/><circle cx="441.5" cy="439.0" r="3.71" fill="#1fa187"/><circle cx="392.5" cy="443.0" r="3.71" fill="#1fa187"/><circle cx="386.0" cy="446.5" r="3.71" fill="#1fa187"/><circle cx="386.0" cy="453.5" r="3.71" fill="#1fa187"/><circle cx="392.5" cy="450.0" r="3.71" fill="#1fa187"/><circle cx="392.5" cy="457.0" r="3.71" fill="#1fa187"/><circle cx="398.5" cy="446.5" r="3.71" fill="#1fa187"/><circle cx="399.0" cy="453.0" r="3.71" fill="#1fa187"/><circle cx="405.0" cy="444.5" r="3.71" fill="#1fa187"/><circle cx="404.5" cy="451.0" r="3.71" fill="#1fa187"/><circle cx="402.5" cy="459.0" r="3.71" fill="#1fa187"/><circle cx="411.0" cy="448.0" r="3.71" fill="#1fa187"/><circle cx="410.5" cy="455.0" r="3.71" fill="#1fa187"/><circle cx="417.5" cy="445.5" r="3.71" fill="#1fa187"/><circle cx="416.5" cy="457.0" r="3.71" fill="#1fa187"/><circle cx="421.0" cy="451.5" r="3.71" fill="#1fa187"/><circle cx="423.5" cy="458.5" r="3.71" fill="#22a785"/><circle cx="427.0" cy="448.0" r="3.71" fill="#1fa187"/><circle cx="429.5" cy="455.0" r="3.71" fill="#22a785"/><circle cx="434.0" cy="450.5" r="3.71" fill="#2d718e"/><circle cx="436.5" cy="457.5" r="3.71" fill="#22a785"/><circle cx="431.0" cy="462.0" r="3.71" fill="#22a785"/><circle cx="425.0" cy="465.5" r="3.71" fill="#22a785"/><circle cx="432.0" cy="444.0" r="3.71" fill="#1fa187"/><circle cx="439.0" cy="445.0" r="3.71" fill="#2d718e"/><circle cx="445.5" cy="446.5" r="3.71" fill="#22a785"/><circle cx="442.5" cy="453.0" r="3.71" fill="#22a785"/><circle cx="450.0" cy="454.0" r="3.71" fill="#2d718e"/><circle cx="445.5" cy="459.5" r="3.71" fill="#1fa187"/><circle cx="452.8" cy="447.5" r="3.71" fill="#7cd250"/><circle cx="459.5" cy="446.5" r="3.71" fill="#7cd250"/><circle cx="457.0" cy="453.5" r="3.71" fill="#2d718e"/><circle cx="464.0" cy="451.0" r="3.71" fill="#2d718e"/><circle cx="466.5" cy="445.0" r="3.71" fill="#1fa187"/><circle cx="471.0" cy="450.5" r="3.71" fill="#22a785"/><circle cx="473.5" cy="444.5" r="3.71" fill="#22a785"/><circle cx="478.0" cy="449.5" r="3.71" fill="#2d718e"/><circle cx="461.5" cy="458.5" r="3.71" fill="#2d718e"/><circle cx="468.0" cy="457.0" r="3.71" fill="#22a785"/><circle cx="459.0" cy="464.5" r="3.71" fill="#1fa187"/><circle cx="466.5" cy="464.0" r="3.71" fill="#1fa187"/><circle cx="477.5" cy="462.5" r="3.71" fill="#2d718e"/><circle cx="476.5" cy="469.0" r="3.71" fill="#2d718e"/><circle cx="397.0" cy="462.8" r="0.84" fill="#440256"/><circle cx="409.0" cy="462.0" r="3.71" fill="#3c4f8a"/><circle cx="415.5" cy="463.8" r="3.71" fill="#3c4f8a"/><circle cx="402.8" cy="466.5" r="3.71" fill="#3c4f8a"/><circle cx="419.5" cy="469.5" r="3.71" fill="#22a785"/><circle cx="413.5" cy="472.5" r="3.71" fill="#22a785"/><circle cx="408.0" cy="476.5" r="3.71" fill="#22a785"/><circle cx="419.0" cy="476.5" r="3.71" fill="#1fa187"/><circle cx="429.5" cy="471.0" r="3.71" fill="#1fa187"/><circle cx="436.0" cy="466.5" r="3.71" fill="#1fa187"/><circle cx="441.5" cy="471.0" r="3.71" fill="#1fa187"/><circle cx="434.8" cy="473.5" r="0.84" fill="#440256"/><circle cx="453.0" cy="470.5" r="3.71" fill="#2d718e"/><circle cx="447.5" cy="474.5" r="3.71" fill="#22a785"/><circle cx="445.0" cy="481.5" r="3.71" fill="#3dbc74"/><circle cx="433.0" cy="481.0" r="3.71" fill="#1fa187"/><circle cx="426.0" cy="482.5" r="3.71" fill="#2d718e"/><circle cx="419.0" cy="484.2" r="2.73" fill="#2d718e"/><circle cx="406.5" cy="484.5" r="3.71" fill="#2d718e"/><circle cx="413.0" cy="487.5" r="3.71" fill="#2d718e"/><circle cx="396.8" cy="489.0" r="3.71" fill="#2d718e"/><circle cx="407.0" cy="491.5" r="3.71" fill="#2d718e"/><circle cx="401.0" cy="495.5" r="3.71" fill="#2d718e"/><circle cx="439.0" cy="485.0" r="3.71" fill="#1fa187"/><circle cx="446.0" cy="488.0" r="3.71" fill="#22a785"/><circle cx="451.5" cy="484.0" r="3.71" fill="#2d718e"/><circle cx="458.5" cy="484.0" r="3.71" fill="#2d718e"/><circle cx="465.5" cy="484.0" r="3.71" fill="#22a785"/><circle cx="472.5" cy="484.0" r="3.71" fill="#1fa187"/><circle cx="469.0" cy="477.5" r="3.71" fill="#1fa187"/><circle cx="476.5" cy="477.5" r="3.71" fill="#1fa187"/><circle cx="423.0" cy="489.0" r="3.71" fill="#2d718e"/><circle cx="430.0" cy="492.0" r="3.71" fill="#2d718e"/><circle cx="417.0" cy="493.0" r="3.71" fill="#2d718e"/><circle cx="423.5" cy="496.0" r="3.71" fill="#2d718e"/><circle cx="411.5" cy="497.5" r="3.71" fill="#2d718e"/><circle cx="417.5" cy="500.0" r="0.84" fill="#440256"/><circle cx="440.0" cy="492.0" r="3.71" fill="#1fa187"/><circle cx="455.0" cy="490.0" r="3.71" fill="#2d718e"/><circle cx="462.0" cy="490.0" r="3.71" fill="#2d718e"/><circle cx="469.0" cy="490.0" r="3.71" fill="#1fa187"/><circle cx="476.0" cy="490.0" r="3.71" fill="#22a785"/><circle cx="435.0" cy="497.0" r="3.71" fill="#1fa187"/><circle cx="445.0" cy="496.5" r="3.71" fill="#2d718e"/><circle cx="452.0" cy="496.5" r="3.71" fill="#22a785"/><circle cx="459.0" cy="496.5" r="3.71" fill="#1fa187"/><circle cx="466.0" cy="496.3" r="3.71" fill="#481769"/><circle cx="408.0" cy="503.5" r="3.71" fill="#2d718e"/><circle cx="415.0" cy="504.5" r="3.71" fill="#2d718e"/><circle cx="422.0" cy="506.0" r="3.71" fill="#3c4f8a"/><circle cx="399.5" cy="506.5" r="3.71" fill="#3c4f8a"/><circle cx="435.0" cy="503.5" r="3.71" fill="#1fa187"/><circle cx="442.0" cy="503.0" r="3.71" fill="#22a785"/><circle cx="449.0" cy="503.0" r="3.71" fill="#22a785"/><circle cx="455.8" cy="503.0" r="1.23" fill="#1fa187"/><circle cx="468.5" cy="502.5" r="3.71" fill="#1fa187"/><circle cx="475.8" cy="503.0" r="3.71" fill="#22a785"/><circle cx="431.5" cy="509.0" r="3.71" fill="#1fa187"/><circle cx="438.5" cy="509.5" r="3.71" fill="#22a785"/><circle cx="445.5" cy="509.5" r="3.71" fill="#22a785"/><circle cx="452.8" cy="509.0" r="3.71" fill="#1fa187"/><circle cx="464.5" cy="508.5" r="3.71" fill="#22a785"/><circle cx="471.5" cy="509.5" r="3.71" fill="#2d718e"/><circle cx="478.0" cy="510.0" r="3.71" fill="#22a785"/><circle cx="394.8" cy="511.5" r="3.71" fill="#2d718e"/><circle cx="414.5" cy="511.5" r="3.71" fill="#453882"/><circle cx="421.8" cy="513.0" r="3.71" fill="#453882"/><circle cx="410.0" cy="517.0" r="3.71" fill="#453882"/><circle cx="435.0" cy="515.0" r="3.71" fill="#1fa187"/><circle cx="442.2" cy="515.5" r="3.71" fill="#453882"/><circle cx="456.0" cy="515.5" r="3.71" fill="#1fa187"/><circle cx="468.0" cy="515.0" r="3.71" fill="#1fa187"/><circle cx="395.0" cy="518.5" r="3.71" fill="#2d718e"/><circle cx="417.0" cy="518.5" r="3.71" fill="#1fa187"/><circle cx="423.5" cy="520.0" r="3.71" fill="#3c4f8a"/><circle cx="430.5" cy="519.5" r="3.71" fill="#2d718e"/><circle cx="402.0" cy="521.0" r="3.71" fill="#2d718e"/><circle cx="408.5" cy="524.0" r="3.71" fill="#2d718e"/><circle cx="462.0" cy="519.0" r="3.71" fill="#1fa187"/><circle cx="473.5" cy="519.5" r="3.71" fill="#1fa187"/><circle cx="419.0" cy="525.5" r="3.71" fill="#2d718e"/><circle cx="425.5" cy="526.0" r="3.71" fill="#1fa187"/><circle cx="432.0" cy="526.5" r="2.73" fill="#1fa187"/><circle cx="444.0" cy="525.5" r="3.71" fill="#2d718e"/><circle cx="457.0" cy="524.5" r="3.71" fill="#1fa187"/><circle cx="463.5" cy="525.5" r="2.73" fill="#1fa187"/><circle cx="469.5" cy="524.5" r="2.73" fill="#1fa187"/><circle cx="475.8" cy="526.5" r="3.71" fill="#453882"/><circle cx="396.0" cy="527.5" r="3.71" fill="#1fa187"/><circle cx="403.0" cy="528.0" r="3.71" fill="#1fa187"/><circle cx="435.5" cy="530.0" r="2.73" fill="#1fa187"/><circle cx="421.5" cy="532.0" r="3.71" fill="#1fa187"/><circle cx="445.0" cy="532.5" r="3.71" fill="#2d718e"/><circle cx="451.8" cy="534.0" r="3.71" fill="#3c4f8a"/><circle cx="458.5" cy="532.0" r="3.71" fill="#453882"/><circle cx="472.5" cy="535.0" r="0.84" fill="#440256"/><circle cx="385.0" cy="535.5" r="3.71" fill="#1fa187"/><circle cx="392.0" cy="534.5" r="3.71" fill="#1fa187"/><circle cx="399.0" cy="534.5" r="3.71" fill="#1fa187"/><circle cx="411.0" cy="536.0" r="3.71" fill="#1fa187"/><circle cx="439.0" cy="537.5" r="3.71" fill="#1fa187"/><circle cx="464.0" cy="536.0" r="3.71" fill="#2d718e"/><circle cx="457.0" cy="538.5" r="3.71" fill="#3c4f8a"/><circle cx="388.5" cy="541.0" r="3.71" fill="#1fa187"/><circle cx="404.5" cy="538.5" r="3.71" fill="#1fa187"/><circle cx="417.5" cy="540.0" r="3.71" fill="#1fa187"/><circle cx="424.0" cy="540.0" r="3.71" fill="#1fa187"/><circle cx="430.5" cy="541.0" r="3.71" fill="#1fa187"/><circle cx="477.5" cy="539.0" r="3.71" fill="#3c4f8a"/><circle cx="450.0" cy="541.0" r="3.71" fill="#1fa187"/><circle cx="443.5" cy="543.0" r="3.71" fill="#3c4f8a"/><circle cx="466.0" cy="542.5" r="3.71" fill="#2d718e"/><circle cx="472.0" cy="541.0" r="2.73" fill="#2d718e"/><circle cx="381.5" cy="544.5" r="3.71" fill="#1fa187"/><circle cx="395.0" cy="544.0" r="3.71" fill="#1fa187"/><circle cx="401.0" cy="544.0" r="3.71" fill="#1fa187"/><circle cx="408.0" cy="545.0" r="3.71" fill="#1fa187"/><circle cx="414.0" cy="546.0" r="3.71" fill="#1fa187"/><circle cx="421.0" cy="546.0" r="3.71" fill="#1fa187"/><circle cx="427.5" cy="547.0" r="3.71" fill="#1fa187"/><circle cx="437.0" cy="544.0" r="3.71" fill="#1fa187"/><circle cx="455.0" cy="546.0" r="3.71" fill="#2d718e"/><circle cx="462.0" cy="547.0" r="3.71" fill="#1fa187"/><circle cx="469.0" cy="547.5" r="3.71" fill="#1fa187"/><circle cx="476.5" cy="546.0" r="3.71" fill="#2d718e"/><circle cx="378.0" cy="551.0" r="3.71" fill="#1fa187"/><circle cx="388.0" cy="549.5" r="3.71" fill="#1fa187"/><circle cx="397.5" cy="550.5" r="3.71" fill="#1fa187"/><circle cx="405.5" cy="550.0" r="3.71" fill="#1fa187"/><circle cx="411.5" cy="552.0" r="3.71" fill="#1fa187"/><circle cx="418.0" cy="552.0" r="3.71" fill="#1fa187"/><circle cx="425.5" cy="552.5" r="3.71" fill="#1fa187"/><circle cx="433.0" cy="549.5" r="3.71" fill="#1fa187"/><circle cx="441.5" cy="549.5" r="3.71" fill="#1fa187"/><circle cx="448.0" cy="548.0" r="3.71" fill="#1fa187"/><circle cx="435.0" cy="553.0" r="3.71" fill="#453882"/><circle cx="472.5" cy="552.5" r="3.71" fill="#2d718e"/><circle cx="459.5" cy="553.0" r="3.71" fill="#1fa187"/><circle cx="384.5" cy="556.0" r="3.71" fill="#1fa187"/><circle cx="391.5" cy="555.0" r="3.71" fill="#1fa187"/><circle cx="403.0" cy="555.0" r="3.71" fill="#1fa187"/><circle cx="398.0" cy="559.5" r="3.71" fill="#1fa187"/><circle cx="389.0" cy="561.0" r="3.71" fill="#1fa187"/><circle cx="415.5" cy="559.0" r="3.71" fill="#1fa187"/><circle cx="422.5" cy="559.5" r="3.71" fill="#453882"/><circle cx="430.5" cy="558.5" r="3.71" fill="#453882"/><circle cx="437.7" cy="560.0" r="3.71" fill="#22a785"/><circle cx="444.5" cy="561.0" r="3.71" fill="#1fa187"/><circle cx="451.5" cy="559.5" r="3.71" fill="#3c4f8a"/><circle cx="458.0" cy="560.5" r="3.71" fill="#1fa187"/><circle cx="446.5" cy="555.0" r="3.71" fill="#1fa187"/><circle cx="453.0" cy="554.5" r="3.71" fill="#2d718e"/><circle cx="467.0" cy="557.0" r="3.71" fill="#3c4f8a"/><circle cx="473.5" cy="560.0" r="3.71" fill="#2d718e"/><circle cx="394.5" cy="565.5" r="3.71" fill="#1fa187"/><circle cx="403.5" cy="564.0" r="3.71" fill="#1fa187"/><circle cx="411.0" cy="564.5" r="3.71" fill="#22a785"/><circle cx="418.0" cy="565.5" r="3.71" fill="#22a785"/><circle cx="429.0" cy="565.5" r="3.71" fill="#453882"/><circle cx="436.0" cy="566.5" r="3.71" fill="#453882"/><circle cx="446.0" cy="567.5" r="3.71" fill="#1fa187"/><circle cx="453.0" cy="569.5" r="3.71" fill="#1fa187"/><circle cx="460.0" cy="568.0" r="3.71" fill="#1fa187"/><circle cx="389.5" cy="570.5" r="3.71" fill="#1fa187"/><circle cx="400.0" cy="570.5" r="3.71" fill="#1fa187"/><circle cx="407.0" cy="571.0" r="3.71" fill="#1fa187"/><circle cx="414.0" cy="571.0" r="3.71" fill="#1fa187"/><circle cx="421.5" cy="571.8" r="3.71" fill="#22a785"/><circle cx="428.0" cy="572.0" r="3.71" fill="#22a785"/><circle cx="434.8" cy="572.5" r="3.71" fill="#2d718e"/><circle cx="442.0" cy="573.5" r="3.71" fill="#1fa187"/><circle cx="469.0" cy="571.0" r="3.71" fill="#1fa187"/><circle cx="462.5" cy="574.5" r="3.71" fill="#1fa187"/><circle cx="475.0" cy="575.5" r="3.71" fill="#1fa187"/><circle cx="456.0" cy="576.0" r="3.71" fill="#1fa187"/><circle cx="388.0" cy="577.5" r="3.71" fill="#1fa187"/><circle cx="394.8" cy="575.5" r="3.71" fill="#1fa187"/><circle cx="403.0" cy="576.5" r="3.71" fill="#1fa187"/><circle cx="410.0" cy="577.5" r="3.71" fill="#1fa187"/><circle cx="417.0" cy="578.0" r="3.71" fill="#1fa187"/><circle cx="424.0" cy="578.0" r="3.71" fill="#22a785"/><circle cx="431.0" cy="578.5" r="3.71" fill="#1fa187"/><circle cx="438.0" cy="579.5" r="3.71" fill="#3c4f8a"/><circle cx="444.5" cy="580.5" r="3.71" fill="#3c4f8a"/><circle cx="468.0" cy="578.5" r="3.71" fill="#1fa187"/><circle cx="393.0" cy="582.5" r="3.71" fill="#1fa187"/><circle cx="405.8" cy="583.5" r="3.71" fill="#1fa187"/><circle cx="398.8" cy="586.0" r="1.23" fill="#1fa187"/><circle cx="427.0" cy="584.5" r="3.71" fill="#1fa187"/><circle cx="434.0" cy="585.5" r="3.71" fill="#3c4f8a"/><circle cx="451.0" cy="582.5" r="3.71" fill="#1fa187"/><circle cx="457.5" cy="582.5" r="2.73" fill="#1fa187"/><circle cx="463.0" cy="583.5" r="2.73" fill="#1fa187"/><circle cx="469.0" cy="586.0" r="3.71" fill="#1fa187"/><circle cx="474.5" cy="583.0" r="3.71" fill="#2d718e"/><circle cx="436.0" cy="592.0" r="3.71" fill="#1fa187"/><circle cx="443.0" cy="590.5" r="3.71" fill="#2d718e"/><circle cx="450.0" cy="592.5" r="3.71" fill="#1fa187"/><circle cx="455.5" cy="588.5" r="3.71" fill="#1fa187"/><circle cx="462.0" cy="590.0" r="3.71" fill="#1fa187"/><circle cx="469.0" cy="593.5" r="3.71" fill="#2d718e"/><circle cx="476.0" cy="592.5" r="3.71" fill="#2d718e"/><circle cx="456.5" cy="595.5" r="3.71" fill="#1fa187"/><circle cx="463.5" cy="597.5" r="3.71" fill="#22a785"/><circle cx="473.0" cy="599.0" r="3.71" fill="#1fa187"/><circle cx="451.0" cy="602.5" r="3.71" fill="#1fa187"/><circle cx="458.0" cy="602.0" r="3.71" fill="#1fa187"/><circle cx="478.0" cy="605.0" r="3.71" fill="#1fa187"/><circle cx="448.0" cy="608.5" r="3.71" fill="#1fa187"/><circle cx="455.0" cy="608.5" r="3.71" fill="#1fa187"/><circle cx="461.5" cy="611.5" r="3.71" fill="#2d718e"/><circle cx="468.5" cy="609.5" r="3.71" fill="#3c4f8a"/><circle cx="475.5" cy="611.5" r="3.71" fill="#3c4f8a"/><circle cx="440.8" cy="613.0" r="3.71" fill="#1fa187"/><circle cx="447.5" cy="615.5" r="3.71" fill="#1fa187"/><circle cx="459.5" cy="618.0" r="3.71" fill="#1fa187"/><circle cx="466.0" cy="616.5" r="3.71" fill="#3c4f8a"/><circle cx="473.0" cy="618.0" r="3.71" fill="#3c4f8a"/><circle cx="435.2" cy="618.0" r="3.71" fill="#1fa187"/><circle cx="442.2" cy="620.0" r="3.71" fill="#1fa187"/><circle cx="453.0" cy="620.0" r="3.71" fill="#1fa187"/><circle cx="447.5" cy="625.0" r="3.71" fill="#1fa187"/><circle cx="454.0" cy="627.5" r="3.71" fill="#1fa187"/><circle cx="461.0" cy="625.0" r="3.71" fill="#1fa187"/><circle cx="467.5" cy="622.5" r="3.71" fill="#3c4f8a"/><circle cx="474.5" cy="625.5" r="3.71" fill="#3c4f8a"/><circle cx="573.8" cy="346.7" r="3.71" fill="#20938c"/><circle cx="580.0" cy="350.5" r="3.71" fill="#20938c"/><circle cx="490.7" cy="354.8" r="3.71" fill="#2d718e"/><circle cx="543.3" cy="354.5" r="3.71" fill="#22a785"/><circle cx="585.0" cy="355.0" r="3.71" fill="#20938c"/><circle cx="577.5" cy="357.0" r="3.71" fill="#20938c"/><circle cx="536.8" cy="357.5" r="3.71" fill="#22a785"/><circle cx="549.3" cy="358.5" r="3.71" fill="#22a785"/><circle cx="543.0" cy="361.8" r="3.71" fill="#22a785"/><circle cx="554.7" cy="363.0" r="3.71" fill="#22a785"/><circle cx="489.8" cy="361.5" r="3.71" fill="#2d718e"/><circle cx="496.8" cy="363.5" r="3.71" fill="#2d718e"/><circle cx="483.2" cy="364.0" r="3.71" fill="#22a785"/><circle cx="503.3" cy="365.8" r="3.71" fill="#22a785"/><circle cx="580.0" cy="363.0" r="2.73" fill="#20938c"/><circle cx="585.5" cy="361.5" r="3.71" fill="#20938c"/><circle cx="529.0" cy="365.5" r="3.71" fill="#3c4f8a"/><circle cx="535.5" cy="368.5" r="3.71" fill="#2d718e"/><circle cx="548.5" cy="365.8" r="3.71" fill="#22a785"/><circle cx="561.0" cy="366.5" r="3.71" fill="#2d718e"/><circle cx="567.8" cy="367.5" r="3.71" fill="#3c4f8a"/><circle cx="574.5" cy="368.0" r="3.71" fill="#20938c"/><circle cx="583.0" cy="369.0" r="2.73" fill="#20938c"/><circle cx="588.5" cy="367.5" r="3.71" fill="#20938c"/><circle cx="489.5" cy="368.8" r="3.71" fill="#22a785"/><circle cx="496.2" cy="369.5" r="3.71" fill="#22a785"/><circle cx="554.7" cy="370.0" r="3.71" fill="#22a785"/><circle cx="510.5" cy="371.5" r="3.71" fill="#2d718e"/><circle cx="503.5" cy="372.5" r="3.71" fill="#2d718e"/><circle cx="548.2" cy="372.0" r="3.71" fill="#22a785"/><circle cx="541.5" cy="372.0" r="3.71" fill="#2d718e"/><circle cx="563.8" cy="373.0" r="3.71" fill="#3c4f8a"/><circle cx="575.5" cy="374.0" r="3.71" fill="#2d718e"/><circle cx="582.0" cy="374.5" r="3.71" fill="#20938c"/><circle cx="588.5" cy="374.0" r="3.71" fill="#20938c"/><circle cx="520.8" cy="375.0" r="3.71" fill="#2d718e"/><circle cx="532.5" cy="375.0" r="3.71" fill="#2d718e"/><circle cx="481.8" cy="375.5" r="3.71" fill="#22a785"/><circle cx="488.7" cy="375.5" r="3.71" fill="#22a785"/><circle cx="495.5" cy="375.8" r="3.71" fill="#22a785"/><circle cx="539.0" cy="379.0" r="3.71" fill="#2d718e"/><circle cx="500.5" cy="379.2" r="3.71" fill="#2d718e"/><circle cx="507.5" cy="378.5" r="3.71" fill="#2d718e"/><circle cx="514.5" cy="378.5" r="3.71" fill="#2d718e"/><circle cx="524.0" cy="381.5" r="3.71" fill="#2d718e"/><circle cx="531.0" cy="382.0" r="3.71" fill="#2d718e"/><circle cx="548.0" cy="379.0" r="3.71" fill="#2d718e"/><circle cx="555.8" cy="379.0" r="3.71" fill="#3dbc74"/><circle cx="562.5" cy="380.0" r="3.71" fill="#3c4f8a"/><circle cx="569.5" cy="377.5" r="3.71" fill="#3c4f8a"/><circle cx="578.5" cy="381.0" r="3.71" fill="#3c4f8a"/><circle cx="585.5" cy="381.5" r="3.71" fill="#20938c"/><circle cx="572.5" cy="383.5" r="3.71" fill="#3c4f8a"/><circle cx="481.0" cy="382.5" r="3.71" fill="#22a785"/><circle cx="487.5" cy="382.5" r="3.71" fill="#22a785"/><circle cx="493.8" cy="382.5" r="3.71" fill="#2d718e"/><circle cx="501.8" cy="385.8" r="3.71" fill="#22a785"/><circle cx="508.7" cy="385.2" r="3.71" fill="#22a785"/><circle cx="517.5" cy="384.5" r="3.71" fill="#2d718e"/><circle cx="528.0" cy="388.0" r="3.71" fill="#2d718e"/><circle cx="535.0" cy="388.0" r="3.71" fill="#2d718e"/><circle cx="541.8" cy="385.2" r="3.71" fill="#2d718e"/><circle cx="552.5" cy="385.5" r="3.71" fill="#3dbc74"/><circle cx="559.2" cy="386.0" r="3.71" fill="#3dbc74"/><circle cx="566.0" cy="386.5" r="3.71" fill="#3dbc74"/><circle cx="582.0" cy="387.5" r="3.71" fill="#20938c"/><circle cx="484.0" cy="389.0" r="3.71" fill="#22a785"/><circle cx="495.5" cy="389.2" r="3.71" fill="#22a785"/><circle cx="505.8" cy="391.5" r="3.71" fill="#22a785"/><circle cx="512.8" cy="390.5" r="3.71" fill="#3c4f8a"/><circle cx="520.0" cy="391.0" r="3.71" fill="#3c4f8a"/><circle cx="571.5" cy="390.5" r="3.71" fill="#3c4f8a"/><circle cx="542.5" cy="392.0" r="3.71" fill="#2d718e"/><circle cx="548.7" cy="390.8" r="3.71" fill="#2d718e"/><circle cx="555.5" cy="392.0" r="3.71" fill="#3dbc74"/><circle cx="562.2" cy="392.0" r="3.71" fill="#2d718e"/><circle cx="532.0" cy="393.5" r="3.71" fill="#2d718e"/><circle cx="582.0" cy="394.0" r="3.71" fill="#20938c"/><circle cx="488.5" cy="394.5" r="3.71" fill="#22a785"/><circle cx="495.5" cy="396.0" r="3.71" fill="#22a785"/><circle cx="502.5" cy="397.5" r="3.71" fill="#22a785"/><circle cx="509.0" cy="397.0" r="3.71" fill="#3c4f8a"/><circle cx="515.5" cy="397.0" r="3.71" fill="#3c4f8a"/><circle cx="522.0" cy="397.0" r="2.73" fill="#20938c"/><circle cx="527.5" cy="398.0" r="2.73" fill="#20938c"/><circle cx="536.5" cy="399.0" r="3.71" fill="#453882"/><circle cx="568.0" cy="397.0" r="3.71" fill="#3c4f8a"/><circle cx="575.0" cy="397.0" r="3.71" fill="#3c4f8a"/><circle cx="561.5" cy="399.0" r="3.71" fill="#2d718e"/><circle cx="587.5" cy="398.5" r="3.71" fill="#22a785"/><circle cx="482.0" cy="397.5" r="3.71" fill="#22a785"/><circle cx="580.0" cy="400.5" r="3.71" fill="#2d718e"/><circle cx="485.5" cy="403.5" r="3.71" fill="#3c4f8a"/><circle cx="498.7" cy="404.0" r="3.71" fill="#2d718e"/><circle cx="505.8" cy="403.5" r="3.71" fill="#2d718e"/><circle cx="512.7" cy="403.5" r="3.71" fill="#2d718e"/><circle cx="519.8" cy="403.5" r="3.71" fill="#20938c"/><circle cx="531.0" cy="403.5" r="3.71" fill="#453882"/><circle cx="547.8" cy="403.0" r="3.71" fill="#2d718e"/><circle cx="554.7" cy="401.5" r="3.71" fill="#3dbc74"/><circle cx="567.0" cy="403.5" r="3.71" fill="#2d718e"/><circle cx="574.0" cy="403.5" r="3.71" fill="#2d718e"/><circle cx="586.0" cy="405.5" r="3.71" fill="#22a785"/><circle cx="560.2" cy="406.0" r="3.71" fill="#2d718e"/><circle cx="579.0" cy="408.0" r="3.71" fill="#2d718e"/><circle cx="480.8" cy="408.0" r="3.71" fill="#2d718e"/><circle cx="486.5" cy="410.5" r="3.71" fill="#2d718e"/><circle cx="502.5" cy="410.0" r="3.71" fill="#2d718e"/><circle cx="509.5" cy="409.5" r="3.71" fill="#2d718e"/><circle cx="516.5" cy="409.5" r="3.71" fill="#20938c"/><circle cx="538.0" cy="411.5" r="3.71" fill="#453882"/><circle cx="545.0" cy="413.0" r="3.71" fill="#481769"/><circle cx="558.7" cy="413.0" r="3.71" fill="#453882"/><circle cx="565.5" cy="410.5" r="3.71" fill="#2d718e"/><circle cx="572.5" cy="410.5" r="3.71" fill="#2d718e"/><circle cx="584.5" cy="412.5" r="3.71" fill="#2d718e"/><circle cx="493.0" cy="413.0" r="3.71" fill="#2d718e"/><circle cx="551.8" cy="415.0" r="3.71" fill="#3c4f8a"/><circle cx="520.5" cy="415.0" r="3.71" fill="#453882"/><circle cx="527.5" cy="414.5" r="3.71" fill="#453882"/><circle cx="513.0" cy="415.5" r="3.71" fill="#20938c"/><circle cx="499.5" cy="416.0" r="3.71" fill="#2d718e"/><circle cx="506.5" cy="416.0" r="3.71" fill="#2d718e"/><circle cx="483.0" cy="416.5" r="3.71" fill="#2d718e"/><circle cx="534.0" cy="417.0" r="3.71" fill="#2d718e"/><circle cx="564.0" cy="418.0" r="3.71" fill="#453882"/><circle cx="571.0" cy="417.5" r="3.71" fill="#2d718e"/><circle cx="578.0" cy="415.0" r="3.71" fill="#2d718e"/><circle cx="489.5" cy="420.0" r="3.71" fill="#2d718e"/><circle cx="557.0" cy="420.5" r="3.71" fill="#20938c"/><circle cx="583.0" cy="419.0" r="3.71" fill="#2d718e"/><circle cx="496.0" cy="422.5" r="3.71" fill="#3c4f8a"/><circle cx="503.0" cy="422.0" r="3.71" fill="#3c4f8a"/><circle cx="510.0" cy="421.5" r="3.71" fill="#3c4f8a"/><circle cx="517.0" cy="421.5" r="3.71" fill="#2d718e"/><circle cx="530.7" cy="423.0" r="3.71" fill="#3c4f8a"/><circle cx="539.5" cy="422.0" r="3.71" fill="#20938c"/><circle cx="550.0" cy="422.0" r="3.71" fill="#3c4f8a"/><circle cx="576.5" cy="421.5" r="3.71" fill="#20938c"/><circle cx="484.0" cy="424.0" r="3.71" fill="#3c4f8a"/><circle cx="570.0" cy="424.5" r="3.71" fill="#20938c"/><circle cx="588.5" cy="424.0" r="3.71" fill="#22a785"/><circle cx="555.0" cy="426.5" r="3.71" fill="#3c4f8a"/><circle cx="490.8" cy="426.5" r="3.71" fill="#2d718e"/><circle cx="582.0" cy="426.5" r="3.71" fill="#20938c"/><circle cx="541.0" cy="429.0" r="3.71" fill="#20938c"/><circle cx="499.8" cy="428.0" r="3.71" fill="#20938c"/><circle cx="512.5" cy="428.0" r="3.71" fill="#2d718e"/><circle cx="563.5" cy="428.0" r="3.71" fill="#20938c"/><circle cx="534.0" cy="430.0" r="3.71" fill="#20938c"/><circle cx="519.0" cy="431.0" r="3.71" fill="#2d718e"/><circle cx="506.0" cy="431.0" r="3.71" fill="#20938c"/><circle cx="485.0" cy="431.0" r="3.71" fill="#3c4f8a"/><circle cx="570.0" cy="431.0" r="3.71" fill="#20938c"/><circle cx="576.5" cy="433.5" r="3.71" fill="#20938c"/><circle cx="589.0" cy="431.0" r="3.71" fill="#2d718e"/><circle cx="559.0" cy="433.0" r="3.71" fill="#2d718e"/><circle cx="552.5" cy="434.0" r="3.71" fill="#2d718e"/><circle cx="546.0" cy="434.5" r="3.71" fill="#2d718e"/><circle cx="525.0" cy="434.5" r="3.71" fill="#3c4f8a"/><circle cx="512.5" cy="434.5" r="3.71" fill="#20938c"/><circle cx="500.5" cy="435.0" r="3.71" fill="#2d718e"/><circle cx="481.0" cy="436.5" r="3.71" fill="#2d718e"/><circle cx="494.0" cy="438.0" r="3.71" fill="#2d718e"/><circle cx="506.8" cy="438.5" r="3.71" fill="#481769"/><circle cx="518.8" cy="438.5" r="3.71" fill="#7cd250"/><circle cx="531.0" cy="436.5" r="3.71" fill="#20938c"/><circle cx="538.0" cy="436.5" r="3.71" fill="#2d718e"/><circle cx="563.0" cy="438.0" r="3.71" fill="#2d718e"/><circle cx="556.0" cy="439.0" r="3.71" fill="#2d718e"/><circle cx="569.5" cy="438.0" r="3.71" fill="#20938c"/><circle cx="581.0" cy="439.0" r="3.71" fill="#20938c"/><circle cx="587.5" cy="437.5" r="3.71" fill="#20938c"/><circle cx="543.5" cy="439.5" r="3.71" fill="#2d718e"/><circle cx="486.8" cy="439.8" r="0.84" fill="#440256"/><circle cx="480.5" cy="444.0" r="3.71" fill="#2d718e"/><circle cx="491.0" cy="445.5" r="3.71" fill="#2d718e"/><circle cx="500.5" cy="443.0" r="3.71" fill="#20938c"/><circle cx="507.0" cy="445.5" r="3.71" fill="#3c4f8a"/><circle cx="526.0" cy="447.0" r="3.71" fill="#3c4f8a"/><circle cx="533.5" cy="448.0" r="3.71" fill="#2d718e"/><circle cx="538.0" cy="454.0" r="3.71" fill="#2d718e"/><circle cx="528.5" cy="454.0" r="3.71" fill="#3dbc74"/><circle cx="525.8" cy="460.5" r="3.71" fill="#3dbc74"/><circle cx="533.5" cy="459.5" r="3.71" fill="#3dbc74"/><circle cx="553.5" cy="445.5" r="3.71" fill="#3c4f8a"/><circle cx="558.0" cy="451.0" r="3.71" fill="#2d718e"/><circle cx="564.5" cy="450.7" r="0.84" fill="#440256"/><circle cx="585.5" cy="444.5" r="3.71" fill="#22a785"/><circle cx="582.5" cy="451.0" r="3.71" fill="#2d718e"/><circle cx="575.8" cy="456.5" r="3.71" fill="#2d718e"/><circle cx="513.2" cy="455.5" r="3.71" fill="#453882"/><circle cx="516.0" cy="462.0" r="3.71" fill="#453882"/><circle cx="509.0" cy="465.0" r="3.71" fill="#3c4f8a"/><circle cx="505.5" cy="470.5" r="3.71" fill="#20938c"/><circle cx="498.5" cy="470.0" r="3.71" fill="#2d718e"/><circle cx="492.8" cy="465.5" r="3.71" fill="#2d718e"/><circle cx="488.8" cy="471.5" r="3.71" fill="#2d718e"/><circle cx="482.8" cy="468.0" r="3.71" fill="#2d718e"/><circle cx="482.8" cy="475.0" r="3.71" fill="#2d718e"/><circle cx="546.8" cy="463.0" r="3.71" fill="#20938c"/><circle cx="550.0" cy="469.5" r="3.71" fill="#2d718e"/><circle cx="566.8" cy="470.0" r="3.71" fill="#20938c"/><circle cx="566.8" cy="482.2" r="3.71" fill="#3c4f8a"/><circle cx="587.5" cy="465.5" r="3.71" fill="#22a785"/><circle cx="583.0" cy="470.5" r="3.71" fill="#20938c"/><circle cx="580.5" cy="477.0" r="3.71" fill="#2d718e"/><circle cx="586.0" cy="482.5" r="3.71" fill="#20938c"/><circle cx="578.8" cy="484.2" r="3.71" fill="#481769"/><circle cx="533.0" cy="472.0" r="3.71" fill="#3c4f8a"/><circle cx="529.0" cy="477.8" r="3.71" fill="#22a785"/><circle cx="521.8" cy="479.8" r="3.71" fill="#2d718e"/><circle cx="509.5" cy="482.2" r="3.71" fill="#481769"/><circle cx="504.0" cy="486.5" r="3.71" fill="#2d718e"/><circle cx="510.0" cy="489.5" r="3.71" fill="#2d718e"/><circle cx="516.8" cy="491.5" r="3.71" fill="#3c4f8a"/><circle cx="523.8" cy="491.3" r="3.71" fill="#481769"/><circle cx="487.0" cy="484.5" r="3.71" fill="#3dbc74"/><circle cx="480.5" cy="484.0" r="3.71" fill="#20938c"/><circle cx="483.5" cy="490.5" r="3.71" fill="#3dbc74"/><circle cx="491.5" cy="490.5" r="3.71" fill="#453882"/><circle cx="498.5" cy="491.0" r="3.71" fill="#22a785"/><circle cx="501.5" cy="497.5" r="3.71" fill="#3dbc74"/><circle cx="487.5" cy="496.5" r="3.71" fill="#2d718e"/><circle cx="494.5" cy="496.5" r="3.71" fill="#2d718e"/><circle cx="490.2" cy="502.5" r="3.71" fill="#2d718e"/><circle cx="497.5" cy="503.0" r="3.71" fill="#2d718e"/><circle cx="516.8" cy="498.5" r="3.71" fill="#2d718e"/><circle cx="519.5" cy="505.5" r="3.71" fill="#20938c"/><circle cx="537.5" cy="492.5" r="3.71" fill="#20938c"/><circle cx="544.5" cy="495.0" r="3.71" fill="#2d718e"/><circle cx="533.0" cy="494.8" r="1.23" fill="#20938c"/><circle cx="535.2" cy="499.0" r="3.71" fill="#2d718e"/><circle cx="541.8" cy="501.5" r="3.71" fill="#22a785"/><circle cx="533.0" cy="505.5" r="3.71" fill="#2d718e"/><circle cx="554.0" cy="494.5" r="3.71" fill="#2d718e"/><circle cx="558.7" cy="500.5" r="3.71" fill="#3c4f8a"/><circle cx="545.0" cy="506.5" r="1.23" fill="#453882"/><circle cx="547.0" cy="509.5" r="1.23" fill="#3c4f8a"/><circle cx="549.3" cy="512.0" r="1.23" fill="#22a785"/><circle cx="567.0" cy="506.0" r="3.71" fill="#2d718e"/><circle cx="563.8" cy="512.2" r="3.71" fill="#453882"/><circle cx="570.5" cy="512.2" r="3.71" fill="#453882"/><circle cx="577.5" cy="511.5" r="3.71" fill="#2d718e"/><circle cx="582.0" cy="506.0" r="3.71" fill="#2d718e"/><circle cx="587.0" cy="501.0" r="3.71" fill="#3c4f8a"/><circle cx="589.0" cy="507.0" r="3.71" fill="#3c4f8a"/><circle cx="553.2" cy="515.5" r="3.71" fill="#2d718e"/><circle cx="560.0" cy="518.5" r="3.71" fill="#2d718e"/><circle cx="574.0" cy="518.0" r="3.71" fill="#20938c"/><circle cx="485.5" cy="508.5" r="3.71" fill="#20938c"/><circle cx="493.0" cy="509.0" r="3.71" fill="#20938c"/><circle cx="500.0" cy="510.0" r="3.71" fill="#453882"/><circle cx="506.5" cy="507.0" r="3.71" fill="#2d718e"/><circle cx="509.8" cy="513.5" r="3.71" fill="#2d718e"/><circle cx="529.0" cy="511.5" r="3.71" fill="#2d718e"/><circle cx="536.5" cy="512.0" r="3.71" fill="#2d718e"/><circle cx="525.5" cy="517.5" r="3.71" fill="#2d718e"/><circle cx="533.0" cy="518.0" r="3.71" fill="#20938c"/><circle cx="521.5" cy="524.0" r="3.71" fill="#2d718e"/><circle cx="528.8" cy="524.0" r="3.71" fill="#2d718e"/><circle cx="536.2" cy="524.0" r="3.71" fill="#2d718e"/><circle cx="499.5" cy="521.0" r="0.84" fill="#440256"/><circle cx="482.5" cy="526.0" r="3.71" fill="#453882"/><circle cx="480.0" cy="532.0" r="3.71" fill="#3c4f8a"/><circle cx="486.8" cy="532.5" r="3.71" fill="#2d718e"/><circle cx="509.0" cy="525.5" r="3.71" fill="#22a785"/><circle cx="501.0" cy="531.0" r="3.71" fill="#453882"/><circle cx="507.8" cy="532.8" r="3.71" fill="#22a785"/><circle cx="514.5" cy="535.5" r="3.71" fill="#453882"/><circle cx="495.5" cy="536.0" r="3.71" fill="#2d718e"/><circle cx="538.8" cy="530.0" r="3.71" fill="#20938c"/><circle cx="545.8" cy="530.0" r="3.71" fill="#2d718e"/><circle cx="533.5" cy="535.0" r="3.71" fill="#20938c"/><circle cx="540.2" cy="537.5" r="3.71" fill="#20938c"/><circle cx="549.5" cy="536.0" r="3.71" fill="#2d718e"/><circle cx="526.5" cy="537.5" r="3.71" fill="#453882"/><circle cx="560.0" cy="530.5" r="3.71" fill="#22a785"/><circle cx="567.5" cy="530.0" r="3.71" fill="#2d718e"/><circle cx="570.0" cy="536.5" r="3.71" fill="#3c4f8a"/><circle cx="579.8" cy="528.0" r="3.71" fill="#481769"/><circle cx="576.5" cy="534.5" r="3.71" fill="#3c4f8a"/><circle cx="583.5" cy="534.5" r="3.71" fill="#2d718e"/><circle cx="495.0" cy="542.5" r="3.71" fill="#2d718e"/><circle cx="502.0" cy="545.0" r="3.71" fill="#2d718e"/><circle cx="488.5" cy="545.5" r="3.71" fill="#2d718e"/><circle cx="482.0" cy="544.0" r="3.71" fill="#2d718e"/><circle cx="531.8" cy="542.5" r="3.71" fill="#20938c"/><circle cx="528.5" cy="549.0" r="3.71" fill="#2d718e"/><circle cx="536.0" cy="549.0" r="3.71" fill="#2d718e"/><circle cx="560.0" cy="543.0" r="3.71" fill="#20938c"/><circle cx="549.5" cy="549.5" r="3.71" fill="#22a785"/><circle cx="569.0" cy="549.5" r="3.71" fill="#22a785"/><circle cx="575.0" cy="544.0" r="3.71" fill="#22a785"/><circle cx="581.0" cy="540.0" r="3.71" fill="#22a785"/><circle cx="587.5" cy="540.0" r="3.71" fill="#22a785"/><circle cx="584.0" cy="546.0" r="3.71" fill="#22a785"/><circle cx="578.0" cy="550.5" r="3.71" fill="#22a785"/><circle cx="485.0" cy="551.0" r="3.71" fill="#2d718e"/><circle cx="494.0" cy="551.0" r="3.71" fill="#2d718e"/><circle cx="481.0" cy="558.0" r="3.71" fill="#20938c"/><circle cx="487.5" cy="555.0" r="3.71" fill="#2d718e"/><circle cx="492.0" cy="558.5" r="3.71" fill="#2d718e"/><circle cx="532.0" cy="554.5" r="3.71" fill="#22a785"/><circle cx="545.5" cy="555.5" r="3.71" fill="#2d718e"/><circle cx="553.0" cy="555.5" r="3.71" fill="#20938c"/><circle cx="560.0" cy="555.0" r="3.71" fill="#2d718e"/><circle cx="572.5" cy="556.0" r="3.71" fill="#2d718e"/><circle cx="580.0" cy="558.0" r="3.71" fill="#22a785"/><circle cx="586.5" cy="560.0" r="3.71" fill="#20938c"/><circle cx="486.0" cy="562.0" r="3.71" fill="#2d718e"/><circle cx="508.5" cy="561.0" r="0.84" fill="#440256"/><circle cx="515.0" cy="564.0" r="3.71" fill="#20938c"/><circle cx="525.0" cy="563.0" r="3.71" fill="#2d718e"/><circle cx="563.0" cy="561.0" r="3.71" fill="#2d718e"/><circle cx="574.0" cy="562.5" r="3.71" fill="#2d718e"/><circle cx="483.5" cy="568.0" r="3.71" fill="#2d718e"/><circle cx="491.0" cy="567.5" r="3.71" fill="#2d718e"/><circle cx="520.5" cy="568.5" r="3.71" fill="#2d718e"/><circle cx="531.5" cy="566.5" r="3.71" fill="#2d718e"/><circle cx="538.5" cy="568.5" r="3.71" fill="#2d718e"/><circle cx="547.0" cy="564.5" r="3.71" fill="#20938c"/><circle cx="557.5" cy="565.5" r="3.71" fill="#2d718e"/><circle cx="568.0" cy="566.5" r="3.71" fill="#2d718e"/><circle cx="579.0" cy="567.0" r="3.71" fill="#2d718e"/><circle cx="586.0" cy="568.0" r="3.71" fill="#22a785"/><circle cx="552.0" cy="570.0" r="3.71" fill="#453882"/><circle cx="545.0" cy="571.5" r="3.71" fill="#20938c"/><circle cx="557.5" cy="572.5" r="2.73" fill="#20938c"/><circle cx="563.0" cy="571.0" r="3.71" fill="#20938c"/><circle cx="568.5" cy="573.0" r="3.71" fill="#20938c"/><circle cx="575.5" cy="573.0" r="3.71" fill="#453882"/><circle cx="582.0" cy="573.5" r="3.71" fill="#453882"/><circle cx="588.5" cy="574.0" r="3.71" fill="#2d718e"/><circle cx="506.0" cy="573.5" r="3.71" fill="#20938c"/><circle cx="486.0" cy="575.0" r="3.71" fill="#2d718e"/><circle cx="493.0" cy="576.5" r="3.71" fill="#2d718e"/><circle cx="513.5" cy="578.0" r="3.71" fill="#22a785"/><circle cx="520.5" cy="578.0" r="3.71" fill="#22a785"/><circle cx="528.0" cy="578.5" r="3.71" fill="#3c4f8a"/><circle cx="539.0" cy="575.5" r="3.71" fill="#481769"/><circle cx="545.5" cy="578.0" r="3.71" fill="#2d718e"/><circle cx="553.0" cy="577.0" r="3.71" fill="#2d718e"/><circle cx="563.0" cy="577.5" r="3.71" fill="#20938c"/><circle cx="584.5" cy="580.0" r="3.71" fill="#453882"/><circle cx="481.5" cy="580.5" r="3.71" fill="#2d718e"/><circle cx="504.0" cy="580.5" r="3.71" fill="#2d718e"/><circle cx="517.0" cy="584.0" r="3.71" fill="#22a785"/><circle cx="524.0" cy="584.5" r="3.71" fill="#22a785"/><circle cx="530.7" cy="585.0" r="0.84" fill="#440256"/><circle cx="540.0" cy="583.0" r="3.71" fill="#20938c"/><circle cx="547.5" cy="585.5" r="3.71" fill="#20938c"/><circle cx="568.0" cy="583.0" r="3.71" fill="#20938c"/><circle cx="575.0" cy="584.5" r="3.71" fill="#3c4f8a"/><circle cx="490.0" cy="583.5" r="3.71" fill="#2d718e"/><circle cx="496.5" cy="587.5" r="3.71" fill="#3dbc74"/><circle cx="506.5" cy="589.5" r="3.71" fill="#22a785"/><circle cx="513.5" cy="590.0" r="3.71" fill="#22a785"/><circle cx="527.0" cy="590.5" r="3.71" fill="#22a785"/><circle cx="537.0" cy="589.0" r="3.71" fill="#3c4f8a"/><circle cx="569.5" cy="589.5" r="3.71" fill="#3c4f8a"/><circle cx="576.5" cy="591.5" r="3.71" fill="#3c4f8a"/><circle cx="584.0" cy="587.5" r="3.71" fill="#20938c"/><circle cx="483.0" cy="591.5" r="3.71" fill="#20938c"/><circle cx="490.0" cy="590.5" r="3.71" fill="#20938c"/><circle cx="500.5" cy="593.0" r="3.71" fill="#20938c"/><circle cx="542.0" cy="593.5" r="3.71" fill="#3c4f8a"/><circle cx="549.0" cy="593.5" r="3.71" fill="#3c4f8a"/><circle cx="556.0" cy="592.0" r="3.71" fill="#2d718e"/><circle cx="588.5" cy="592.5" r="3.71" fill="#2d718e"/><circle cx="487.5" cy="597.0" r="3.71" fill="#20938c"/><circle cx="494.0" cy="596.0" r="3.71" fill="#20938c"/><circle cx="507.0" cy="597.0" r="3.71" fill="#22a785"/><circle cx="514.0" cy="597.0" r="3.71" fill="#22a785"/><circle cx="535.5" cy="596.5" r="3.71" fill="#22a785"/><circle cx="545.5" cy="599.5" r="3.71" fill="#20938c"/><circle cx="553.5" cy="599.0" r="3.71" fill="#3c4f8a"/><circle cx="560.5" cy="597.5" r="3.71" fill="#2d718e"/><circle cx="568.0" cy="596.5" r="3.71" fill="#2d718e"/><circle cx="574.5" cy="598.5" r="3.71" fill="#20938c"/><circle cx="582.0" cy="595.5" r="3.71" fill="#3c4f8a"/><circle cx="500.0" cy="600.5" r="3.71" fill="#20938c"/><circle cx="520.0" cy="600.5" r="3.71" fill="#22a785"/><circle cx="530.5" cy="601.5" r="3.71" fill="#22a785"/><circle cx="539.0" cy="603.0" r="3.71" fill="#3c4f8a"/><circle cx="558.0" cy="603.5" r="3.71" fill="#3c4f8a"/><circle cx="565.2" cy="603.3" r="3.71" fill="#c2df23"/><circle cx="574.5" cy="605.5" r="3.71" fill="#20938c"/><circle cx="581.0" cy="602.0" r="3.71" fill="#3c4f8a"/><circle cx="587.5" cy="600.5" r="3.71" fill="#2d718e"/><circle cx="484.0" cy="603.5" r="3.71" fill="#20938c"/><circle cx="491.5" cy="606.5" r="3.71" fill="#22a785"/><circle cx="514.0" cy="604.5" r="3.71" fill="#22a785"/><circle cx="544.5" cy="607.0" r="3.71" fill="#2d718e"/><circle cx="551.5" cy="606.0" r="3.71" fill="#3c4f8a"/><circle cx="581.5" cy="609.0" r="3.71" fill="#3c4f8a"/><circle cx="588.5" cy="608.0" r="3.71" fill="#2d718e"/><circle cx="482.0" cy="610.0" r="3.71" fill="#20938c"/><circle cx="504.5" cy="608.5" r="3.71" fill="#2d718e"/><circle cx="518.0" cy="609.5" r="3.71" fill="#2d718e"/><circle cx="529.0" cy="608.5" r="3.71" fill="#2d718e"/><circle cx="535.0" cy="612.5" r="3.71" fill="#2d718e"/><circle cx="549.0" cy="612.5" r="3.71" fill="#2d718e"/><circle cx="556.0" cy="611.0" r="3.71" fill="#453882"/><circle cx="567.0" cy="610.0" r="3.71" fill="#2d718e"/><circle cx="574.0" cy="612.5" r="3.71" fill="#20938c"/><circle cx="489.0" cy="613.5" r="3.71" fill="#22a785"/><circle cx="495.5" cy="615.5" r="3.71" fill="#2d718e"/><circle cx="502.5" cy="615.0" r="3.71" fill="#2d718e"/><circle cx="519.5" cy="616.5" r="3.71" fill="#2d718e"/><circle cx="526.0" cy="614.5" r="3.71" fill="#2d718e"/><circle cx="543.0" cy="614.7" r="0.84" fill="#440256"/><circle cx="562.0" cy="614.5" r="3.71" fill="#20938c"/><circle cx="579.5" cy="615.0" r="3.71" fill="#20938c"/><circle cx="586.0" cy="614.5" r="3.71" fill="#20938c"/><circle cx="480.0" cy="617.0" r="3.71" fill="#3c4f8a"/><circle cx="486.5" cy="619.5" r="3.71" fill="#3c4f8a"/><circle cx="513.5" cy="617.0" r="0.84" fill="#440256"/><circle cx="532.0" cy="618.5" r="3.71" fill="#2d718e"/><circle cx="539.0" cy="618.0" r="3.71" fill="#2d718e"/><circle cx="568.5" cy="617.0" r="3.71" fill="#20938c"/><circle cx="574.5" cy="620.5" r="3.71" fill="#453882"/><circle cx="583.0" cy="620.5" r="3.71" fill="#20938c"/><circle cx="493.0" cy="622.5" r="3.71" fill="#481769"/><circle cx="501.5" cy="622.5" r="3.71" fill="#3c4f8a"/><circle cx="508.5" cy="622.0" r="3.71" fill="#3c4f8a"/><circle cx="515.5" cy="621.5" r="3.71" fill="#3c4f8a"/><circle cx="522.5" cy="623.3" r="0.84" fill="#440256"/><circle cx="560.0" cy="621.0" r="3.71" fill="#2d718e"/><circle cx="497.0" cy="628.0" r="3.71" fill="#481769"/><circle cx="504.0" cy="628.5" r="3.71" fill="#3c4f8a"/><circle cx="511.0" cy="629.0" r="3.71" fill="#3c4f8a"/><circle cx="518.0" cy="628.0" r="3.71" fill="#3c4f8a"/><circle cx="524.5" cy="629.5" r="3.71" fill="#3c4f8a"/><circle cx="529.5" cy="625.0" r="3.71" fill="#2d718e"/><circle cx="536.5" cy="625.0" r="3.71" fill="#2d718e"/><circle cx="547.5" cy="626.5" r="3.71" fill="#2d718e"/><circle cx="554.5" cy="625.5" r="3.71" fill="#2d718e"/><circle cx="533.0" cy="631.0" r="3.71" fill="#3c4f8a"/><circle cx="541.5" cy="630.0" r="3.71" fill="#2d718e"/><circle cx="551.5" cy="632.0" r="3.71" fill="#2d718e"/><circle cx="561.5" cy="628.5" r="3.71" fill="#2d718e"/><circle cx="568.0" cy="631.0" r="3.71" fill="#2d718e"/><circle cx="507.3" cy="636.5" r="0.84" fill="#440256"/><circle cx="513.0" cy="635.0" r="3.71" fill="#3c4f8a"/><circle cx="519.5" cy="634.0" r="3.71" fill="#3c4f8a"/><circle cx="526.0" cy="636.5" r="3.71" fill="#3c4f8a"/><circle cx="565.0" cy="637.5" r="3.71" fill="#2d718e"/><circle cx="514.0" cy="640.5" r="3.71" fill="#3c4f8a"/><circle cx="515.2" cy="646.8" r="3.71" fill="#3c4f8a"/><circle cx="601.0" cy="350.8" r="3.71" fill="#20938c"/><circle cx="592.0" cy="354.2" r="3.71" fill="#20938c"/><circle cx="602.0" cy="358.0" r="3.71" fill="#20938c"/><circle cx="609.0" cy="358.0" r="3.71" fill="#20938c"/><circle cx="616.2" cy="358.0" r="3.71" fill="#20938c"/><circle cx="623.5" cy="358.5" r="3.71" fill="#20938c"/><circle cx="605.0" cy="364.5" r="3.71" fill="#20938c"/><circle cx="612.2" cy="364.5" r="3.71" fill="#20938c"/><circle cx="619.2" cy="364.8" r="3.71" fill="#20938c"/><circle cx="624.8" cy="368.0" r="2.73" fill="#20938c"/><circle cx="630.0" cy="371.8" r="3.71" fill="#20938c"/><circle cx="619.8" cy="371.2" r="2.73" fill="#20938c"/><circle cx="595.0" cy="371.5" r="3.71" fill="#20938c"/><circle cx="601.8" cy="370.5" r="3.71" fill="#20938c"/><circle cx="608.8" cy="370.5" r="3.71" fill="#20938c"/><circle cx="614.5" cy="374.5" r="3.71" fill="#20938c"/><circle cx="598.8" cy="377.5" r="3.71" fill="#20938c"/><circle cx="605.5" cy="377.0" r="3.71" fill="#20938c"/><circle cx="611.5" cy="380.5" r="3.71" fill="#20938c"/><circle cx="618.3" cy="382.8" r="3.71" fill="#20938c"/><circle cx="592.2" cy="381.5" r="3.71" fill="#20938c"/><circle cx="599.0" cy="384.5" r="3.71" fill="#20938c"/><circle cx="605.8" cy="384.5" r="3.71" fill="#20938c"/><circle cx="612.5" cy="387.8" r="3.71" fill="#20938c"/><circle cx="618.8" cy="388.7" r="0.84" fill="#440256"/><circle cx="593.0" cy="389.0" r="3.71" fill="#20938c"/><circle cx="599.7" cy="391.5" r="3.71" fill="#20938c"/><circle cx="606.5" cy="391.5" r="3.71" fill="#20938c"/><circle cx="613.5" cy="394.5" r="3.71" fill="#3c4f8a"/><circle cx="620.5" cy="394.8" r="3.71" fill="#3c4f8a"/><circle cx="594.0" cy="396.5" r="3.71" fill="#22a785"/><circle cx="600.5" cy="398.8" r="3.71" fill="#2d718e"/><circle cx="607.7" cy="398.5" r="3.71" fill="#20938c"/><circle cx="616.5" cy="400.8" r="3.71" fill="#3c4f8a"/><circle cx="623.5" cy="401.5" r="3.71" fill="#3c4f8a"/><circle cx="592.5" cy="403.5" r="3.71" fill="#22a785"/><circle cx="598.0" cy="408.0" r="3.71" fill="#3c4f8a"/><circle cx="605.0" cy="407.5" r="3.71" fill="#3c4f8a"/><circle cx="612.2" cy="407.0" r="3.71" fill="#3c4f8a"/><circle cx="620.5" cy="408.0" r="3.71" fill="#3c4f8a"/><circle cx="629.0" cy="410.0" r="3.71" fill="#20938c"/><circle cx="591.5" cy="411.0" r="3.71" fill="#2d718e"/><circle cx="602.0" cy="414.2" r="3.71" fill="#22a785"/><circle cx="609.0" cy="413.5" r="3.71" fill="#3c4f8a"/><circle cx="616.0" cy="413.0" r="3.71" fill="#3c4f8a"/><circle cx="623.2" cy="414.2" r="3.71" fill="#3c4f8a"/><circle cx="630.0" cy="417.0" r="3.71" fill="#2d718e"/><circle cx="612.8" cy="419.5" r="3.71" fill="#20938c"/><circle cx="640.2" cy="419.0" r="3.71" fill="#3c4f8a"/><circle cx="625.2" cy="421.5" r="2.73" fill="#3c4f8a"/><circle cx="634.0" cy="422.8" r="3.71" fill="#3c4f8a"/><circle cx="646.8" cy="422.0" r="3.71" fill="#2d718e"/><circle cx="595.5" cy="423.5" r="3.71" fill="#22a785"/><circle cx="602.0" cy="422.0" r="2.73" fill="#3c4f8a"/><circle cx="628.5" cy="426.5" r="2.73" fill="#3c4f8a"/><circle cx="603.0" cy="427.5" r="2.73" fill="#3c4f8a"/><circle cx="657.2" cy="430.0" r="3.71" fill="#2d718e"/><circle cx="597.2" cy="430.5" r="3.71" fill="#2d718e"/><circle cx="613.5" cy="430.0" r="3.71" fill="#2d718e"/><circle cx="633.5" cy="430.0" r="3.71" fill="#2d718e"/><circle cx="640.5" cy="429.8" r="3.71" fill="#2d718e"/><circle cx="647.8" cy="429.2" r="3.71" fill="#2d718e"/><circle cx="625.8" cy="432.0" r="3.71" fill="#3c4f8a"/><circle cx="606.8" cy="432.5" r="3.71" fill="#2d718e"/><circle cx="619.0" cy="434.0" r="3.71" fill="#3c4f8a"/><circle cx="652.0" cy="434.8" r="3.71" fill="#2d718e"/><circle cx="645.0" cy="435.5" r="3.71" fill="#20938c"/><circle cx="637.8" cy="436.5" r="3.71" fill="#2d718e"/><circle cx="630.8" cy="436.5" r="3.71" fill="#2d718e"/><circle cx="612.5" cy="436.5" r="3.71" fill="#2d718e"/><circle cx="594.8" cy="437.0" r="3.71" fill="#2d718e"/><circle cx="665.7" cy="434.2" r="3.71" fill="#fde725"/><circle cx="673.0" cy="435.8" r="3.71" fill="#fde725"/><circle cx="659.3" cy="437.0" r="3.71" fill="#fde725"/><circle cx="680.0" cy="438.5" r="3.71" fill="#fde725"/><circle cx="668.2" cy="439.5" r="3.71" fill="#fde725"/><circle cx="606.0" cy="439.0" r="3.71" fill="#2d718e"/><circle cx="592.0" cy="443.3" r="3.71" fill="#2d718e"/><circle cx="599.4" cy="442.5" r="3.71" fill="#2d718e"/><circle cx="611.7" cy="443.3" r="3.71" fill="#20938c"/><circle cx="618.0" cy="442.0" r="3.71" fill="#3c4f8a"/><circle cx="623.5" cy="445.3" r="3.71" fill="#3c4f8a"/><circle cx="629.9" cy="443.0" r="3.71" fill="#20938c"/><circle cx="636.7" cy="443.3" r="3.71" fill="#20938c"/><circle cx="643.5" cy="445.3" r="3.71" fill="#20938c"/><circle cx="596.3" cy="449.1" r="3.71" fill="#3c4f8a"/><circle cx="605.1" cy="446.3" r="3.71" fill="#2d718e"/><circle cx="617.5" cy="448.1" r="3.71" fill="#3c4f8a"/><circle cx="602.1" cy="452.6" r="3.71" fill="#20938c"/><circle cx="609.7" cy="450.6" r="0.84" fill="#440256"/><circle cx="614.5" cy="453.8" r="3.71" fill="#20938c"/><circle cx="623.0" cy="452.6" r="3.71" fill="#20938c"/><circle cx="630.1" cy="450.3" r="3.71" fill="#20938c"/><circle cx="636.9" cy="450.6" r="3.71" fill="#20938c"/><circle cx="644.2" cy="452.9" r="3.71" fill="#20938c"/><circle cx="598.6" cy="458.6" r="3.71" fill="#20938c"/><circle cx="605.1" cy="458.4" r="3.71" fill="#481769"/><circle cx="610.5" cy="458.4" r="3.71" fill="#481769"/><circle cx="619.5" cy="458.2" r="3.71" fill="#20938c"/><circle cx="626.6" cy="459.9" r="3.71" fill="#2d718e"/><circle cx="632.1" cy="456.6" r="0.84" fill="#440256"/><circle cx="638.7" cy="457.9" r="3.61" fill="#fde725"/><circle cx="594.8" cy="464.7" r="3.71" fill="#3dbc74"/><circle cx="604.9" cy="464.5" r="3.71" fill="#2d718e"/><circle cx="612.0" cy="464.7" r="3.71" fill="#2d718e"/><circle cx="621.0" cy="464.7" r="3.71" fill="#2d718e"/><circle cx="628.1" cy="466.7" r="3.71" fill="#20938c"/><circle cx="633.9" cy="462.7" r="3.61" fill="#fde725"/><circle cx="641.0" cy="463.9" r="3.61" fill="#fde725"/><circle cx="599.8" cy="469.7" r="3.71" fill="#3dbc74"/><circle cx="616.0" cy="469.7" r="3.71" fill="#2d718e"/><circle cx="623.0" cy="471.3" r="3.71" fill="#20938c"/><circle cx="629.9" cy="472.5" r="3.71" fill="#453882"/><circle cx="635.9" cy="469.0" r="3.61" fill="#fde725"/><circle cx="642.7" cy="471.0" r="3.61" fill="#fde725"/><circle cx="603.9" cy="475.3" r="3.71" fill="#22a785"/><circle cx="610.9" cy="474.6" r="3.71" fill="#20938c"/><circle cx="617.8" cy="476.6" r="3.71" fill="#2d718e"/><circle cx="624.3" cy="477.8" r="3.71" fill="#453882"/><circle cx="636.2" cy="475.6" r="3.61" fill="#fde725"/><circle cx="641.0" cy="479.8" r="2.73" fill="#fde725"/><circle cx="645.5" cy="478.8" r="3.61" fill="#fde725"/><circle cx="608.9" cy="484.2" r="3.71" fill="#20938c"/><circle cx="619.5" cy="483.1" r="3.71" fill="#20938c"/><circle cx="626.3" cy="484.9" r="3.71" fill="#481769"/><circle cx="631.1" cy="480.1" r="3.61" fill="#fde725"/><circle cx="633.4" cy="486.7" r="3.71" fill="#20938c"/><circle cx="641.0" cy="485.9" r="3.71" fill="#2d718e"/><circle cx="591.0" cy="487.9" r="3.71" fill="#22a785"/><circle cx="596.0" cy="490.7" r="3.71" fill="#2d718e"/><circle cx="602.6" cy="487.9" r="3.71" fill="#20938c"/><circle cx="614.7" cy="488.7" r="3.71" fill="#2d718e"/><circle cx="621.6" cy="489.7" r="3.71" fill="#2d718e"/><circle cx="637.7" cy="492.0" r="3.71" fill="#20938c"/><circle cx="644.8" cy="490.9" r="3.71" fill="#20938c"/><circle cx="608.6" cy="491.5" r="3.71" fill="#20938c"/><circle cx="601.9" cy="494.5" r="3.71" fill="#2d718e"/><circle cx="595.6" cy="497.0" r="3.71" fill="#20938c"/><circle cx="614.7" cy="495.5" r="3.71" fill="#2d718e"/><circle cx="626.1" cy="495.0" r="3.71" fill="#2d718e"/><circle cx="642.0" cy="497.0" r="3.71" fill="#20938c"/><circle cx="662.2" cy="443.4" r="3.61" fill="#fde725"/><circle cx="668.7" cy="447.1" r="3.61" fill="#fde725"/><circle cx="674.8" cy="443.5" r="3.61" fill="#fde725"/><circle cx="681.4" cy="444.9" r="3.61" fill="#fde725"/><circle cx="688.1" cy="443.5" r="3.61" fill="#fde725"/><circle cx="655.8" cy="449.6" r="3.61" fill="#fde725"/><circle cx="662.6" cy="450.6" r="3.61" fill="#fde725"/><circle cx="671.7" cy="453.4" r="3.61" fill="#fde725"/><circle cx="678.3" cy="451.9" r="3.61" fill="#fde725"/><circle cx="686.1" cy="450.6" r="3.61" fill="#fde725"/><circle cx="651.3" cy="455.1" r="3.61" fill="#fde725"/><circle cx="658.4" cy="456.1" r="3.61" fill="#fde725"/><circle cx="665.4" cy="457.4" r="3.61" fill="#fde725"/><circle cx="676.7" cy="458.6" r="3.61" fill="#fde725"/><circle cx="683.9" cy="456.6" r="3.61" fill="#fde725"/><circle cx="647.0" cy="459.9" r="3.61" fill="#fde725"/><circle cx="654.1" cy="462.2" r="3.61" fill="#fde725"/><circle cx="660.9" cy="462.2" r="2.73" fill="#fde725"/><circle cx="670.7" cy="461.7" r="3.61" fill="#fde725"/><circle cx="681.9" cy="462.4" r="2.73" fill="#fde725"/><circle cx="688.1" cy="463.2" r="3.61" fill="#fde725"/><circle cx="648.0" cy="465.7" r="3.61" fill="#fde725"/><circle cx="654.6" cy="469.3" r="3.61" fill="#fde725"/><circle cx="665.7" cy="465.7" r="3.61" fill="#fde725"/><circle cx="674.0" cy="467.7" r="3.61" fill="#fde725"/><circle cx="680.0" cy="467.2" r="2.73" fill="#fde725"/><circle cx="685.9" cy="469.7" r="3.61" fill="#fde725"/><circle cx="649.0" cy="473.3" r="3.61" fill="#fde725"/><circle cx="661.1" cy="470.8" r="3.61" fill="#fde725"/><circle cx="668.2" cy="471.8" r="3.61" fill="#fde725"/><circle cx="657.4" cy="475.8" r="3.61" fill="#fde725"/><circle cx="664.1" cy="476.3" r="3.61" fill="#fde725"/><circle cx="689.1" cy="475.8" r="3.61" fill="#fde725"/><circle cx="651.8" cy="479.8" r="3.61" fill="#fde725"/><circle cx="662.2" cy="482.9" r="3.61" fill="#fde725"/><circle cx="668.9" cy="481.4" r="3.61" fill="#fde725"/><circle cx="655.6" cy="484.4" r="3.61" fill="#fde725"/><circle cx="666.7" cy="487.9" r="3.61" fill="#fde725"/><circle cx="651.8" cy="490.2" r="3.61" fill="#fde725"/><circle cx="659.9" cy="489.9" r="3.61" fill="#fde725"/><circle cx="649.0" cy="442.0" r="3.71" fill="#20938c"/><circle cx="655.6" cy="443.0" r="3.71" fill="#20938c"/><circle cx="649.8" cy="448.8" r="0.84" fill="#440256"/><circle cx="679.0" cy="473.3" r="3.71" fill="#2d718e"/><circle cx="676.0" cy="480.1" r="3.71" fill="#2d718e"/><circle cx="683.1" cy="479.4" r="3.71" fill="#2d718e"/><circle cx="687.9" cy="484.6" r="3.71" fill="#2d718e"/><circle cx="680.3" cy="485.7" r="3.71" fill="#2d718e"/><circle cx="673.5" cy="486.7" r="3.71" fill="#2d718e"/><circle cx="684.8" cy="490.9" r="3.71" fill="#2d718e"/><circle cx="678.3" cy="492.0" r="3.71" fill="#2d718e"/><circle cx="671.0" cy="493.0" r="3.71" fill="#2d718e"/><circle cx="647.5" cy="484.4" r="3.71" fill="#2d718e"/><circle cx="649.0" cy="496.0" r="3.71" fill="#20938c"/><circle cx="656.1" cy="495.7" r="3.71" fill="#20938c"/><circle cx="664.1" cy="495.0" r="3.71" fill="#20938c"/><circle cx="601.3" cy="501.5" r="3.71" fill="#2d718e"/><circle cx="607.7" cy="498.8" r="3.71" fill="#2d718e"/><circle cx="613.7" cy="502.3" r="3.71" fill="#20938c"/><circle cx="620.0" cy="499.3" r="3.71" fill="#7cd250"/><circle cx="629.9" cy="501.3" r="3.71" fill="#20938c"/><circle cx="636.9" cy="501.5" r="3.71" fill="#20938c"/><circle cx="596.6" cy="507.3" r="3.71" fill="#20938c"/><circle cx="607.1" cy="505.6" r="3.71" fill="#2d718e"/><circle cx="624.3" cy="504.8" r="3.71" fill="#7cd250"/><circle cx="645.0" cy="502.5" r="3.71" fill="#20938c"/><circle cx="602.6" cy="510.8" r="3.71" fill="#20938c"/><circle cx="613.0" cy="509.4" r="3.71" fill="#20938c"/><circle cx="620.0" cy="510.6" r="3.71" fill="#7cd250"/><circle cx="626.8" cy="511.4" r="3.71" fill="#2d718e"/><circle cx="637.7" cy="508.9" r="3.71" fill="#7cd250"/><circle cx="644.5" cy="508.9" r="3.71" fill="#20938c"/><circle cx="593.0" cy="513.6" r="3.71" fill="#2d718e"/><circle cx="608.2" cy="514.9" r="3.71" fill="#20938c"/><circle cx="615.0" cy="515.9" r="3.71" fill="#3c4f8a"/><circle cx="622.0" cy="517.4" r="3.71" fill="#2d718e"/><circle cx="628.9" cy="517.9" r="3.71" fill="#22a785"/><circle cx="635.4" cy="517.9" r="3.71" fill="#22a785"/><circle cx="641.0" cy="514.9" r="3.71" fill="#2d718e"/><circle cx="593.8" cy="520.5" r="3.71" fill="#2d718e"/><circle cx="617.8" cy="522.7" r="3.71" fill="#2d718e"/><circle cx="631.9" cy="523.7" r="3.71" fill="#2d718e"/><circle cx="644.0" cy="520.9" r="3.71" fill="#7cd250"/><circle cx="599.1" cy="525.3" r="3.71" fill="#2d718e"/><circle cx="610.9" cy="525.5" r="3.71" fill="#2d718e"/><circle cx="638.7" cy="526.8" r="3.71" fill="#2d718e"/><circle cx="645.5" cy="527.8" r="3.71" fill="#2d718e"/><circle cx="604.9" cy="528.8" r="3.71" fill="#20938c"/><circle cx="617.0" cy="529.5" r="3.71" fill="#3c4f8a"/><circle cx="623.8" cy="531.3" r="3.71" fill="#2d718e"/><circle cx="632.9" cy="530.8" r="3.71" fill="#2d718e"/><circle cx="598.6" cy="532.6" r="3.71" fill="#3c4f8a"/><circle cx="610.9" cy="532.8" r="3.71" fill="#3c4f8a"/><circle cx="640.7" cy="533.0" r="3.71" fill="#2d718e"/><circle cx="604.6" cy="536.6" r="3.71" fill="#3c4f8a"/><circle cx="621.8" cy="538.1" r="3.71" fill="#2d718e"/><circle cx="628.3" cy="536.1" r="3.71" fill="#2d718e"/><circle cx="635.4" cy="537.4" r="3.71" fill="#2d718e"/><circle cx="615.2" cy="541.6" r="3.71" fill="#2d718e"/><circle cx="628.9" cy="542.7" r="3.71" fill="#20938c"/><circle cx="641.0" cy="540.4" r="3.71" fill="#2d718e"/><circle cx="595.8" cy="544.2" r="3.71" fill="#2d718e"/><circle cx="602.9" cy="543.1" r="3.71" fill="#453882"/><circle cx="609.4" cy="544.9" r="3.71" fill="#22a785"/><circle cx="622.3" cy="545.2" r="3.71" fill="#2d718e"/><circle cx="635.4" cy="543.7" r="3.71" fill="#2d718e"/><circle cx="641.5" cy="547.2" r="3.71" fill="#3c4f8a"/><circle cx="591.0" cy="548.7" r="3.71" fill="#22a785"/><circle cx="616.0" cy="548.7" r="3.71" fill="#22a785"/><circle cx="628.9" cy="549.2" r="3.71" fill="#20938c"/><circle cx="635.4" cy="550.2" r="3.71" fill="#20938c"/><circle cx="597.1" cy="551.0" r="3.71" fill="#2d718e"/><circle cx="603.9" cy="550.2" r="3.71" fill="#2d718e"/><circle cx="610.2" cy="552.7" r="3.71" fill="#2d718e"/><circle cx="622.5" cy="552.3" r="3.71" fill="#20938c"/><circle cx="641.7" cy="553.8" r="3.71" fill="#20938c"/><circle cx="653.3" cy="502.0" r="3.71" fill="#7cd250"/><circle cx="660.4" cy="501.3" r="3.71" fill="#22a785"/><circle cx="666.7" cy="501.0" r="3.71" fill="#297b8e"/><circle cx="672.7" cy="499.7" r="3.71" fill="#297b8e"/><circle cx="679.0" cy="499.5" r="3.71" fill="#297b8e"/><circle cx="675.8" cy="505.1" r="3.71" fill="#297b8e"/><circle cx="664.9" cy="507.3" r="3.71" fill="#297b8e"/><circle cx="651.5" cy="508.9" r="3.71" fill="#7cd250"/><circle cx="658.6" cy="510.1" r="3.71" fill="#7cd250"/><circle cx="672.2" cy="510.8" r="3.71" fill="#297b8e"/><circle cx="648.0" cy="515.2" r="3.71" fill="#7cd250"/><circle cx="664.1" cy="513.9" r="3.71" fill="#297b8e"/><circle cx="676.8" cy="515.9" r="3.71" fill="#297b8e"/><circle cx="657.8" cy="516.9" r="3.71" fill="#297b8e"/><circle cx="670.5" cy="517.7" r="3.71" fill="#297b8e"/><circle cx="651.3" cy="521.5" r="3.71" fill="#297b8e"/><circle cx="663.9" cy="520.9" r="3.71" fill="#297b8e"/><circle cx="678.8" cy="521.9" r="3.71" fill="#297b8e"/><circle cx="657.8" cy="524.2" r="3.71" fill="#2d718e"/><circle cx="668.7" cy="526.0" r="3.71" fill="#297b8e"/><circle cx="675.0" cy="527.3" r="3.71" fill="#297b8e"/><circle cx="682.6" cy="527.8" r="3.71" fill="#297b8e"/><circle cx="652.8" cy="528.8" r="3.71" fill="#2d718e"/><circle cx="662.6" cy="528.0" r="3.71" fill="#2d718e"/><circle cx="659.4" cy="532.8" r="3.71" fill="#2d718e"/><circle cx="671.0" cy="532.8" r="3.71" fill="#297b8e"/><circle cx="678.0" cy="533.6" r="3.71" fill="#297b8e"/><circle cx="685.9" cy="533.8" r="3.71" fill="#297b8e"/><circle cx="647.5" cy="536.1" r="3.71" fill="#2d718e"/><circle cx="653.6" cy="536.4" r="3.71" fill="#2d718e"/><circle cx="659.9" cy="539.4" r="3.71" fill="#2d718e"/><circle cx="666.9" cy="539.1" r="3.71" fill="#297b8e"/><circle cx="674.0" cy="539.1" r="3.71" fill="#297b8e"/><circle cx="681.3" cy="539.1" r="3.71" fill="#297b8e"/><circle cx="647.5" cy="543.7" r="3.71" fill="#3c4f8a"/><circle cx="654.1" cy="543.4" r="3.71" fill="#297b8e"/><circle cx="663.7" cy="545.4" r="3.71" fill="#297b8e"/><circle cx="670.7" cy="545.4" r="3.71" fill="#297b8e"/><circle cx="677.8" cy="545.4" r="3.71" fill="#297b8e"/><circle cx="685.1" cy="545.4" r="3.71" fill="#297b8e"/><circle cx="650.5" cy="549.7" r="3.71" fill="#3c4f8a"/><circle cx="657.6" cy="549.7" r="3.71" fill="#297b8e"/><circle cx="664.1" cy="552.3" r="3.71" fill="#297b8e"/><circle cx="671.0" cy="552.0" r="3.71" fill="#297b8e"/><circle cx="678.0" cy="552.0" r="3.71" fill="#297b8e"/><circle cx="685.1" cy="552.0" r="3.71" fill="#297b8e"/><circle cx="601.0" cy="557.0" r="3.71" fill="#3c4f8a"/><circle cx="608.5" cy="558.5" r="3.71" fill="#2d718e"/><circle cx="616.5" cy="556.0" r="3.71" fill="#3c4f8a"/><circle cx="628.5" cy="556.5" r="3.71" fill="#20938c"/><circle cx="635.5" cy="557.0" r="3.71" fill="#453882"/><circle cx="647.5" cy="558.0" r="3.71" fill="#3c4f8a"/><circle cx="653.0" cy="555.5" r="3.71" fill="#3c4f8a"/><circle cx="659.0" cy="557.0" r="3.71" fill="#2d718e"/><circle cx="666.5" cy="558.5" r="3.71" fill="#297b8e"/><circle cx="673.8" cy="558.5" r="3.71" fill="#297b8e"/><circle cx="681.0" cy="558.5" r="3.71" fill="#297b8e"/><circle cx="596.0" cy="561.5" r="3.71" fill="#3c4f8a"/><circle cx="603.0" cy="563.0" r="3.71" fill="#297b8e"/><circle cx="615.0" cy="562.5" r="3.71" fill="#297b8e"/><circle cx="621.8" cy="560.5" r="0.84" fill="#440256"/><circle cx="628.5" cy="563.5" r="3.71" fill="#453882"/><circle cx="636.2" cy="563.5" r="2.73" fill="#453882"/><circle cx="642.0" cy="562.0" r="3.71" fill="#297b8e"/><circle cx="649.0" cy="564.0" r="3.71" fill="#297b8e"/><circle cx="655.5" cy="563.0" r="3.71" fill="#297b8e"/><circle cx="593.5" cy="568.0" r="3.71" fill="#22a785"/><circle cx="600.0" cy="569.5" r="3.71" fill="#3c4f8a"/><circle cx="609.0" cy="566.5" r="3.71" fill="#297b8e"/><circle cx="615.0" cy="569.0" r="3.71" fill="#297b8e"/><circle cx="621.5" cy="566.0" r="3.71" fill="#453882"/><circle cx="627.5" cy="570.0" r="3.71" fill="#297b8e"/><circle cx="633.3" cy="568.3" r="2.73" fill="#453882"/><circle cx="643.0" cy="569.0" r="3.71" fill="#297b8e"/><circle cx="650.0" cy="571.0" r="3.71" fill="#297b8e"/><circle cx="596.0" cy="575.5" r="3.71" fill="#297b8e"/><circle cx="606.5" cy="572.5" r="3.71" fill="#453882"/><circle cx="612.5" cy="575.5" r="3.71" fill="#297b8e"/><circle cx="624.0" cy="576.5" r="3.71" fill="#22a785"/><circle cx="637.0" cy="573.5" r="3.71" fill="#297b8e"/><circle cx="644.0" cy="576.0" r="3.71" fill="#297b8e"/><circle cx="656.5" cy="574.5" r="3.71" fill="#297b8e"/><circle cx="591.0" cy="580.5" r="3.71" fill="#297b8e"/><circle cx="598.0" cy="582.5" r="3.71" fill="#2d718e"/><circle cx="604.8" cy="583.0" r="3.71" fill="#297b8e"/><circle cx="611.5" cy="582.5" r="3.71" fill="#297b8e"/><circle cx="618.0" cy="580.0" r="3.71" fill="#453882"/><circle cx="630.0" cy="580.0" r="3.71" fill="#22a785"/><circle cx="638.2" cy="580.8" r="3.71" fill="#297b8e"/><circle cx="650.5" cy="578.0" r="3.71" fill="#297b8e"/><circle cx="645.0" cy="583.0" r="3.71" fill="#297b8e"/><circle cx="592.5" cy="587.5" r="3.71" fill="#297b8e"/><circle cx="599.5" cy="589.5" r="3.71" fill="#2d718e"/><circle cx="606.5" cy="589.5" r="3.71" fill="#2d718e"/><circle cx="614.5" cy="588.5" r="3.71" fill="#453882"/><circle cx="624.0" cy="584.0" r="3.71" fill="#453882"/><circle cx="621.5" cy="590.5" r="3.71" fill="#453882"/><circle cx="594.0" cy="597.0" r="3.71" fill="#2d718e"/><circle cx="605.0" cy="596.5" r="3.71" fill="#481769"/><circle cx="611.5" cy="599.0" r="3.71" fill="#2d718e"/><circle cx="621.5" cy="598.0" r="3.71" fill="#453882"/><circle cx="599.5" cy="600.5" r="3.71" fill="#481769"/><circle cx="606.0" cy="603.5" r="3.71" fill="#2d718e"/><circle cx="593.5" cy="604.0" r="3.71" fill="#2d718e"/><circle cx="600.0" cy="608.0" r="3.71" fill="#2d718e"/><circle cx="594.0" cy="611.0" r="3.71" fill="#2d718e"/><circle cx="600.0" cy="615.2" r="3.71" fill="#297b8e"/><circle cx="549.8" cy="440.3" r="2.73" fill="#20938c"/><circle cx="589.5" cy="450.5" r="2.73" fill="#20938c"/></g>
<g stroke="#000" stroke-width="1.70" fill="none"><path d="M93.10,936.90v10.00"/><path d="M93.10,936.90h-10.00"/><path d="M203.21,936.90v10.00"/><path d="M93.10,826.77h-10.00"/><path d="M313.32,936.90v10.00"/><path d="M93.10,716.65h-10.00"/><path d="M423.44,936.90v10.00"/><path d="M93.10,606.52h-10.00"/><path d="M533.55,936.90v10.00"/><path d="M93.10,496.40h-10.00"/><path d="M643.66,936.90v10.00"/><path d="M93.10,386.27h-10.00"/><path d="M753.78,936.90v10.00"/><path d="M93.10,276.15h-10.00"/><path d="M863.89,936.90v10.00"/><path d="M93.10,166.02h-10.00"/><path d="M974.00,936.90v10.00"/><path d="M93.10,55.90h-10.00"/></g>
<g font-family="'DejaVu Sans', 'Liberation Sans', sans-serif" font-size="19.44" fill="#000"><text x="93.10" y="972.10" text-anchor="middle">−1000</text><text x="73.40" y="944.20" text-anchor="end">−1000</text><text x="203.21" y="972.10" text-anchor="middle">−750</text><text x="73.40" y="834.07" text-anchor="end">−750</text><text x="313.32" y="972.10" text-anchor="middle">−500</text><text x="73.40" y="723.95" text-anchor="end">−500</text><text x="423.44" y="972.10" text-anchor="middle">−250</text><text x="73.40" y="613.82" text-anchor="end">−250</text><text x="533.55" y="972.10" text-anchor="middle">0</text><text x="73.40" y="503.70" text-anchor="end">0</text><text x="643.66" y="972.10" text-anchor="middle">250</text><text x="73.40" y="393.57" text-anchor="end">250</text><text x="753.78" y="972.10" text-anchor="middle">500</text><text x="73.40" y="283.45" text-anchor="end">500</text><text x="863.89" y="972.10" text-anchor="middle">750</text><text x="73.40" y="173.32" text-anchor="end">750</text><text x="974.00" y="972.10" text-anchor="middle">1000</text><text x="73.40" y="63.20" text-anchor="end">1000</text></g>
<rect x="93.10" y="55.90" width="880.90" height="881.00" fill="none" stroke="#000" stroke-width="1.80"/>
<text x="533.90" y="39.00" text-anchor="middle" font-family="'DejaVu Sans', 'Liberation Sans', sans-serif" font-size="27.78">15 days, 0 hrs, 0 mins (1186 agents)</text>
<rect x="976.05" y="98.00" width="36.05" height="902.90" fill="#fff"/>
<rect x="976.05" y="98.00" width="36.05" height="902.90" fill="url(#go)" stroke="#000" stroke-width="1.80"/>
<g stroke="#000" stroke-width="1.70"><path d="M1012.10,865.88h10.00"/><path d="M1012.10,728.66h10.00"/><path d="M1012.10,591.44h10.00"/><path d="M1012.10,454.22h10.00"/><path d="M1012.10,317.00h10.00"/><path d="M1012.10,179.78h10.00"/></g>
<g font-family="'DejaVu Sans', 'Liberation Sans', sans-serif" font-size="19.44" fill="#000"><text x="1031.70" y="873.03">10</text><text x="1031.70" y="735.81">15</text><text x="1031.70" y="598.59">20</text><text x="1031.70" y="461.37">25</text><text x="1031.70" y="324.15">30</text><text x="1031.70" y="186.93">35</text></g>
<text transform="translate(1090.20,551.40) rotate(-90)" text-anchor="middle" font-family="'DejaVu Sans', 'Liberation Sans', sans-serif" font-size="27.78">oxygen</text>
<rect x="93.10" y="1008.10" width="880.85" height="34.75" fill="url(#gv)" stroke="#000" stroke-width="1.80"/>
<g stroke="#000" stroke-width="1.70"><path d="M192.18,1042.85v10.00"/><path d="M304.59,1042.85v10.00"/><path d="M416.99,1042.85v10.00"/><path d="M529.39,1042.85v10.00"/><path d="M641.80,1042.85v10.00"/><path d="M754.20,1042.85v10.00"/><path d="M866.60,1042.85v10.00"/></g>
<g font-family="'DejaVu Sans', 'Liberation Sans', sans-serif" font-size="19.44" fill="#000" text-anchor="middle"><text x="192.18" y="1077.00">0.6</text><text x="304.59" y="1077.00">0.8</text><text x="416.99" y="1077.00">1.0</text><text x="529.39" y="1077.00">1.2</text><text x="641.80" y="1077.00">1.4</text><text x="754.20" y="1077.00">1.6</text><text x="866.60" y="1077.00">1.8</text></g>
<text x="532.90" y="1115.00" text-anchor="middle" font-family="'DejaVu Sans', 'Liberation Sans', sans-serif" font-size="27.78">oncoprotein</text>
</svg>
</body></html>
